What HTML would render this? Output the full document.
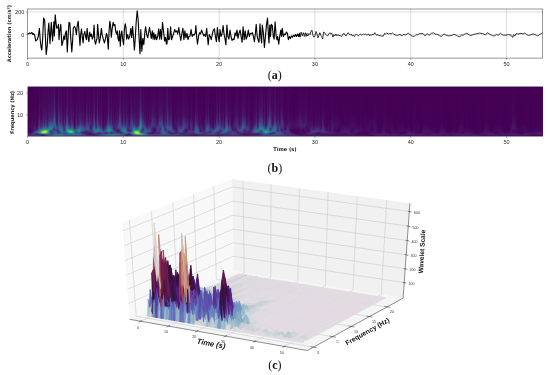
<!DOCTYPE html><html><head><meta charset="utf-8"><title>Figure</title><style>html,body{margin:0;padding:0;background:#fff}body{width:550px;height:375px;position:relative;overflow:hidden}#b{position:absolute;left:28px;top:87px;width:515px;height:49px;display:flex;background:#440154}#b i{flex:0 0 1px;height:49px;display:block}</style></head><body><div id="b"><i style="background:linear-gradient(#440154,#440154 75.5%,#46075a 89.8%,#460b5e 93.9%,#482071 95.9%,#46327e 98%,#472e7c)"></i><i style="background:linear-gradient(#440154,#440154 57.1%,#46075a 83.7%,#450457 89.8%,#460b5e 93.9%,#482677 95.9%,#453581 98%,#472e7c)"></i><i style="background:linear-gradient(#440154,#440154 55.1%,#46085c 79.6%,#440256 91.8%,#471063 93.9%,#472c7a 95.9%,#443983 98%,#472f7d)"></i><i style="background:linear-gradient(#440154,#440256 59.2%,#470e61 83.7%,#450457 89.8%,#450559 91.8%,#46307e 95.9%,#443b84 98%,#46307e)"></i><i style="background:linear-gradient(#440154,#450457 55.1%,#471063 81.6%,#46085c 89.8%,#471365 91.8%,#482979 93.9%,#433e85 98%,#46307e)"></i><i style="background:linear-gradient(#440154,#440256 51%,#46085c 75.5%,#48186a 89.8%,#482475 91.8%,#453882 93.9%,#46327e 95.9%,#423f85 98%,#46327e)"></i><i style="background:linear-gradient(#440154,#46075a 71.4%,#470e61 77.6%,#482979 89.8%,#3f4788 93.9%,#472c7a 95.9%,#423f85 98%,#46327e)"></i><i style="background:linear-gradient(#440256,#450559 51%,#471365 75.5%,#481a6c 81.6%,#482677 87.8%,#46327e 89.8%,#3f4788 91.8%,#3b528b 93.9%,#482071 95.9%,#433e85 98%,#46337f)"></i><i style="background:linear-gradient(#440154,#440154 51%,#46075a 75.5%,#470d60 83.7%,#471164 85.7%,#482071 87.8%,#443a83 89.8%,#38588c 91.8%,#365d8d 93.9%,#470d60 95.9%,#443b84 98%,#463480)"></i><i style="background:linear-gradient(#440154,#450457 75.5%,#460a5d 79.6%,#481f70 85.7%,#46307e 87.8%,#3d4d8a 89.8%,#306a8e 91.8%,#30698e 93.9%,#471063 95.9%,#453781 98%,#463480)"></i><i style="background:linear-gradient(#440256,#450457 44.9%,#470d60 65.3%,#481d6f 75.5%,#443983 83.7%,#3b518b 87.8%,#27808e 91.8%,#29798e 93.9%,#482979 95.9%,#453581)"></i><i style="background:linear-gradient(#450559,#470e61 42.9%,#481a6c 59.2%,#482677 69.4%,#453781 77.6%,#3e4c8a 83.7%,#39568c 85.7%,#31688e 87.8%,#1e9b8a 91.8%,#21908d 93.9%,#423f85 95.9%,#482979 98%,#453581)"></i><i style="background:linear-gradient(#440256,#46075a 55.1%,#46085c 61.2%,#481467 73.5%,#482576 79.6%,#424086 83.7%,#39568c 85.7%,#1f968b 89.8%,#34b679 91.8%,#22a884 93.9%,#3b518b 95.9%,#482071 98%,#453781)"></i><i style="background:linear-gradient(#450457,#460a5d 55.1%,#470e61 65.3%,#481f70 77.6%,#472f7d 81.6%,#424186 83.7%,#365c8d 85.7%,#27808e 87.8%,#26ad81 89.8%,#73d056 91.8%,#46c06f 93.9%,#34608d 95.9%,#481467 98%,#453781)"></i><i style="background:linear-gradient(#450457,#460b5e 55.1%,#48186a 69.4%,#482979 75.5%,#3e4a89 81.6%,#2c718e 85.7%,#20928c 87.8%,#4ac16d 89.8%,#bade28 91.8%,#75d054 93.9%,#306a8e 95.9%,#450559 98%,#453882)"></i><i style="background:linear-gradient(#450559,#470e61 42.9%,#481a6c 59.2%,#482878 71.4%,#453882 77.6%,#3d4e8a 81.6%,#33628d 83.7%,#287c8e 85.7%,#1fa287 87.8%,#73d056 89.8%,#ece51b 91.8%,#98d83e 93.9%,#2d708e 95.9%,#471063 98%,#453882)"></i><i style="background:linear-gradient(#450457,#460a5d 36.7%,#481467 57.1%,#481668 69.4%,#481b6d 73.5%,#472a7a 77.6%,#3e4a89 81.6%,#33638d 83.7%,#26828e 85.7%,#25ac82 87.8%,#90d743 89.8%,#fde725 91.8%,#9dd93b 93.9%,#2c718e 95.9%,#482173 98%,#443983)"></i><i style="background:linear-gradient(#450559,#460a5d 38.8%,#481467 57.1%,#481d6f 65.3%,#472c7a 71.4%,#404588 77.6%,#355e8d 81.6%,#2d708e 83.7%,#23898e 85.7%,#2ab07f 87.8%,#95d840 89.8%,#eae51a 91.8%,#86d549 93.9%,#2c718e 95.9%,#46327e 98%,#443983)"></i><i style="background:linear-gradient(#450559,#460b5e 36.7%,#481a6c 61.2%,#482576 71.4%,#453882 77.6%,#3b518b 81.6%,#31678e 83.7%,#25838e 85.7%,#26ad81 87.8%,#7ad151 89.8%,#aadc32 91.8%,#5cc863 93.9%,#2e6e8e 95.9%,#424186 98%,#443a83)"></i><i style="background:linear-gradient(#450457,#46085c 42.9%,#471164 67.3%,#481a6c 73.5%,#482677 77.6%,#46337f 79.6%,#404688 81.6%,#34608d 83.7%,#26818e 85.7%,#21a685 87.8%,#48c16e 89.8%,#50c46a 91.8%,#2eb37c 93.9%,#31678e 95.9%,#443a83)"></i><i style="background:linear-gradient(#46075a,#470e61 44.9%,#481d6f 65.3%,#46327e 73.5%,#404688 77.6%,#33628d 81.6%,#1f998a 87.8%,#1e9d89 89.8%,#1f968b 93.9%,#375b8d 95.9%,#365d8d 98%,#443b84)"></i><i style="background:linear-gradient(#450559,#460a5d 32.7%,#481a6c 59.2%,#472a7a 67.3%,#443983 71.4%,#375a8c 77.6%,#26818e 83.7%,#23888e 85.7%,#25858e 87.8%,#2d718e 89.8%,#32648e 91.8%,#29798e 93.9%,#3f4889 95.9%,#30698e 98%,#443b84)"></i><i style="background:linear-gradient(#46075a,#460b5e 32.7%,#481769 53.1%,#482071 61.2%,#472e7c 67.3%,#433e85 71.4%,#355f8d 77.6%,#25838e 83.7%,#25838e 85.7%,#2c738e 87.8%,#3d4d8a 89.8%,#46327e 91.8%,#33638d 93.9%,#46307e 95.9%,#2c738e 98%,#443b84)"></i><i style="background:linear-gradient(#46075a,#471063 38.8%,#482374 63.3%,#443983 71.4%,#365c8d 77.6%,#2a778e 81.6%,#277f8e 83.7%,#297a8e 85.7%,#31678e 87.8%,#414287 89.8%,#482071 91.8%,#38588c 93.9%,#482173 95.9%,#287d8e 98%,#433d84)"></i><i style="background:linear-gradient(#46075a,#470e61 38.8%,#481f70 61.2%,#46327e 69.4%,#3b518b 75.5%,#2d718e 81.6%,#2d718e 83.7%,#31688e 85.7%,#433d84 91.8%,#375b8d 93.9%,#472e7c 95.9%,#25858e 98%,#433d84)"></i><i style="background:linear-gradient(#46075a,#470e61 34.7%,#481c6e 53.1%,#472f7d 63.3%,#3e4c8a 71.4%,#355f8d 77.6%,#375a8c 81.6%,#453581 85.7%,#424186 87.8%,#39558c 89.8%,#39558c 91.8%,#34618d 93.9%,#414287 95.9%,#228b8d 98%,#433d84)"></i><i style="background:linear-gradient(#470d60,#471365 18.4%,#481f70 36.7%,#472c7a 46.9%,#414487 59.2%,#375b8d 69.4%,#33638d 75.5%,#355f8d 79.6%,#39558c 81.6%,#404588 83.7%,#472c7a 85.7%,#443983 87.8%,#39558c 89.8%,#355f8d 91.8%,#32648e 93.9%,#3b528b 95.9%,#21918c 98%,#433e85)"></i><i style="background:linear-gradient(#450559,#471063 44.9%,#482173 61.2%,#453581 69.4%,#38588c 79.6%,#375a8c 83.7%,#3e4a89 87.8%,#3d4e8a 89.8%,#365c8d 91.8%,#34618d 93.9%,#365c8d 95.9%,#1f948c 98%,#433e85)"></i><i style="background:linear-gradient(#440256,#450559 40.8%,#470e61 69.4%,#481d6f 75.5%,#414287 81.6%,#3d4d8a 83.7%,#3d4d8a 85.7%,#423f85 87.8%,#453882 89.8%,#3b518b 91.8%,#39558c 93.9%,#34608d 95.9%,#1f968b 98%,#433e85)"></i><i style="background:linear-gradient(#440154,#440256 42.9%,#470e61 67.3%,#481f70 75.5%,#414287 83.7%,#423f85 85.7%,#482576 87.8%,#481f70 89.8%,#404688 91.8%,#423f85 93.9%,#34618d 95.9%,#1f968b 98%,#433e85)"></i><i style="background:linear-gradient(#460a5d,#471063 22.4%,#481d6f 42.9%,#443a83 65.3%,#3a548c 83.7%,#3b518b 85.7%,#46327e 89.8%,#423f85 91.8%,#481f70 93.9%,#355f8d 95.9%,#1f958b 98%,#423f85)"></i><i style="background:linear-gradient(#450559,#470d60 38.8%,#481c6e 57.1%,#472a7a 67.3%,#453882 73.5%,#32658e 83.7%,#31678e 85.7%,#3d4d8a 89.8%,#404688 91.8%,#482173 93.9%,#355e8d 95.9%,#20928c 98%,#423f85)"></i><i style="background:linear-gradient(#450559,#460a5d 34.7%,#481d6f 67.3%,#482576 71.4%,#453781 75.5%,#3b528b 79.6%,#2e6f8e 83.7%,#2a768e 85.7%,#2b748e 87.8%,#375b8d 91.8%,#424186 93.9%,#365c8d 95.9%,#218f8d 98%,#423f85)"></i><i style="background:linear-gradient(#46075a,#471063 42.9%,#481d6f 59.2%,#433e85 73.5%,#3a548c 79.6%,#2a768e 85.7%,#297a8e 87.8%,#2f6b8e 91.8%,#3a548c 93.9%,#375a8c 95.9%,#238a8d 98%,#423f85)"></i><i style="background:linear-gradient(#440154,#450457 40.8%,#471063 69.4%,#481769 73.5%,#482677 77.6%,#3b518b 83.7%,#355e8d 85.7%,#32648e 87.8%,#31668e 89.8%,#2e6f8e 91.8%,#38598c 93.9%,#38588c 95.9%,#25838e 98%,#423f85)"></i><i style="background:linear-gradient(#440256,#46075a 49%,#481467 69.4%,#481f70 77.6%,#453781 83.7%,#443a83 85.7%,#46327e 87.8%,#3e4989 89.8%,#2f6b8e 91.8%,#3d4e8a 93.9%,#39558c 95.9%,#287d8e 98%,#424086)"></i><i style="background:linear-gradient(#450457,#460a5d 46.9%,#482475 75.5%,#463480 83.7%,#46327e 85.7%,#482173 87.8%,#414287 89.8%,#306a8e 91.8%,#443b84 93.9%,#2b758e 98%,#424086)"></i><i style="background:linear-gradient(#440256,#450457 32.7%,#471164 69.4%,#482475 75.5%,#3e4989 81.6%,#375a8c 85.7%,#38598c 87.8%,#34618d 89.8%,#2d708e 91.8%,#46327e 93.9%,#39558c 95.9%,#2e6e8e 98%,#424086)"></i><i style="background:linear-gradient(#450559,#470e61 38.8%,#481f70 57.1%,#472e7c 65.3%,#404588 73.5%,#2a778e 83.7%,#25838e 87.8%,#26828e 91.8%,#3f4889 93.9%,#31678e 98%,#424086)"></i><i style="background:linear-gradient(#460a5d,#471365 34.7%,#481c6e 49%,#482677 57.1%,#443b84 67.3%,#3c4f8a 73.5%,#2f6c8e 79.6%,#20928c 85.7%,#1f9f88 87.8%,#20a486 89.8%,#1e9d89 91.8%,#30698e 93.9%,#38598c 95.9%,#34618d 98%,#424086)"></i><i style="background:linear-gradient(#450559,#460b5e 51%,#481467 65.3%,#481d6f 71.4%,#472d7b 75.5%,#3f4889 79.6%,#2d718e 83.7%,#23898e 85.7%,#20a486 87.8%,#38b977 89.8%,#34b679 91.8%,#26828e 93.9%,#365c8d 95.9%,#365c8d 98%,#424086)"></i><i style="background:linear-gradient(#450457,#470e61 63.3%,#471365 69.4%,#481b6d 73.5%,#46307e 79.6%,#423f85 81.6%,#39558c 83.7%,#2b748e 85.7%,#1e9d89 87.8%,#48c16e 89.8%,#58c765 91.8%,#1f978b 93.9%,#34608d 95.9%,#38598c 98%,#424086)"></i><i style="background:linear-gradient(#450457,#46085c 42.9%,#481b6d 73.5%,#482677 77.6%,#424086 81.6%,#3a548c 83.7%,#2c718e 85.7%,#1f988b 87.8%,#48c16e 89.8%,#69cd5b 91.8%,#1fa287 93.9%,#31678e 95.9%,#38588c 98%,#424086)"></i><i style="background:linear-gradient(#450559,#471063 44.9%,#481a6c 59.2%,#472d7b 73.5%,#443983 77.6%,#3b518b 81.6%,#2a788e 85.7%,#1f958b 87.8%,#37b878 89.8%,#60ca60 91.8%,#21a585 93.9%,#2e6f8e 95.9%,#424086)"></i><i style="background:linear-gradient(#450457,#46085c 42.9%,#481467 63.3%,#481f70 69.4%,#46337f 75.5%,#3a538b 81.6%,#2c728e 85.7%,#23898e 87.8%,#22a884 89.8%,#3fbc73 91.8%,#1f9e89 93.9%,#2a768e 95.9%,#424086)"></i><i style="background:linear-gradient(#450457,#46085c 42.9%,#471365 67.3%,#481a6c 73.5%,#472c7a 79.6%,#424186 83.7%,#3a548c 85.7%,#2e6e8e 87.8%,#218f8d 89.8%,#1fa188 91.8%,#238a8d 93.9%,#287d8e 95.9%,#375b8d 98%,#424086)"></i><i style="background:linear-gradient(#440154,#450559 59.2%,#440256 71.4%,#460a5d 79.6%,#481b6d 83.7%,#46327e 85.7%,#3a538b 87.8%,#2b758e 89.8%,#287d8e 91.8%,#2f6c8e 93.9%,#27808e 95.9%,#365d8d 98%,#424086)"></i><i style="background:linear-gradient(#440154,#450457 49%,#471063 69.4%,#481d6f 77.6%,#472e7c 83.7%,#443b84 85.7%,#31688e 89.8%,#365d8d 91.8%,#404688 93.9%,#27808e 95.9%,#424086)"></i><i style="background:linear-gradient(#450457,#46085c 32.7%,#470e61 49%,#481a6c 63.3%,#482677 73.5%,#463480 79.6%,#404588 83.7%,#2f6c8e 89.8%,#39568c 91.8%,#46307e 93.9%,#277e8e 95.9%,#355f8d 98%,#424086)"></i><i style="background:linear-gradient(#440256,#450457 34.7%,#471063 69.4%,#481c6e 75.5%,#472f7d 79.6%,#3d4d8a 83.7%,#2c718e 87.8%,#287c8e 89.8%,#31688e 91.8%,#423f85 93.9%,#2a788e 95.9%,#424086)"></i><i style="background:linear-gradient(#450457,#460a5d 42.9%,#481b6d 71.4%,#472a7a 77.6%,#453581 79.6%,#38598c 83.7%,#26828e 87.8%,#23898e 89.8%,#2c738e 91.8%,#3d4e8a 93.9%,#2c718e 95.9%,#355e8d 98%,#423f85)"></i><i style="background:linear-gradient(#450559,#460a5d 36.7%,#470e61 49%,#481c6e 65.3%,#472d7b 73.5%,#433d84 77.6%,#39568c 81.6%,#24868e 87.8%,#24868e 89.8%,#2e6e8e 91.8%,#3c4f8a 93.9%,#306a8e 95.9%,#375b8d 98%,#423f85)"></i><i style="background:linear-gradient(#450457,#460a5d 40.8%,#481a6c 63.3%,#482071 67.3%,#453882 75.5%,#375a8c 81.6%,#2b758e 85.7%,#287d8e 87.8%,#2b758e 89.8%,#39558c 91.8%,#404588 93.9%,#34608d 95.9%,#38588c 98%,#423f85)"></i><i style="background:linear-gradient(#450457,#460b5e 42.9%,#481769 65.3%,#482071 71.4%,#472c7a 75.5%,#3b518b 81.6%,#2e6d8e 85.7%,#2c718e 87.8%,#33638d 89.8%,#453882 91.8%,#46337f 93.9%,#39558c 95.9%,#3a538b 98%,#423f85)"></i><i style="background:linear-gradient(#440256,#450559 36.7%,#471063 63.3%,#482374 73.5%,#46337f 77.6%,#3e4989 81.6%,#33638d 85.7%,#31678e 87.8%,#39568c 89.8%,#482677 91.8%,#482173 93.9%,#3e4989 95.9%,#3d4d8a 98%,#423f85)"></i><i style="background:linear-gradient(#450457,#46085c 36.7%,#470d60 49%,#481d6f 69.4%,#472d7b 77.6%,#433e85 81.6%,#38588c 85.7%,#365d8d 87.8%,#3d4d8a 89.8%,#482677 91.8%,#481a6c 93.9%,#433e85 95.9%,#404688 98%,#423f85)"></i><i style="background:linear-gradient(#440256,#450457 36.7%,#460b5e 69.4%,#471063 73.5%,#481b6d 77.6%,#46327e 81.6%,#3c4f8a 85.7%,#3b518b 87.8%,#433e85 89.8%,#482374 91.8%,#481c6e 93.9%,#46337f 95.9%,#423f85 98%,#433e85)"></i><i style="background:linear-gradient(#440154,#450457 44.9%,#460a5d 63.3%,#481b6d 73.5%,#46307e 79.6%,#3e4c8a 85.7%,#3f4788 87.8%,#472a7a 89.8%,#48186a 91.8%,#481f70 93.9%,#453781 98%,#433e85)"></i><i style="background:linear-gradient(#450559,#46085c 26.5%,#481467 51%,#482878 67.3%,#443983 75.5%,#3e4c8a 81.6%,#3b518b 85.7%,#404688 87.8%,#482878 89.8%,#481668 91.8%,#482071 93.9%,#482071 95.9%,#433e85)"></i><i style="background:linear-gradient(#450559,#46085c 30.6%,#471365 55.1%,#482677 69.4%,#453781 75.5%,#39558c 83.7%,#39568c 85.7%,#3d4d8a 87.8%,#481f70 91.8%,#481a6c 95.9%,#482677 98%,#433e85)"></i><i style="background:linear-gradient(#440256,#46085c 53.1%,#470d60 63.3%,#481a6c 71.4%,#482878 75.5%,#3e4989 81.6%,#3b518b 83.7%,#3b528b 85.7%,#3d4d8a 87.8%,#433d84 89.8%,#482475 91.8%,#481467 95.9%,#482071 98%,#433d84)"></i><i style="background:linear-gradient(#450559,#46075a 22.4%,#471063 49%,#482374 67.3%,#433d84 81.6%,#414287 87.8%,#443b84 89.8%,#482173 91.8%,#471164 95.9%,#48186a 98%,#433d84)"></i><i style="background:linear-gradient(#440256,#46075a 51%,#470e61 61.2%,#482475 77.6%,#481b6d 83.7%,#482374 85.7%,#453581 87.8%,#443983 89.8%,#481b6d 91.8%,#481c6e 93.9%,#471365 95.9%,#471365 98%,#433d84)"></i><i style="background:linear-gradient(#440256,#46075a 42.9%,#481d6f 75.5%,#48186a 83.7%,#482374 85.7%,#453781 87.8%,#433e85 89.8%,#482071 91.8%,#482374 93.9%,#470d60 98%,#443b84)"></i><i style="background:linear-gradient(#440256,#450457 32.7%,#470d60 69.4%,#481b6d 75.5%,#453882 81.6%,#3e4c8a 87.8%,#3d4d8a 89.8%,#453581 91.8%,#472d7b 93.9%,#481d6f 95.9%,#460a5d 98%,#443b84)"></i><i style="background:linear-gradient(#450559,#460a5d 30.6%,#481769 53.1%,#46337f 71.4%,#433e85 75.5%,#365d8d 83.7%,#32648e 87.8%,#33628d 89.8%,#453882 93.9%,#482374 95.9%,#460b5e 98%,#443b84)"></i><i style="background:linear-gradient(#46085c,#471063 36.7%,#481c6e 53.1%,#482878 61.2%,#433e85 71.4%,#2c728e 87.8%,#2b758e 89.8%,#32648e 91.8%,#424086 93.9%,#482878 95.9%,#471063 98%,#443b84)"></i><i style="background:linear-gradient(#440256,#46075a 53.1%,#460b5e 65.3%,#481668 71.4%,#453581 81.6%,#404588 83.7%,#2b748e 87.8%,#26818e 89.8%,#2d718e 91.8%,#414287 93.9%,#481769 98%,#443a83)"></i><i style="background:linear-gradient(#450457,#460a5d 51%,#482475 79.6%,#472d7b 81.6%,#423f85 83.7%,#2a768e 87.8%,#24868e 89.8%,#2c738e 91.8%,#433e85 93.9%,#481d6f 98%,#443a83)"></i><i style="background:linear-gradient(#460a5d,#471365 32.7%,#481f70 49%,#46307e 63.3%,#3c4f8a 79.6%,#355e8d 83.7%,#297b8e 87.8%,#25848e 89.8%,#2d708e 91.8%,#46327e 93.9%,#46307e 95.9%,#482576 98%,#443983)"></i><i style="background:linear-gradient(#440256,#46075a 46.9%,#481467 65.3%,#482878 73.5%,#3a538b 81.6%,#297a8e 87.8%,#277f8e 89.8%,#31688e 91.8%,#481f70 93.9%,#463480 95.9%,#472f7d 98%,#443983)"></i><i style="background:linear-gradient(#450457,#46085c 40.8%,#481668 69.4%,#482475 77.6%,#472e7c 79.6%,#3c4f8a 83.7%,#2c728e 87.8%,#2a788e 89.8%,#33638d 91.8%,#481467 93.9%,#453882 95.9%,#443983)"></i><i style="background:linear-gradient(#440256,#450559 51%,#471063 69.4%,#482173 77.6%,#472a7a 79.6%,#39568c 85.7%,#31668e 87.8%,#2e6f8e 89.8%,#33638d 91.8%,#482677 93.9%,#443b84 95.9%,#414287 98%,#453882)"></i><i style="background:linear-gradient(#450457,#46085c 34.7%,#470e61 51%,#481a6c 65.3%,#472a7a 77.6%,#463480 81.6%,#404688 85.7%,#32648e 89.8%,#32658e 91.8%,#443983 93.9%,#423f85 95.9%,#3d4d8a 98%,#453882)"></i><i style="background:linear-gradient(#440154,#450457 57.1%,#470d60 73.5%,#482071 83.7%,#472a7a 85.7%,#443b84 87.8%,#39568c 89.8%,#31668e 91.8%,#414287 93.9%,#414487 95.9%,#38588c 98%,#453882)"></i><i style="background:linear-gradient(#440154,#440256 59.2%,#470e61 83.7%,#481769 85.7%,#472c7a 87.8%,#3d4d8a 89.8%,#33628d 91.8%,#424086 93.9%,#3f4788 95.9%,#33628d 98%,#453781)"></i><i style="background:linear-gradient(#440256,#450559 46.9%,#471063 75.5%,#48186a 81.6%,#482677 85.7%,#453781 87.8%,#3c508b 89.8%,#375b8d 91.8%,#46307e 93.9%,#3e4c8a 95.9%,#2f6b8e 98%,#453781)"></i><i style="background:linear-gradient(#440154,#440256 53.1%,#460a5d 73.5%,#471063 77.6%,#481d6f 81.6%,#443a83 85.7%,#375b8d 89.8%,#3a548c 91.8%,#481668 93.9%,#3c4f8a 95.9%,#2c738e 98%,#453781)"></i><i style="background:linear-gradient(#440256,#46075a 55.1%,#470d60 69.4%,#471365 73.5%,#482878 79.6%,#414487 83.7%,#32658e 87.8%,#2f6b8e 89.8%,#38588c 91.8%,#481769 93.9%,#3b528b 95.9%,#287c8e 98%,#453581)"></i><i style="background:linear-gradient(#450457,#460a5d 46.9%,#481b6d 65.3%,#482979 71.4%,#453882 75.5%,#38598c 81.6%,#27808e 87.8%,#27808e 89.8%,#31688e 91.8%,#463480 93.9%,#3a548c 95.9%,#25838e 98%,#453581)"></i><i style="background:linear-gradient(#460a5d,#481467 40.8%,#472c7a 63.3%,#453882 69.4%,#3e4c8a 75.5%,#34608d 79.6%,#1f958b 87.8%,#20928c 89.8%,#2a768e 91.8%,#404588 93.9%,#39558c 95.9%,#23898e 98%,#463480)"></i><i style="background:linear-gradient(#450559,#470d60 46.9%,#471164 59.2%,#481a6c 67.3%,#482979 73.5%,#46337f 75.5%,#33638d 81.6%,#238a8d 85.7%,#1f978b 87.8%,#20928c 89.8%,#2b748e 91.8%,#424186 93.9%,#39568c 95.9%,#218f8d 98%,#463480)"></i><i style="background:linear-gradient(#440256,#46075a 40.8%,#470e61 59.2%,#48186a 67.3%,#46307e 75.5%,#39568c 81.6%,#297a8e 85.7%,#25858e 87.8%,#26828e 89.8%,#32648e 91.8%,#472d7b 93.9%,#38598c 95.9%,#20928c 98%,#463480)"></i><i style="background:linear-gradient(#450559,#460b5e 36.7%,#481a6c 59.2%,#482677 69.4%,#443983 77.6%,#2d708e 87.8%,#2e6f8e 89.8%,#39558c 91.8%,#471063 93.9%,#375b8d 95.9%,#1f948c 98%,#46337f)"></i><i style="background:linear-gradient(#440256,#450457 42.9%,#460b5e 67.3%,#481b6d 75.5%,#414287 83.7%,#355f8d 89.8%,#3a538b 91.8%,#482576 93.9%,#355e8d 95.9%,#1f958b 98%,#46337f)"></i><i style="background:linear-gradient(#440256,#46075a 44.9%,#470d60 59.2%,#482173 83.7%,#482576 85.7%,#3d4e8a 89.8%,#3a538b 91.8%,#433e85 93.9%,#34618d 95.9%,#1f948c 98%,#46327e)"></i><i style="background:linear-gradient(#440256,#450559 49%,#470e61 65.3%,#481c6e 77.6%,#481c6e 81.6%,#481668 85.7%,#482576 87.8%,#443b84 89.8%,#3e4c8a 91.8%,#3e4c8a 93.9%,#32648e 95.9%,#20928c 98%,#46327e)"></i><i style="background:linear-gradient(#440256,#450559 40.8%,#460b5e 59.2%,#481769 71.4%,#472d7b 81.6%,#472e7c 83.7%,#482576 87.8%,#482878 89.8%,#443a83 91.8%,#32658e 95.9%,#218f8d 98%,#46327e)"></i><i style="background:linear-gradient(#440256,#46085c 53.1%,#471164 67.3%,#472e7c 83.7%,#482677 85.7%,#481769 87.8%,#470e61 89.8%,#482576 91.8%,#3e4a89 93.9%,#32648e 95.9%,#238a8d 98%,#46307e)"></i><i style="background:linear-gradient(#450457,#46075a 32.7%,#470d60 51%,#481f70 71.4%,#443a83 81.6%,#443a83 83.7%,#46327e 85.7%,#471063 89.8%,#481b6d 91.8%,#414287 93.9%,#25848e 98%,#46307e)"></i><i style="background:linear-gradient(#450457,#46075a 34.7%,#471365 61.2%,#482071 69.4%,#404588 79.6%,#3f4788 81.6%,#414487 83.7%,#453581 85.7%,#481c6e 87.8%,#471365 89.8%,#453581 93.9%,#365d8d 95.9%,#287d8e 98%,#46307e)"></i><i style="background:linear-gradient(#46075a,#470d60 28.6%,#481668 42.9%,#482173 53.1%,#46307e 61.2%,#3b518b 75.5%,#3a548c 79.6%,#3a538b 81.6%,#3e4c8a 83.7%,#443b84 85.7%,#482173 87.8%,#482071 89.8%,#472c7a 91.8%,#482576 93.9%,#38588c 95.9%,#2b758e 98%,#472f7d)"></i><i style="background:linear-gradient(#46085c,#471063 34.7%,#481c6e 51%,#463480 65.3%,#3a548c 77.6%,#375b8d 81.6%,#3b518b 85.7%,#414287 87.8%,#46337f 91.8%,#471365 93.9%,#3a548c 95.9%,#2f6c8e 98%,#472f7d)"></i><i style="background:linear-gradient(#450457,#46085c 42.9%,#471063 63.3%,#481f70 71.4%,#404588 79.6%,#365c8d 83.7%,#33628d 85.7%,#355e8d 87.8%,#3b528b 89.8%,#424086 91.8%,#481f70 93.9%,#3a538b 95.9%,#33628d 98%,#472e7c)"></i><i style="background:linear-gradient(#440256,#450559 44.9%,#471164 69.4%,#48186a 73.5%,#482878 77.6%,#3f4788 81.6%,#2f6b8e 85.7%,#2c718e 87.8%,#2f6b8e 89.8%,#433d84 93.9%,#3a538b 95.9%,#39558c 98%,#472e7c)"></i><i style="background:linear-gradient(#450559,#471063 44.9%,#482878 69.4%,#453581 75.5%,#404688 79.6%,#26818e 87.8%,#26818e 89.8%,#2e6e8e 91.8%,#3a548c 93.9%,#3b528b 95.9%,#3e4989 98%,#472e7c)"></i><i style="background:linear-gradient(#450457,#46085c 40.8%,#470e61 57.1%,#481a6c 67.3%,#482878 73.5%,#453781 77.6%,#3c4f8a 81.6%,#25858e 87.8%,#23898e 89.8%,#287d8e 91.8%,#3c4f8a 95.9%,#443a83 98%,#472d7b)"></i><i style="background:linear-gradient(#450457,#460a5d 59.2%,#471164 69.4%,#481a6c 73.5%,#482979 77.6%,#404588 81.6%,#38588c 83.7%,#2a788e 87.8%,#277f8e 89.8%,#287d8e 91.8%,#2e6d8e 93.9%,#3f4889 95.9%,#472a7a 98%,#472d7b)"></i><i style="background:linear-gradient(#450559,#460b5e 36.7%,#481c6e 61.2%,#482475 67.3%,#443983 77.6%,#375a8c 87.8%,#2c718e 91.8%,#2e6f8e 93.9%,#433e85 95.9%,#481a6c 98%,#472c7a)"></i><i style="background:linear-gradient(#440256,#46085c 53.1%,#481769 67.3%,#46307e 81.6%,#46307e 83.7%,#482677 87.8%,#433e85 89.8%,#355f8d 91.8%,#2e6e8e 93.9%,#472f7d 95.9%,#46085c 98%,#472c7a)"></i><i style="background:linear-gradient(#440256,#46085c 57.1%,#481668 73.5%,#472a7a 83.7%,#482677 85.7%,#481769 87.8%,#482677 89.8%,#3e4c8a 91.8%,#2f6b8e 93.9%,#481c6e 95.9%,#471164 98%,#472c7a)"></i><i style="background:linear-gradient(#440154,#450457 53.1%,#460a5d 71.4%,#48186a 77.6%,#453581 83.7%,#453882 85.7%,#482475 89.8%,#424086 91.8%,#2f6c8e 93.9%,#470d60 95.9%,#482374 98%,#472a7a)"></i><i style="background:linear-gradient(#450457,#460b5e 46.9%,#481a6c 63.3%,#453581 77.6%,#433e85 83.7%,#443983 85.7%,#48186a 89.8%,#404588 91.8%,#2c738e 93.9%,#482677 95.9%,#46327e 98%,#472a7a)"></i><i style="background:linear-gradient(#450559,#460a5d 28.6%,#481668 51%,#482576 63.3%,#424186 75.5%,#3e4989 81.6%,#423f85 85.7%,#472d7b 87.8%,#46307e 89.8%,#355e8d 91.8%,#26828e 93.9%,#404688 95.9%,#424086 98%,#472a7a)"></i><i style="background:linear-gradient(#450559,#460a5d 34.7%,#470e61 46.9%,#481d6f 63.3%,#472e7c 71.4%,#3e4c8a 79.6%,#365c8d 83.7%,#31668e 89.8%,#1f988b 93.9%,#32658e 95.9%,#3d4e8a 98%,#482979)"></i><i style="background:linear-gradient(#440256,#46075a 49%,#481668 67.3%,#481d6f 71.4%,#472d7b 75.5%,#3f4889 79.6%,#306a8e 83.7%,#20928c 89.8%,#22a785 91.8%,#31b57b 93.9%,#26828e 95.9%,#38598c 98%,#482979)"></i><i style="background:linear-gradient(#450559,#471164 49%,#481c6e 63.3%,#482979 71.4%,#433d84 77.6%,#39558c 81.6%,#287d8e 85.7%,#1f958b 87.8%,#29af7f 89.8%,#5cc863 91.8%,#70cf57 93.9%,#1e9d89 95.9%,#33628d 98%,#482878)"></i><i style="background:linear-gradient(#450457,#460b5e 53.1%,#471365 65.3%,#481d6f 73.5%,#472a7a 77.6%,#424186 81.6%,#3a548c 83.7%,#2e6f8e 85.7%,#21918c 87.8%,#3fbc73 89.8%,#a5db36 91.8%,#b5de2b 93.9%,#2fb47c 95.9%,#2f6b8e 98%,#482878)"></i><i style="background:linear-gradient(#450457,#46075a 40.8%,#470e61 63.3%,#48186a 73.5%,#482173 77.6%,#46337f 81.6%,#414487 83.7%,#365d8d 85.7%,#25848e 87.8%,#40bd72 89.8%,#c8e020 91.8%,#dae319 93.9%,#54c568 95.9%,#2c718e 98%,#482878)"></i><i style="background:linear-gradient(#450457,#46085c 36.7%,#481467 67.3%,#481b6d 73.5%,#482374 77.6%,#46337f 81.6%,#414487 83.7%,#355f8d 85.7%,#23888e 87.8%,#40bd72 89.8%,#b8de29 91.8%,#d8e219 93.9%,#73d056 95.9%,#2a778e 98%,#482677)"></i><i style="background:linear-gradient(#450457,#460a5d 44.9%,#481a6c 73.5%,#482677 77.6%,#46337f 79.6%,#355f8d 83.7%,#1f998a 87.8%,#37b878 89.8%,#77d153 91.8%,#a8db34 93.9%,#84d44b 95.9%,#297b8e 98%,#482677)"></i><i style="background:linear-gradient(#46075a,#471365 46.9%,#482576 63.3%,#433e85 71.4%,#355f8d 77.6%,#25838e 83.7%,#1f9a8a 89.8%,#23a983 91.8%,#56c667 93.9%,#81d34d 95.9%,#277e8e 98%,#482677)"></i><i style="background:linear-gradient(#470e61,#481668 24.5%,#481f70 38.8%,#472c7a 49%,#3d4d8a 63.3%,#25858e 79.6%,#25858e 83.7%,#31688e 89.8%,#2e6e8e 91.8%,#1fa187 93.9%,#6ece58 95.9%,#277f8e 98%,#482576)"></i><i style="background:linear-gradient(#46085c,#470e61 28.6%,#481a6c 49%,#482173 55.1%,#463480 63.3%,#39568c 71.4%,#2a788e 79.6%,#2a788e 81.6%,#2d718e 83.7%,#3e4a89 87.8%,#424086 89.8%,#472c7a 91.8%,#287d8e 93.9%,#4ec36b 95.9%,#277f8e 98%,#482576)"></i><i style="background:linear-gradient(#450457,#460a5d 36.7%,#481467 55.1%,#472a7a 67.3%,#424186 73.5%,#38588c 79.6%,#38588c 81.6%,#3c4f8a 83.7%,#482677 87.8%,#443a83 89.8%,#472d7b 91.8%,#31678e 93.9%,#2eb37c 95.9%,#287d8e 98%,#482576)"></i><i style="background:linear-gradient(#450457,#460a5d 42.9%,#471365 57.1%,#482173 67.3%,#453882 75.5%,#404688 81.6%,#424186 83.7%,#46307e 85.7%,#482677 87.8%,#3f4889 89.8%,#34608d 93.9%,#1f9f88 95.9%,#297a8e 98%,#482475)"></i><i style="background:linear-gradient(#440256,#46075a 42.9%,#460a5d 53.1%,#481668 67.3%,#482979 75.5%,#3c4f8a 83.7%,#3b528b 87.8%,#32648e 91.8%,#365d8d 93.9%,#23898e 95.9%,#2a768e 98%,#482475)"></i><i style="background:linear-gradient(#450457,#460a5d 51%,#471365 67.3%,#482677 77.6%,#3f4889 83.7%,#39558c 85.7%,#32658e 89.8%,#32658e 91.8%,#3b528b 93.9%,#2b748e 95.9%,#2c728e 98%,#482374)"></i><i style="background:linear-gradient(#440256,#450559 53.1%,#471365 73.5%,#481b6d 77.6%,#472a7a 81.6%,#3f4889 85.7%,#375a8c 87.8%,#33638d 89.8%,#365c8d 91.8%,#424086 93.9%,#355f8d 95.9%,#2e6d8e 98%,#482374)"></i><i style="background:linear-gradient(#440256,#450559 44.9%,#471063 75.5%,#482071 81.6%,#433e85 85.7%,#3b518b 87.8%,#355e8d 89.8%,#3b528b 91.8%,#472a7a 93.9%,#3e4a89 95.9%,#31678e 98%,#482374)"></i><i style="background:linear-gradient(#440154,#450457 53.1%,#470d60 71.4%,#471365 75.5%,#482576 81.6%,#423f85 85.7%,#3c4f8a 87.8%,#38588c 89.8%,#3e4a89 91.8%,#482071 93.9%,#453882 95.9%,#34618d 98%,#482173)"></i><i style="background:linear-gradient(#440256,#46085c 46.9%,#481467 71.4%,#482374 79.6%,#3d4d8a 87.8%,#3c508b 89.8%,#404588 91.8%,#482173 93.9%,#472a7a 95.9%,#375b8d 98%,#482173)"></i><i style="background:linear-gradient(#440154,#46085c 61.2%,#481668 73.5%,#482173 77.6%,#443b84 83.7%,#414287 87.8%,#424186 89.8%,#443983 91.8%,#482374 93.9%,#482576 95.9%,#3a548c 98%,#482173)"></i><i style="background:linear-gradient(#450457,#460b5e 51%,#481a6c 65.3%,#453781 81.6%,#472e7c 89.8%,#482979 91.8%,#481c6e 93.9%,#482576 95.9%,#3d4e8a 98%,#482071)"></i><i style="background:linear-gradient(#450559,#46085c 26.5%,#471063 46.9%,#481b6d 59.2%,#453781 77.6%,#472f7d 81.6%,#481d6f 85.7%,#481b6d 91.8%,#471063 93.9%,#482979 95.9%,#3f4889 98%,#482071)"></i><i style="background:linear-gradient(#450559,#46075a 24.5%,#470e61 46.9%,#481769 57.1%,#46327e 75.5%,#472e7c 79.6%,#482677 81.6%,#46085c 85.7%,#481668 91.8%,#470d60 93.9%,#472c7a 95.9%,#414487 98%,#482071)"></i><i style="background:linear-gradient(#440256,#460a5d 49%,#471164 59.2%,#472e7c 77.6%,#482677 81.6%,#46075a 87.8%,#46085c 89.8%,#481b6d 91.8%,#48186a 93.9%,#472f7d 95.9%,#424086 98%,#481f70)"></i><i style="background:linear-gradient(#440256,#460a5d 46.9%,#471164 59.2%,#482878 77.6%,#482576 81.6%,#471164 87.8%,#481769 89.8%,#482475 91.8%,#482173 93.9%,#433e85 98%,#481f70)"></i><i style="background:linear-gradient(#440256,#450559 44.9%,#460b5e 61.2%,#481d6f 77.6%,#472a7a 83.7%,#482979 87.8%,#472e7c 91.8%,#482475 93.9%,#453581 95.9%,#433d84 98%,#481f70)"></i><i style="background:linear-gradient(#440154,#46085c 67.3%,#471365 75.5%,#472e7c 81.6%,#433d84 85.7%,#46337f 91.8%,#481f70 93.9%,#443a83 95.9%,#433e85 98%,#481f70)"></i><i style="background:linear-gradient(#450457,#460a5d 42.9%,#481467 61.2%,#482576 71.4%,#443a83 79.6%,#424086 83.7%,#463480 91.8%,#471063 93.9%,#424086 95.9%,#423f85 98%,#481d6f)"></i><i style="background:linear-gradient(#450559,#460a5d 34.7%,#481668 55.1%,#482173 63.3%,#443a83 73.5%,#414487 79.6%,#424186 81.6%,#453882 83.7%,#482878 85.7%,#482475 87.8%,#453781 89.8%,#453781 91.8%,#481769 93.9%,#3f4889 95.9%,#424186 98%,#481d6f)"></i><i style="background:linear-gradient(#450559,#460a5d 32.7%,#481668 53.1%,#482475 63.3%,#3f4788 77.6%,#424186 81.6%,#46337f 83.7%,#481d6f 85.7%,#482475 87.8%,#423f85 89.8%,#404588 91.8%,#46327e 93.9%,#3c508b 95.9%,#414487 98%,#481d6f)"></i><i style="background:linear-gradient(#450559,#460b5e 32.7%,#481769 55.1%,#482878 65.3%,#3e4989 75.5%,#3a548c 81.6%,#3f4889 87.8%,#39568c 91.8%,#3e4989 93.9%,#38588c 95.9%,#404688 98%,#481c6e)"></i><i style="background:linear-gradient(#450559,#460b5e 36.7%,#48186a 57.1%,#482071 63.3%,#46327e 71.4%,#355e8d 83.7%,#32658e 91.8%,#365d8d 93.9%,#365d8d 95.9%,#3e4989 98%,#481c6e)"></i><i style="background:linear-gradient(#440256,#450457 49%,#460b5e 67.3%,#481b6d 75.5%,#482475 77.6%,#424086 81.6%,#365d8d 85.7%,#33638d 89.8%,#2f6c8e 91.8%,#34618d 95.9%,#3d4d8a 98%,#481c6e)"></i><i style="background:linear-gradient(#450457,#460a5d 49%,#481668 65.3%,#482878 77.6%,#443a83 83.7%,#433d84 87.8%,#31688e 91.8%,#306a8e 93.9%,#34618d 95.9%,#3c4f8a 98%,#481c6e)"></i><i style="background:linear-gradient(#440256,#450559 32.7%,#460b5e 51%,#481467 61.2%,#46307e 81.6%,#472e7c 83.7%,#481769 87.8%,#423f85 89.8%,#375b8d 91.8%,#32648e 93.9%,#355e8d 95.9%,#3b518b 98%,#481c6e)"></i><i style="background:linear-gradient(#460a5d,#481668 49%,#481467 67.3%,#481c6e 71.4%,#453781 77.6%,#3f4788 81.6%,#3f4889 83.7%,#443a83 87.8%,#433e85 89.8%,#404688 91.8%,#38588c 93.9%,#3a538b 98%,#481b6d)"></i><i style="background:linear-gradient(#460b5e,#471164 28.6%,#481d6f 46.9%,#433e85 71.4%,#375a8c 83.7%,#38588c 85.7%,#3d4d8a 87.8%,#472c7a 91.8%,#3f4889 93.9%,#3a548c 98%,#481b6d)"></i><i style="background:linear-gradient(#450457,#46085c 34.7%,#481668 55.1%,#46307e 73.5%,#433d84 77.6%,#375a8c 83.7%,#365c8d 85.7%,#3b518b 87.8%,#463480 89.8%,#470d60 91.8%,#443b84 93.9%,#433d84 95.9%,#39558c 98%,#481b6d)"></i><i style="background:linear-gradient(#440256,#46085c 46.9%,#481467 69.4%,#482475 75.5%,#433d84 79.6%,#375a8c 83.7%,#355f8d 85.7%,#38588c 87.8%,#433e85 89.8%,#481c6e 91.8%,#46337f 93.9%,#472c7a 95.9%,#39558c 98%,#481b6d)"></i><i style="background:linear-gradient(#450559,#460b5e 34.7%,#48186a 57.1%,#472c7a 69.4%,#414287 77.6%,#355e8d 85.7%,#375b8d 87.8%,#3e4989 89.8%,#472e7c 91.8%,#472e7c 93.9%,#481a6c 95.9%,#39558c 98%,#481b6d)"></i><i style="background:linear-gradient(#450457,#46075a 32.7%,#471164 57.1%,#482374 69.4%,#423f85 79.6%,#3a538b 87.8%,#3d4d8a 89.8%,#443a83 91.8%,#472e7c 93.9%,#460a5d 95.9%,#3a548c 98%,#481b6d)"></i><i style="background:linear-gradient(#440154,#440256 55.1%,#46085c 69.4%,#482374 81.6%,#472a7a 83.7%,#414287 87.8%,#3e4989 89.8%,#424186 91.8%,#46307e 93.9%,#481668 95.9%,#3a538b 98%,#481a6c)"></i><i style="background:linear-gradient(#440154,#440256 65.3%,#460b5e 81.6%,#471164 83.7%,#472f7d 87.8%,#433e85 89.8%,#424086 91.8%,#482475 95.9%,#3b518b 98%,#481a6c)"></i><i style="background:linear-gradient(#440256,#450559 53.1%,#471164 75.5%,#481a6c 85.7%,#482071 87.8%,#472f7d 89.8%,#453882 91.8%,#472d7b 93.9%,#472e7c 95.9%,#3c4f8a 98%,#481a6c)"></i><i style="background:linear-gradient(#440154,#450457 55.1%,#481467 79.6%,#470d60 85.7%,#481467 87.8%,#482475 89.8%,#472a7a 91.8%,#482374 93.9%,#463480 95.9%,#3d4d8a 98%,#481a6c)"></i><i style="background:linear-gradient(#440154,#450559 61.2%,#481668 79.6%,#470d60 85.7%,#482374 89.8%,#481b6d 93.9%,#453882 95.9%,#3e4a89 98%,#481a6c)"></i><i style="background:linear-gradient(#440256,#46085c 57.1%,#471063 67.3%,#482374 79.6%,#482475 85.7%,#472c7a 89.8%,#482071 93.9%,#443983 95.9%,#3f4788 98%,#481a6c)"></i><i style="background:linear-gradient(#450457,#450559 32.7%,#470d60 57.1%,#481a6c 69.4%,#423f85 89.8%,#443983 91.8%,#472d7b 93.9%,#414487 98%,#481a6c)"></i><i style="background:linear-gradient(#440154,#450457 46.9%,#46075a 59.2%,#471063 71.4%,#482374 79.6%,#414287 85.7%,#3c508b 89.8%,#3f4889 91.8%,#453581 93.9%,#46337f 95.9%,#424086 98%,#481a6c)"></i><i style="background:linear-gradient(#440256,#46075a 49%,#481467 73.5%,#481b6d 77.6%,#482878 81.6%,#3a538b 87.8%,#38598c 89.8%,#3d4e8a 91.8%,#453882 93.9%,#472d7b 95.9%,#433e85 98%,#481a6c)"></i><i style="background:linear-gradient(#440154,#450559 55.1%,#471063 73.5%,#482071 79.6%,#443983 83.7%,#39558c 87.8%,#39568c 89.8%,#3e4989 91.8%,#482677 95.9%,#443a83 98%,#481a6c)"></i><i style="background:linear-gradient(#450457,#46075a 40.8%,#471365 65.3%,#482475 75.5%,#404588 83.7%,#3c508b 87.8%,#3e4a89 89.8%,#433e85 91.8%,#482173 95.9%,#453781 98%,#481a6c)"></i><i style="background:linear-gradient(#450457,#460a5d 38.8%,#481467 57.1%,#482878 69.4%,#423f85 77.6%,#3e4989 83.7%,#3f4788 85.7%,#472d7b 91.8%,#482173 95.9%,#46337f 98%,#481a6c)"></i><i style="background:linear-gradient(#450457,#46075a 30.6%,#471063 55.1%,#481c6e 65.3%,#443b84 77.6%,#424186 81.6%,#423f85 83.7%,#481a6c 91.8%,#482475 93.9%,#482475 95.9%,#46307e 98%,#481a6c)"></i><i style="background:linear-gradient(#440256,#460a5d 51%,#481a6c 67.3%,#463480 79.6%,#472f7d 83.7%,#481668 87.8%,#481a6c 89.8%,#471164 91.8%,#482173 93.9%,#472d7b 98%,#481a6c)"></i><i style="background:linear-gradient(#440256,#46085c 53.1%,#471063 63.3%,#472c7a 79.6%,#472c7a 81.6%,#482576 83.7%,#46085c 87.8%,#481a6c 89.8%,#472a7a 95.9%,#472a7a 98%,#481a6c)"></i><i style="background:linear-gradient(#440256,#460a5d 55.1%,#481467 67.3%,#482979 79.6%,#482878 83.7%,#481b6d 87.8%,#472a7a 91.8%,#472d7b 95.9%,#482677 98%,#481a6c)"></i><i style="background:linear-gradient(#440154,#46085c 61.2%,#481c6e 79.6%,#481b6d 85.7%,#463480 91.8%,#472d7b 95.9%,#481a6c)"></i><i style="background:linear-gradient(#440154,#440256 53.1%,#450559 63.3%,#481467 79.6%,#470e61 83.7%,#481769 85.7%,#46337f 89.8%,#443a83 91.8%,#472d7b 95.9%,#481f70 98%,#481a6c)"></i><i style="background:linear-gradient(#440256,#460a5d 57.1%,#471365 67.3%,#482475 77.6%,#472c7a 85.7%,#443b84 91.8%,#472d7b 93.9%,#472c7a 95.9%,#481b6d 98%,#481b6d)"></i><i style="background:linear-gradient(#440256,#460a5d 53.1%,#471164 63.3%,#472e7c 81.6%,#472e7c 87.8%,#443a83 91.8%,#482475 93.9%,#472c7a 95.9%,#481668 98%,#481b6d)"></i><i style="background:linear-gradient(#440154,#46075a 59.2%,#470e61 69.4%,#481f70 81.6%,#481d6f 87.8%,#443b84 91.8%,#482071 93.9%,#472d7b 95.9%,#471164 98%,#481b6d)"></i><i style="background:linear-gradient(#440154,#440154 44.9%,#46075a 71.4%,#460b5e 77.6%,#481467 81.6%,#481467 87.8%,#46327e 89.8%,#414287 91.8%,#482878 93.9%,#46307e 95.9%,#460b5e 98%,#481b6d)"></i><i style="background:linear-gradient(#440154,#440256 46.9%,#460a5d 73.5%,#472a7a 83.7%,#453581 87.8%,#404588 89.8%,#3d4e8a 91.8%,#453882 93.9%,#463480 95.9%,#450559 98%,#481b6d)"></i><i style="background:linear-gradient(#450559,#460a5d 36.7%,#481467 55.1%,#46307e 75.5%,#3e4a89 83.7%,#375b8d 89.8%,#375b8d 91.8%,#453882 95.9%,#450457 98%,#481b6d)"></i><i style="background:linear-gradient(#450457,#460a5d 42.9%,#481668 61.2%,#482374 69.4%,#472e7c 73.5%,#3b518b 81.6%,#31688e 87.8%,#33638d 91.8%,#3b528b 93.9%,#433d84 95.9%,#46085c 98%,#481b6d)"></i><i style="background:linear-gradient(#450457,#460a5d 40.8%,#481a6c 69.4%,#482173 73.5%,#472f7d 77.6%,#3c4f8a 83.7%,#32648e 87.8%,#31668e 89.8%,#33638d 91.8%,#38598c 93.9%,#423f85 95.9%,#471063 98%,#481b6d)"></i><i style="background:linear-gradient(#440154,#450457 53.1%,#470d60 71.4%,#481f70 79.6%,#414287 85.7%,#3d4d8a 87.8%,#375a8c 93.9%,#424086 95.9%,#481668 98%,#481c6e)"></i><i style="background:linear-gradient(#440154,#450457 51%,#470d60 75.5%,#471365 79.6%,#46307e 89.8%,#404688 91.8%,#39558c 93.9%,#424086 95.9%,#481a6c 98%,#481c6e)"></i><i style="background:linear-gradient(#440154,#450559 57.1%,#481b6d 85.7%,#470e61 89.8%,#46337f 91.8%,#3d4e8a 93.9%,#433e85 95.9%,#481f70 98%,#481c6e)"></i><i style="background:linear-gradient(#440256,#450559 53.1%,#471063 73.5%,#482071 85.7%,#48186a 89.8%,#472c7a 91.8%,#404588 93.9%,#443983 95.9%,#482374 98%,#481c6e)"></i><i style="background:linear-gradient(#440154,#450457 69.4%,#46085c 75.5%,#482071 85.7%,#482374 89.8%,#443a83 93.9%,#46337f 95.9%,#481c6e)"></i><i style="background:linear-gradient(#440154,#440256 42.9%,#46085c 69.4%,#471365 85.7%,#481769 87.8%,#46337f 91.8%,#472a7a 98%,#481d6f)"></i><i style="background:linear-gradient(#440154,#440256 53.1%,#450559 63.3%,#481467 79.6%,#470e61 85.7%,#481a6c 87.8%,#472e7c 89.8%,#453882 91.8%,#482878 93.9%,#472d7b 98%,#481d6f)"></i><i style="background:linear-gradient(#440256,#46085c 55.1%,#48186a 71.4%,#46327e 85.7%,#423f85 89.8%,#423f85 91.8%,#482979 93.9%,#472e7c 98%,#481d6f)"></i><i style="background:linear-gradient(#450457,#46085c 34.7%,#471365 57.1%,#482979 73.5%,#3e4c8a 83.7%,#3b528b 87.8%,#3c508b 89.8%,#404588 91.8%,#46307e 93.9%,#472f7d 98%,#481d6f)"></i><i style="background:linear-gradient(#440256,#46075a 44.9%,#471164 63.3%,#481b6d 69.4%,#482677 73.5%,#414487 79.6%,#355f8d 85.7%,#355f8d 87.8%,#39568c 89.8%,#453781 93.9%,#443983 95.9%,#472f7d 98%,#481d6f)"></i><i style="background:linear-gradient(#450457,#460a5d 38.8%,#481668 59.2%,#472d7b 73.5%,#38588c 85.7%,#38598c 87.8%,#3d4e8a 89.8%,#453781 91.8%,#453882 93.9%,#424186 95.9%,#481f70)"></i><i style="background:linear-gradient(#440256,#46075a 49%,#470e61 65.3%,#48186a 73.5%,#482374 77.6%,#404588 85.7%,#3f4889 87.8%,#433d84 89.8%,#481c6e 91.8%,#443983 93.9%,#3f4889 95.9%,#472e7c 98%,#481f70)"></i><i style="background:linear-gradient(#440154,#440256 51%,#46085c 71.4%,#471164 77.6%,#453781 85.7%,#433d84 87.8%,#453781 89.8%,#481a6c 91.8%,#433d84 93.9%,#3e4c8a 95.9%,#472d7b 98%,#481f70)"></i><i style="background:linear-gradient(#440256,#450559 44.9%,#471063 69.4%,#481b6d 79.6%,#482576 83.7%,#423f85 89.8%,#453882 91.8%,#3d4e8a 95.9%,#472a7a 98%,#481f70)"></i><i style="background:linear-gradient(#440154,#440256 57.1%,#460b5e 77.6%,#48186a 83.7%,#482374 85.7%,#3e4989 89.8%,#3c4f8a 91.8%,#3d4e8a 95.9%,#482677 98%,#482071)"></i><i style="background:linear-gradient(#440154,#450457 69.4%,#460a5d 77.6%,#481769 83.7%,#482475 85.7%,#453882 87.8%,#3b518b 89.8%,#375a8c 91.8%,#3d4e8a 93.9%,#3e4c8a 95.9%,#482374 98%,#482071)"></i><i style="background:linear-gradient(#440256,#46075a 51%,#471365 73.5%,#481b6d 79.6%,#472a7a 83.7%,#3e4a89 87.8%,#375b8d 89.8%,#375b8d 91.8%,#3f4889 93.9%,#3f4889 95.9%,#481f70 98%,#482071)"></i><i style="background:linear-gradient(#440154,#450457 51%,#470d60 71.4%,#481c6e 77.6%,#424086 83.7%,#375b8d 87.8%,#355e8d 89.8%,#3b528b 91.8%,#433d84 93.9%,#404588 95.9%,#481a6c 98%,#482173)"></i><i style="background:linear-gradient(#450457,#460a5d 38.8%,#48186a 61.2%,#472f7d 73.5%,#414287 79.6%,#355e8d 85.7%,#34618d 87.8%,#38598c 89.8%,#414287 91.8%,#472c7a 93.9%,#414287 95.9%,#481668 98%,#482173)"></i><i style="background:linear-gradient(#450559,#460b5e 36.7%,#48186a 59.2%,#482071 65.3%,#46327e 73.5%,#424086 77.6%,#355e8d 83.7%,#33638d 85.7%,#34608d 87.8%,#3d4e8a 89.8%,#46327e 91.8%,#481467 93.9%,#424086 95.9%,#471164 98%,#482173)"></i><i style="background:linear-gradient(#440256,#450559 49%,#470e61 65.3%,#481467 69.4%,#482071 73.5%,#414487 79.6%,#365c8d 83.7%,#355f8d 85.7%,#38588c 87.8%,#424086 89.8%,#472a7a 91.8%,#470d60 93.9%,#433e85 95.9%,#470e61 98%,#482173)"></i><i style="background:linear-gradient(#46075a,#470d60 34.7%,#481769 51%,#472f7d 69.4%,#3a538b 83.7%,#3a538b 85.7%,#3f4788 87.8%,#472c7a 89.8%,#482374 93.9%,#433e85 95.9%,#470e61 98%,#482374)"></i><i style="background:linear-gradient(#450457,#450559 26.5%,#470d60 53.1%,#48186a 63.3%,#46307e 75.5%,#404588 83.7%,#404588 85.7%,#453882 87.8%,#481467 89.8%,#472d7b 91.8%,#433d84 95.9%,#471365 98%,#482374)"></i><i style="background:linear-gradient(#440256,#46085c 65.3%,#481467 75.5%,#481b6d 77.6%,#46327e 81.6%,#404588 85.7%,#424086 87.8%,#472f7d 89.8%,#433e85 91.8%,#404688 93.9%,#443b84 95.9%,#481769 98%,#482374)"></i><i style="background:linear-gradient(#440256,#46075a 42.9%,#471164 63.3%,#482374 75.5%,#472e7c 79.6%,#3c4f8a 87.8%,#3a538b 91.8%,#3c508b 93.9%,#443a83 95.9%,#481b6d 98%,#482475)"></i><i style="background:linear-gradient(#450457,#46075a 38.8%,#471365 63.3%,#481d6f 71.4%,#453581 83.7%,#424186 85.7%,#31668e 89.8%,#32648e 91.8%,#3a548c 93.9%,#453781 95.9%,#482071 98%,#482475)"></i><i style="background:linear-gradient(#440154,#440256 57.1%,#46085c 67.3%,#481467 75.5%,#481467 79.6%,#481769 81.6%,#482677 83.7%,#424186 85.7%,#355f8d 87.8%,#2c718e 89.8%,#2f6b8e 91.8%,#3a548c 93.9%,#46327e 95.9%,#482475 98%,#482475)"></i><i style="background:linear-gradient(#450559,#460a5d 36.7%,#481769 59.2%,#482677 69.4%,#433e85 77.6%,#3b528b 83.7%,#2e6d8e 87.8%,#2b748e 89.8%,#31668e 91.8%,#3d4e8a 93.9%,#472d7b 95.9%,#482576)"></i><i style="background:linear-gradient(#46075a,#460b5e 26.5%,#481769 51%,#472e7c 65.3%,#3c508b 75.5%,#2f6b8e 83.7%,#2c728e 87.8%,#2e6e8e 89.8%,#414487 93.9%,#482979 95.9%,#472a7a 98%,#482576)"></i><i style="background:linear-gradient(#450457,#46085c 36.7%,#471365 57.1%,#472c7a 71.4%,#424086 77.6%,#306a8e 85.7%,#2f6c8e 87.8%,#34618d 89.8%,#424186 91.8%,#443983 93.9%,#472a7a 95.9%,#472d7b 98%,#482576)"></i><i style="background:linear-gradient(#440256,#450559 42.9%,#470e61 71.4%,#481f70 77.6%,#443b84 81.6%,#375a8c 85.7%,#355e8d 87.8%,#3b518b 89.8%,#482878 91.8%,#46307e 93.9%,#472f7d 98%,#482677)"></i><i style="background:linear-gradient(#450457,#46085c 44.9%,#470e61 57.1%,#472c7a 77.6%,#453882 81.6%,#3d4d8a 85.7%,#3b518b 87.8%,#3f4889 89.8%,#482374 91.8%,#472f7d 93.9%,#453581 95.9%,#46327e 98%,#482677)"></i><i style="background:linear-gradient(#440256,#450559 42.9%,#471063 65.3%,#481d6f 75.5%,#472e7c 81.6%,#404688 87.8%,#404588 89.8%,#46337f 91.8%,#433d84 95.9%,#482677)"></i><i style="background:linear-gradient(#440154,#46075a 71.4%,#460a5d 75.5%,#481467 79.6%,#433d84 89.8%,#424186 95.9%,#482878)"></i><i style="background:linear-gradient(#440154,#450457 59.2%,#471063 85.7%,#481a6c 87.8%,#472e7c 89.8%,#424086 91.8%,#404588 95.9%,#46337f 98%,#482878)"></i><i style="background:linear-gradient(#440154,#450457 57.1%,#46085c 67.3%,#481769 81.6%,#471365 85.7%,#481668 87.8%,#482576 89.8%,#433d84 91.8%,#404688 93.9%,#404688 95.9%,#46327e 98%,#482878)"></i><i style="background:linear-gradient(#440256,#460a5d 57.1%,#471063 65.3%,#482576 79.6%,#482475 83.7%,#481b6d 87.8%,#482374 89.8%,#453882 91.8%,#424186 93.9%,#404588 95.9%,#46327e 98%,#482979)"></i><i style="background:linear-gradient(#440256,#460a5d 57.1%,#482677 79.6%,#481d6f 83.7%,#471164 85.7%,#471164 87.8%,#463480 91.8%,#453781 93.9%,#424186 95.9%,#472f7d 98%,#482979)"></i><i style="background:linear-gradient(#450457,#460b5e 49%,#481467 61.2%,#472e7c 79.6%,#472e7c 81.6%,#482173 85.7%,#482071 87.8%,#472e7c 91.8%,#482677 93.9%,#433d84 95.9%,#472d7b 98%,#482979)"></i><i style="background:linear-gradient(#450457,#460b5e 53.1%,#481b6d 67.3%,#46307e 77.6%,#453882 83.7%,#46337f 89.8%,#482979 91.8%,#481467 93.9%,#453781 95.9%,#472a7a 98%,#472a7a)"></i><i style="background:linear-gradient(#440256,#450457 36.7%,#460a5d 59.2%,#48186a 73.5%,#482071 77.6%,#424086 87.8%,#433d84 89.8%,#472c7a 91.8%,#460b5e 93.9%,#46307e 95.9%,#482878 98%,#472a7a)"></i><i style="background:linear-gradient(#440154,#450457 51%,#460a5d 71.4%,#470e61 75.5%,#481a6c 79.6%,#472e7c 83.7%,#3e4989 87.8%,#3f4889 89.8%,#463480 91.8%,#48186a 93.9%,#482979 95.9%,#482475 98%,#472a7a)"></i><i style="background:linear-gradient(#440256,#450559 46.9%,#471365 75.5%,#481c6e 79.6%,#482677 81.6%,#404688 85.7%,#3a538b 87.8%,#3b528b 89.8%,#433e85 91.8%,#482071 93.9%,#482071 98%,#472a7a)"></i><i style="background:linear-gradient(#440256,#450559 42.9%,#471164 67.3%,#482173 75.5%,#423f85 81.6%,#39558c 85.7%,#375a8c 87.8%,#3a538b 89.8%,#424186 91.8%,#482475 93.9%,#481b6d 95.9%,#481c6e 98%,#472c7a)"></i><i style="background:linear-gradient(#450559,#46085c 26.5%,#481668 55.1%,#482173 63.3%,#414487 75.5%,#365c8d 83.7%,#3a548c 87.8%,#433e85 91.8%,#482475 93.9%,#481467 95.9%,#481a6c 98%,#472c7a)"></i><i style="background:linear-gradient(#450559,#460b5e 32.7%,#481769 55.1%,#472d7b 67.3%,#39568c 79.6%,#38598c 81.6%,#39568c 83.7%,#453781 89.8%,#453882 91.8%,#470e61 95.9%,#481668 98%,#472c7a)"></i><i style="background:linear-gradient(#450457,#46085c 32.7%,#481467 57.1%,#482071 65.3%,#433e85 75.5%,#3e4989 79.6%,#3e4a89 81.6%,#404688 83.7%,#443983 85.7%,#481f70 87.8%,#481f70 89.8%,#46337f 91.8%,#470d60 95.9%,#471365 98%,#472c7a)"></i><i style="background:linear-gradient(#450457,#470d60 53.1%,#481a6c 65.3%,#433e85 81.6%,#433e85 83.7%,#453781 85.7%,#482475 87.8%,#481f70 89.8%,#472f7d 91.8%,#471063 95.9%,#471164 98%,#472d7b)"></i><i style="background:linear-gradient(#440256,#460a5d 61.2%,#48186a 75.5%,#443983 83.7%,#433e85 85.7%,#472e7c 89.8%,#472d7b 91.8%,#481467 95.9%,#471063 98%,#472d7b)"></i><i style="background:linear-gradient(#440154,#450457 46.9%,#460a5d 63.3%,#471365 73.5%,#481b6d 77.6%,#433d84 85.7%,#433d84 87.8%,#471063 98%,#472d7b)"></i><i style="background:linear-gradient(#440256,#460b5e 55.1%,#481c6e 71.4%,#463480 85.7%,#463480 87.8%,#472d7b 89.8%,#481f70 91.8%,#481c6e 95.9%,#471063 98%,#472d7b)"></i><i style="background:linear-gradient(#440256,#460a5d 59.2%,#471365 69.4%,#482374 79.6%,#482677 87.8%,#482576 89.8%,#481668 91.8%,#481f70 93.9%,#481f70 95.9%,#471164 98%,#472d7b)"></i><i style="background:linear-gradient(#440154,#450559 63.3%,#481467 81.6%,#471365 85.7%,#482475 89.8%,#481c6e 91.8%,#482576 93.9%,#471365 98%,#472e7c)"></i><i style="background:linear-gradient(#440154,#440256 59.2%,#470d60 77.6%,#460b5e 85.7%,#472c7a 89.8%,#472f7d 93.9%,#481467 98%,#472e7c)"></i><i style="background:linear-gradient(#440154,#450457 49%,#460b5e 75.5%,#481668 81.6%,#482173 85.7%,#433e85 89.8%,#404588 91.8%,#443983 93.9%,#481c6e 95.9%,#481668 98%,#472e7c)"></i><i style="background:linear-gradient(#440154,#450457 59.2%,#470d60 73.5%,#482173 81.6%,#453882 85.7%,#3a548c 89.8%,#38588c 91.8%,#424186 93.9%,#48186a 95.9%,#48186a 98%,#472e7c)"></i><i style="background:linear-gradient(#450457,#46085c 42.9%,#48186a 73.5%,#482878 79.6%,#3d4e8a 85.7%,#31688e 89.8%,#31668e 91.8%,#3f4889 93.9%,#481467 95.9%,#481b6d 98%,#472e7c)"></i><i style="background:linear-gradient(#440256,#46075a 44.9%,#471365 65.3%,#481b6d 71.4%,#472e7c 77.6%,#3c508b 83.7%,#2b758e 89.8%,#2d708e 91.8%,#3e4c8a 93.9%,#470e61 95.9%,#472e7c)"></i><i style="background:linear-gradient(#450559,#460b5e 40.8%,#481c6e 63.3%,#472a7a 71.4%,#404688 81.6%,#375b8d 85.7%,#287c8e 89.8%,#2c738e 91.8%,#3d4d8a 93.9%,#460a5d 95.9%,#482374 98%,#472e7c)"></i><i style="background:linear-gradient(#440256,#450559 59.2%,#460a5d 67.3%,#481b6d 79.6%,#482173 81.6%,#46337f 83.7%,#3d4e8a 85.7%,#2f6c8e 87.8%,#287d8e 89.8%,#2d708e 91.8%,#3d4e8a 93.9%,#450457 95.9%,#482677 98%,#472e7c)"></i><i style="background:linear-gradient(#440256,#450559 40.8%,#471164 65.3%,#481b6d 71.4%,#46307e 79.6%,#3f4788 83.7%,#2d718e 87.8%,#2a768e 89.8%,#3d4e8a 93.9%,#450559 95.9%,#472c7a 98%,#472e7c)"></i><i style="background:linear-gradient(#46075a,#460b5e 30.6%,#481769 53.1%,#472c7a 65.3%,#3a548c 77.6%,#2c738e 85.7%,#2b748e 87.8%,#31678e 89.8%,#3e4c8a 91.8%,#3c4f8a 93.9%,#471063 95.9%,#46307e 98%,#472e7c)"></i><i style="background:linear-gradient(#46075a,#470d60 36.7%,#481a6c 57.1%,#482173 63.3%,#453781 71.4%,#38598c 77.6%,#2c728e 81.6%,#297b8e 83.7%,#287c8e 85.7%,#2c728e 87.8%,#3b518b 89.8%,#482979 91.8%,#3a538b 93.9%,#481c6e 95.9%,#453781 98%,#472e7c)"></i><i style="background:linear-gradient(#46075a,#471063 36.7%,#481b6d 53.1%,#482576 61.2%,#433d84 71.4%,#375b8d 77.6%,#297b8e 83.7%,#277e8e 85.7%,#2c738e 87.8%,#3c4f8a 89.8%,#482979 91.8%,#375b8d 93.9%,#482979 95.9%,#433d84 98%,#472e7c)"></i><i style="background:linear-gradient(#46075a,#470d60 34.7%,#481467 46.9%,#482475 61.2%,#414287 75.5%,#39568c 79.6%,#277e8e 85.7%,#277f8e 87.8%,#3a548c 91.8%,#31678e 93.9%,#453781 95.9%,#414287 98%,#472e7c)"></i><i style="background:linear-gradient(#440256,#46075a 49%,#470e61 63.3%,#48186a 71.4%,#482475 75.5%,#472f7d 77.6%,#3b528b 81.6%,#29798e 85.7%,#25858e 87.8%,#24868e 89.8%,#297a8e 91.8%,#2b758e 93.9%,#414287 95.9%,#3f4889 98%,#472e7c)"></i><i style="background:linear-gradient(#450559,#471063 46.9%,#481b6d 61.2%,#482979 71.4%,#453882 77.6%,#3f4889 81.6%,#30698e 85.7%,#1f968b 89.8%,#1f978b 91.8%,#26828e 93.9%,#3e4a89 95.9%,#3d4e8a 98%,#472e7c)"></i><i style="background:linear-gradient(#440256,#450559 57.1%,#471063 73.5%,#481f70 79.6%,#453781 83.7%,#3c508b 85.7%,#2a768e 87.8%,#1e9d89 89.8%,#22a884 91.8%,#23898e 93.9%,#3d4e8a 95.9%,#3a538b 98%,#472e7c)"></i><i style="background:linear-gradient(#440256,#450559 53.1%,#46085c 63.3%,#471164 73.5%,#481b6d 77.6%,#472d7b 81.6%,#433e85 83.7%,#38588c 85.7%,#297a8e 87.8%,#1f9e89 89.8%,#24aa83 91.8%,#24878e 93.9%,#3e4c8a 95.9%,#39568c 98%,#472e7c)"></i><i style="background:linear-gradient(#450559,#470e61 40.8%,#481769 55.1%,#482475 67.3%,#472c7a 71.4%,#414287 77.6%,#2a768e 85.7%,#1f968b 89.8%,#1fa088 91.8%,#287c8e 93.9%,#414287 95.9%,#375b8d 98%,#472e7c)"></i><i style="background:linear-gradient(#450559,#460b5e 40.8%,#48186a 59.2%,#482979 67.3%,#3c508b 75.5%,#2c718e 81.6%,#297a8e 87.8%,#21918c 91.8%,#2f6c8e 93.9%,#463480 95.9%,#355e8d 98%,#472e7c)"></i><i style="background:linear-gradient(#460b5e,#471365 30.6%,#481f70 46.9%,#443983 61.2%,#34618d 77.6%,#355f8d 81.6%,#3c4f8a 85.7%,#3b528b 87.8%,#2e6e8e 89.8%,#26818e 91.8%,#375a8c 93.9%,#482374 95.9%,#34608d 98%,#472e7c)"></i><i style="background:linear-gradient(#46075a,#460b5e 24.5%,#481769 44.9%,#482475 55.1%,#404588 69.4%,#3c4f8a 75.5%,#3e4c8a 79.6%,#404588 81.6%,#453781 83.7%,#481f70 85.7%,#472c7a 87.8%,#355e8d 89.8%,#2b748e 91.8%,#3e4989 93.9%,#470e61 95.9%,#33628d 98%,#472d7b)"></i><i style="background:linear-gradient(#450457,#46075a 34.7%,#481a6c 65.3%,#482374 71.4%,#443b84 79.6%,#404688 83.7%,#3e4a89 87.8%,#33628d 89.8%,#2f6c8e 91.8%,#443b84 93.9%,#471365 95.9%,#33638d 98%,#472d7b)"></i><i style="background:linear-gradient(#440256,#46075a 44.9%,#481467 73.5%,#481f70 77.6%,#482979 79.6%,#3e4c8a 83.7%,#355e8d 85.7%,#30698e 87.8%,#2f6c8e 89.8%,#33638d 91.8%,#472a7a 93.9%,#482677 95.9%,#33638d 98%,#472d7b)"></i><i style="background:linear-gradient(#440256,#46085c 51%,#470e61 65.3%,#481467 69.4%,#482677 75.5%,#3e4a89 81.6%,#2f6c8e 85.7%,#2b758e 87.8%,#2d718e 89.8%,#375b8d 91.8%,#471365 93.9%,#453882 95.9%,#33638d 98%,#472d7b)"></i><i style="background:linear-gradient(#450559,#460b5e 34.7%,#481769 55.1%,#46327e 69.4%,#404688 75.5%,#38598c 79.6%,#2b748e 85.7%,#2a778e 87.8%,#2e6f8e 89.8%,#38598c 91.8%,#482071 93.9%,#404688 95.9%,#33628d 98%,#472c7a)"></i><i style="background:linear-gradient(#46075a,#460b5e 30.6%,#48186a 55.1%,#46307e 69.4%,#3d4d8a 77.6%,#34618d 81.6%,#2e6f8e 85.7%,#2e6e8e 87.8%,#365d8d 91.8%,#433e85 93.9%,#34608d 98%,#472c7a)"></i><i style="background:linear-gradient(#440256,#46085c 59.2%,#470e61 67.3%,#481c6e 73.5%,#404588 81.6%,#3d4e8a 83.7%,#3d4d8a 87.8%,#3b528b 89.8%,#34608d 91.8%,#3a548c 93.9%,#365d8d 98%,#472c7a)"></i><i style="background:linear-gradient(#440256,#46075a 40.8%,#470d60 55.1%,#481f70 73.5%,#46327e 81.6%,#46327e 83.7%,#472a7a 85.7%,#481769 87.8%,#453581 89.8%,#365c8d 91.8%,#34618d 93.9%,#38598c 98%,#472c7a)"></i><i style="background:linear-gradient(#450457,#460b5e 51%,#481d6f 69.4%,#443983 83.7%,#453882 85.7%,#472e7c 87.8%,#453581 89.8%,#39558c 91.8%,#32658e 93.9%,#3a548c 98%,#472a7a)"></i><i style="background:linear-gradient(#440154,#450457 46.9%,#460b5e 67.3%,#48186a 75.5%,#463480 81.6%,#414287 85.7%,#433e85 89.8%,#33628d 93.9%,#3c508b 98%,#472a7a)"></i><i style="background:linear-gradient(#450457,#46075a 40.8%,#471164 61.2%,#482071 73.5%,#46337f 83.7%,#472e7c 87.8%,#463480 89.8%,#375a8c 93.9%,#3e4c8a 98%,#472a7a)"></i><i style="background:linear-gradient(#450457,#470d60 42.9%,#481a6c 57.1%,#472f7d 71.4%,#463480 77.6%,#482979 83.7%,#470d60 87.8%,#482475 89.8%,#433d84 91.8%,#3d4d8a 93.9%,#3f4889 98%,#482979)"></i><i style="background:linear-gradient(#450457,#46085c 36.7%,#470e61 51%,#481f70 65.3%,#46337f 75.5%,#453781 79.6%,#472f7d 83.7%,#481b6d 87.8%,#482071 89.8%,#463480 91.8%,#433d84 93.9%,#414487 98%,#482979)"></i><i style="background:linear-gradient(#440256,#460a5d 57.1%,#471063 65.3%,#482878 79.6%,#482878 83.7%,#482071 87.8%,#482374 89.8%,#472e7c 91.8%,#472d7b 93.9%,#424186 98%,#482979)"></i><i style="background:linear-gradient(#440154,#440256 53.1%,#450559 63.3%,#481467 79.6%,#471063 85.7%,#472d7b 91.8%,#482475 93.9%,#472e7c 95.9%,#423f85 98%,#482878)"></i><i style="background:linear-gradient(#440154,#440256 51%,#46075a 67.3%,#471063 79.6%,#470d60 85.7%,#482677 89.8%,#472e7c 91.8%,#482475 93.9%,#482979 95.9%,#433d84 98%,#482878)"></i><i style="background:linear-gradient(#440154,#450559 71.4%,#460b5e 77.6%,#46327e 91.8%,#482878 95.9%,#443b84 98%,#482677)"></i><i style="background:linear-gradient(#440154,#46085c 63.3%,#471365 75.5%,#472a7a 85.7%,#46337f 91.8%,#482979 95.9%,#443983 98%,#482677)"></i><i style="background:linear-gradient(#440256,#460a5d 57.1%,#471365 69.4%,#472e7c 91.8%,#472f7d 93.9%,#472a7a 95.9%,#453882 98%,#482677)"></i><i style="background:linear-gradient(#440154,#450457 53.1%,#46085c 63.3%,#481a6c 81.6%,#481467 87.8%,#472a7a 93.9%,#472a7a 95.9%,#453781 98%,#482576)"></i><i style="background:linear-gradient(#440154,#450457 55.1%,#481467 79.6%,#471164 83.7%,#450457 87.8%,#482374 93.9%,#482878 95.9%,#463480 98%,#482576)"></i><i style="background:linear-gradient(#440154,#450457 57.1%,#471164 79.6%,#471063 83.7%,#450457 87.8%,#450559 89.8%,#470d60 91.8%,#46337f 98%,#482475)"></i><i style="background:linear-gradient(#440154,#440256 53.1%,#450559 65.3%,#470e61 77.6%,#470d60 83.7%,#440154 89.8%,#450559 91.8%,#481f70 95.9%,#46307e 98%,#482475)"></i><i style="background:linear-gradient(#440154,#440256 53.1%,#450559 65.3%,#470e61 77.6%,#470d60 83.7%,#440154 89.8%,#460a5d 93.9%,#472d7b 98%,#482374)"></i><i style="background:linear-gradient(#440154,#440256 53.1%,#470e61 79.6%,#470d60 83.7%,#440256 87.8%,#440154 91.8%,#450559 93.9%,#481467 95.9%,#472a7a 98%,#482374)"></i><i style="background:linear-gradient(#440154,#450457 57.1%,#471164 79.6%,#440154 91.8%,#440256 93.9%,#470e61 95.9%,#482677 98%,#482173)"></i><i style="background:linear-gradient(#440154,#450457 55.1%,#481467 79.6%,#471164 83.7%,#450457 89.8%,#440256 93.9%,#460a5d 95.9%,#482475 98%,#482173)"></i><i style="background:linear-gradient(#440154,#450559 57.1%,#481668 77.6%,#481467 81.6%,#46075a 87.8%,#450457 93.9%,#46075a 95.9%,#482071 98%,#482071)"></i><i style="background:linear-gradient(#440154,#450559 51%,#48186a 77.6%,#481467 81.6%,#450457 85.7%,#46085c 95.9%,#481c6e 98%,#482071)"></i><i style="background:linear-gradient(#440256,#450559 38.8%,#460a5d 51%,#481c6e 75.5%,#481b6d 79.6%,#460a5d 85.7%,#460a5d 93.9%,#460b5e 95.9%,#48186a 98%,#481f70)"></i><i style="background:linear-gradient(#440256,#460a5d 55.1%,#482173 77.6%,#482071 81.6%,#471063 87.8%,#460b5e 93.9%,#481467 98%,#481f70)"></i><i style="background:linear-gradient(#440256,#46085c 57.1%,#482173 79.6%,#481d6f 83.7%,#470e61 87.8%,#460b5e 93.9%,#471063 98%,#481d6f)"></i><i style="background:linear-gradient(#440256,#46075a 57.1%,#481d6f 79.6%,#48186a 83.7%,#450457 87.8%,#460b5e 93.9%,#471365 95.9%,#470d60 98%,#481d6f)"></i><i style="background:linear-gradient(#440256,#450559 51%,#470e61 67.3%,#481d6f 79.6%,#481a6c 83.7%,#46075a 87.8%,#46075a 91.8%,#46085c 93.9%,#481668 95.9%,#460a5d 98%,#481c6e)"></i><i style="background:linear-gradient(#440256,#46075a 55.1%,#481f70 79.6%,#481d6f 81.6%,#450457 91.8%,#46085c 93.9%,#48186a 95.9%,#460a5d 98%,#481b6d)"></i><i style="background:linear-gradient(#440256,#46075a 44.9%,#481c6e 75.5%,#481b6d 79.6%,#46075a 91.8%,#470d60 93.9%,#481b6d 95.9%,#460b5e 98%,#481b6d)"></i><i style="background:linear-gradient(#450457,#46085c 40.8%,#481668 71.4%,#471365 79.6%,#46075a 85.7%,#460b5e 87.8%,#460b5e 91.8%,#481d6f 95.9%,#470d60 98%,#481a6c)"></i><i style="background:linear-gradient(#440256,#450559 63.3%,#471164 77.6%,#460b5e 89.8%,#470e61 91.8%,#481b6d 93.9%,#482173 95.9%,#471063 98%,#481a6c)"></i><i style="background:linear-gradient(#440154,#450457 57.1%,#46075a 67.3%,#471365 79.6%,#471365 83.7%,#46075a 89.8%,#482374 93.9%,#482475 95.9%,#471365 98%,#48186a)"></i><i style="background:linear-gradient(#440154,#450457 57.1%,#471365 81.6%,#470d60 87.8%,#470e61 89.8%,#472a7a 93.9%,#482576 95.9%,#481467 98%,#48186a)"></i><i style="background:linear-gradient(#440154,#46075a 67.3%,#460a5d 73.5%,#482071 89.8%,#46307e 93.9%,#481769 98%,#481769)"></i><i style="background:linear-gradient(#440154,#46085c 69.4%,#471164 77.6%,#463480 91.8%,#463480 93.9%,#48186a 98%,#481769)"></i><i style="background:linear-gradient(#440154,#450457 49%,#460b5e 69.4%,#481d6f 83.7%,#443b84 91.8%,#463480 93.9%,#482173 95.9%,#481668)"></i><i style="background:linear-gradient(#440154,#450457 73.5%,#470d60 81.6%,#481d6f 85.7%,#443983 89.8%,#433e85 91.8%,#46307e 93.9%,#481d6f 95.9%,#481668)"></i><i style="background:linear-gradient(#440154,#450457 71.4%,#46085c 77.6%,#481668 83.7%,#481d6f 85.7%,#443983 89.8%,#433d84 91.8%,#481769 95.9%,#481b6d 98%,#481467)"></i><i style="background:linear-gradient(#440256,#450457 44.9%,#460a5d 65.3%,#481a6c 81.6%,#482576 85.7%,#443983 89.8%,#443983 91.8%,#471164 95.9%,#481c6e 98%,#471365)"></i><i style="background:linear-gradient(#440154,#46075a 69.4%,#471365 79.6%,#453882 89.8%,#453581 91.8%,#481b6d 93.9%,#470d60 95.9%,#481c6e 98%,#471365)"></i><i style="background:linear-gradient(#440154,#450457 53.1%,#460a5d 71.4%,#471365 79.6%,#453781 89.8%,#46307e 91.8%,#471365 93.9%,#460b5e 95.9%,#481c6e 98%,#471164)"></i><i style="background:linear-gradient(#440154,#46075a 69.4%,#48186a 81.6%,#46337f 89.8%,#472d7b 91.8%,#46085c 93.9%,#470e61 95.9%,#481c6e 98%,#471164)"></i><i style="background:linear-gradient(#440154,#450457 49%,#460a5d 69.4%,#481769 81.6%,#46307e 89.8%,#472c7a 91.8%,#46085c 93.9%,#481b6d 98%,#471063)"></i><i style="background:linear-gradient(#440154,#440256 55.1%,#46085c 71.4%,#471164 83.7%,#48186a 85.7%,#46307e 89.8%,#472f7d 91.8%,#481668 93.9%,#481467 95.9%,#481b6d 98%,#471063)"></i><i style="background:linear-gradient(#440154,#440154 51%,#470d60 81.6%,#481b6d 85.7%,#463480 89.8%,#463480 91.8%,#481f70 93.9%,#481668 95.9%,#481b6d 98%,#470e61)"></i><i style="background:linear-gradient(#440256,#450559 38.8%,#470d60 61.2%,#482576 83.7%,#453781 89.8%,#453882 91.8%,#481668 95.9%,#481b6d 98%,#470e61)"></i><i style="background:linear-gradient(#440256,#450457 36.7%,#460a5d 59.2%,#481a6c 75.5%,#453781 91.8%,#472a7a 93.9%,#481467 95.9%,#481a6c 98%,#470e61)"></i><i style="background:linear-gradient(#440154,#450559 73.5%,#470e61 79.6%,#46337f 91.8%,#472a7a 93.9%,#471063 95.9%,#481a6c 98%,#470d60)"></i><i style="background:linear-gradient(#440154,#450559 79.6%,#471063 85.7%,#472d7b 91.8%,#482979 93.9%,#460b5e 95.9%,#481a6c 98%,#470d60)"></i><i style="background:linear-gradient(#440154,#450457 83.7%,#460b5e 87.8%,#482878 91.8%,#482878 93.9%,#46075a 95.9%,#481a6c 98%,#460b5e)"></i><i style="background:linear-gradient(#440154,#440256 61.2%,#46085c 81.6%,#471063 87.8%,#482374 91.8%,#482677 93.9%,#46085c 95.9%,#481a6c 98%,#460b5e)"></i><i style="background:linear-gradient(#440154,#450457 73.5%,#471365 87.8%,#482576 93.9%,#470d60 95.9%,#48186a 98%,#460b5e)"></i><i style="background:linear-gradient(#440154,#440256 61.2%,#46075a 77.6%,#470e61 87.8%,#471365 89.8%,#482576 93.9%,#471164 95.9%,#48186a 98%,#460a5d)"></i><i style="background:linear-gradient(#440154,#440256 59.2%,#460b5e 79.6%,#46075a 87.8%,#482475 93.9%,#481467 95.9%,#48186a 98%,#460a5d)"></i><i style="background:linear-gradient(#440154,#450559 63.3%,#471164 79.6%,#471063 87.8%,#482173 93.9%,#481668 95.9%,#48186a 98%,#460a5d)"></i><i style="background:linear-gradient(#440154,#450559 55.1%,#481a6c 81.6%,#481668 89.8%,#481f70 93.9%,#481467 95.9%,#48186a 98%,#46085c)"></i><i style="background:linear-gradient(#440154,#450559 59.2%,#481668 79.6%,#471164 87.8%,#481b6d 93.9%,#471365 95.9%,#48186a 98%,#46085c)"></i><i style="background:linear-gradient(#440154,#440256 53.1%,#46075a 67.3%,#471063 79.6%,#46075a 87.8%,#481668 93.9%,#470e61 95.9%,#48186a 98%,#46085c)"></i><i style="background:linear-gradient(#440154,#450457 57.1%,#471063 79.6%,#470e61 83.7%,#46075a 87.8%,#471365 93.9%,#460b5e 95.9%,#48186a 98%,#46075a)"></i><i style="background:linear-gradient(#440154,#450457 59.2%,#471063 79.6%,#46075a 89.8%,#46085c 91.8%,#471063 93.9%,#460a5d 95.9%,#48186a 98%,#46075a)"></i><i style="background:linear-gradient(#440154,#440256 55.1%,#470d60 79.6%,#440256 91.8%,#470e61 93.9%,#460a5d 95.9%,#48186a 98%,#46075a)"></i><i style="background:linear-gradient(#440154,#440256 59.2%,#460b5e 79.6%,#440256 87.8%,#450559 91.8%,#471063 93.9%,#470d60 95.9%,#481a6c 98%,#46075a)"></i><i style="background:linear-gradient(#440154,#440154 49%,#46085c 77.6%,#450457 87.8%,#471365 93.9%,#470e61 95.9%,#481a6c 98%,#46075a)"></i><i style="background:linear-gradient(#440154,#450457 67.3%,#460a5d 85.7%,#481769 93.9%,#471063 95.9%,#481a6c 98%,#46075a)"></i><i style="background:linear-gradient(#440154,#440256 73.5%,#46085c 81.6%,#481a6c 91.8%,#48186a 93.9%,#471063 95.9%,#481a6c 98%,#46075a)"></i><i style="background:linear-gradient(#440154,#450457 73.5%,#46085c 81.6%,#481d6f 91.8%,#481a6c 93.9%,#470d60 95.9%,#481a6c 98%,#46075a)"></i><i style="background:linear-gradient(#440154,#450457 75.5%,#470d60 83.7%,#481f70 91.8%,#48186a 93.9%,#460a5d 95.9%,#481a6c 98%,#46075a)"></i><i style="background:linear-gradient(#440154,#450559 71.4%,#46085c 79.6%,#482071 91.8%,#481769 93.9%,#46075a 95.9%,#481b6d 98%,#46075a)"></i><i style="background:linear-gradient(#440154,#450457 75.5%,#470d60 83.7%,#482071 91.8%,#46075a 95.9%,#481b6d 98%,#46075a)"></i><i style="background:linear-gradient(#440154,#450559 73.5%,#460a5d 81.6%,#482071 91.8%,#460b5e 95.9%,#481a6c 98%,#46075a)"></i><i style="background:linear-gradient(#440154,#440256 71.4%,#46075a 79.6%,#481d6f 91.8%,#471063 95.9%,#481a6c 98%,#46075a)"></i><i style="background:linear-gradient(#440154,#450559 75.5%,#460a5d 81.6%,#481a6c 89.8%,#48186a 93.9%,#471365 95.9%,#481a6c 98%,#46075a)"></i><i style="background:linear-gradient(#440154,#440256 71.4%,#481a6c 98%,#46075a)"></i><i style="background:linear-gradient(#440154,#440256 55.1%,#470e61 83.7%,#46085c 91.8%,#471365 93.9%,#48186a 98%,#46075a)"></i><i style="background:linear-gradient(#440154,#450457 61.2%,#470e61 81.6%,#450457 91.8%,#471164 93.9%,#48186a 98%,#46075a)"></i><i style="background:linear-gradient(#440154,#440256 59.2%,#460b5e 79.6%,#46075a 87.8%,#481769 98%,#46075a)"></i><i style="background:linear-gradient(#440154,#440256 59.2%,#460b5e 79.6%,#46075a 85.7%,#481769 98%,#46075a)"></i><i style="background:linear-gradient(#440154,#450457 61.2%,#470e61 85.7%,#481668 91.8%,#471164 95.9%,#481668 98%,#46075a)"></i><i style="background:linear-gradient(#440154,#440256 71.4%,#450559 77.6%,#481769 91.8%,#470d60 95.9%,#481668 98%,#46075a)"></i><i style="background:linear-gradient(#440154,#450457 73.5%,#46085c 81.6%,#481769 89.8%,#481668 91.8%,#460a5d 95.9%,#481467 98%,#46075a)"></i><i style="background:linear-gradient(#440154,#440256 73.5%,#46075a 81.6%,#481668 89.8%,#481467 91.8%,#450559 95.9%,#471365 98%,#46075a)"></i><i style="background:linear-gradient(#440154,#450457 73.5%,#460a5d 83.7%,#481467 89.8%,#471365 91.8%,#440256 95.9%,#471164 98%,#46075a)"></i><i style="background:linear-gradient(#440154,#440256 73.5%,#450559 79.6%,#471365 89.8%,#440256 95.9%,#471063 98%,#46075a)"></i><i style="background:linear-gradient(#440154,#450457 71.4%,#471063 87.8%,#470d60 91.8%,#450559 93.9%,#450559 95.9%,#471063 98%,#46075a)"></i><i style="background:linear-gradient(#440154,#440256 63.3%,#470d60 85.7%,#470d60 89.8%,#440256 93.9%,#470e61 98%,#46075a)"></i><i style="background:linear-gradient(#440154,#440154 69.4%,#460b5e 87.8%,#46085c 91.8%,#440256 93.9%,#470d60 98%,#46075a)"></i><i style="background:linear-gradient(#440154,#440154 55.1%,#46085c 89.8%,#450457 93.9%,#460a5d 98%,#46075a)"></i><i style="background:linear-gradient(#440154,#440154 57.1%,#46075a 79.6%,#440256 87.8%,#46085c 91.8%,#46075a)"></i><i style="background:linear-gradient(#440154,#440154 49%,#46085c 79.6%,#46085c 91.8%,#450457 93.9%,#460a5d 95.9%,#46075a)"></i><i style="background:linear-gradient(#440154,#440256 61.2%,#460b5e 83.7%,#460a5d 89.8%,#440256 93.9%,#460a5d 95.9%,#46075a)"></i><i style="background:linear-gradient(#440154,#440154 67.3%,#450457 77.6%,#470d60 85.7%,#460b5e 89.8%,#440256 93.9%,#460b5e 95.9%,#46075a)"></i><i style="background:linear-gradient(#440154,#440256 59.2%,#46075a 75.5%,#470e61 83.7%,#470d60 89.8%,#46075a 93.9%,#470e61 95.9%,#46075a)"></i><i style="background:linear-gradient(#440154,#440256 53.1%,#470e61 81.6%,#460a5d 93.9%,#471063 95.9%,#46075a)"></i><i style="background:linear-gradient(#440154,#440256 59.2%,#460b5e 79.6%,#46085c 89.8%,#471164 95.9%,#46075a)"></i><i style="background:linear-gradient(#440154,#440154 49%,#46085c 77.6%,#440256 87.8%,#471365 95.9%,#46075a)"></i><i style="background:linear-gradient(#440154,#440256 61.2%,#460a5d 79.6%,#440154 87.8%,#481668 95.9%,#471164 98%,#46075a)"></i><i style="background:linear-gradient(#440154,#440256 59.2%,#460b5e 79.6%,#46085c 87.8%,#481668 95.9%,#481467 98%,#46075a)"></i><i style="background:linear-gradient(#440154,#450457 59.2%,#471063 81.6%,#470e61 89.8%,#481769 95.9%,#481769 98%,#46075a)"></i><i style="background:linear-gradient(#440154,#450457 65.3%,#471164 85.7%,#471063 91.8%,#481a6c 98%,#46075a)"></i><i style="background:linear-gradient(#440154,#440256 69.4%,#460b5e 83.7%,#460b5e 91.8%,#481c6e 98%,#46075a)"></i><i style="background:linear-gradient(#440154,#450559 89.8%,#46085c 93.9%,#48186a 95.9%,#481f70 98%,#46075a)"></i><i style="background:linear-gradient(#440154,#440154 75.5%,#450559 87.8%,#440256 91.8%,#450457 93.9%,#48186a 95.9%,#482071 98%,#46075a)"></i><i style="background:linear-gradient(#440154,#440256 91.8%,#450559 93.9%,#481a6c 95.9%,#482374 98%,#46075a)"></i><i style="background:linear-gradient(#440154,#440256 89.8%,#460b5e 93.9%,#481b6d 95.9%,#482475 98%,#46075a)"></i><i style="background:linear-gradient(#440154,#440256 85.7%,#460b5e 91.8%,#482576 98%,#46075a)"></i><i style="background:linear-gradient(#440154,#440256 77.6%,#471063 91.8%,#482677 98%,#46075a)"></i><i style="background:linear-gradient(#440154,#440256 59.2%,#46075a 75.5%,#481769 93.9%,#482677 98%,#46075a)"></i><i style="background:linear-gradient(#440154,#450559 69.4%,#471063 89.8%,#481b6d 95.9%,#482878 98%,#46075a)"></i><i style="background:linear-gradient(#440154,#440154 51%,#460a5d 81.6%,#46075a 87.8%,#48186a 95.9%,#482878 98%,#450559)"></i><i style="background:linear-gradient(#440154,#440154 53.1%,#46085c 83.7%,#450457 89.8%,#481467 95.9%,#482878 98%,#450559)"></i><i style="background:linear-gradient(#440154,#440154 69.4%,#46085c 85.7%,#450559 89.8%,#471063 95.9%,#482677 98%,#450559)"></i><i style="background:linear-gradient(#440154,#440154 63.3%,#46075a 83.7%,#450457 89.8%,#460b5e 93.9%,#460a5d 95.9%,#482677 98%,#450559)"></i><i style="background:linear-gradient(#440154,#440154 63.3%,#46075a 83.7%,#440256 89.8%,#460a5d 93.9%,#440256 95.9%,#482576 98%,#450559)"></i><i style="background:linear-gradient(#440154,#440154 63.3%,#46085c 85.7%,#450457 89.8%,#460a5d 93.9%,#450457 95.9%,#482475 98%,#450559)"></i><i style="background:linear-gradient(#440154,#440154 59.2%,#460a5d 85.7%,#46075a 89.8%,#460a5d 95.9%,#482475 98%,#450559)"></i><i style="background:linear-gradient(#440154,#440154 53.1%,#460a5d 91.8%,#470e61 95.9%,#482374 98%,#450559)"></i><i style="background:linear-gradient(#440154,#450457 81.6%,#471164 95.9%,#482173 98%,#450559)"></i><i style="background:linear-gradient(#440154,#440154 83.7%,#471164 95.9%,#482071 98%,#450559)"></i><i style="background:linear-gradient(#440154,#440154 87.8%,#46085c 91.8%,#471164 93.9%,#471164 95.9%,#482071 98%,#450559)"></i><i style="background:linear-gradient(#440154,#440256 85.7%,#471063 95.9%,#481f70 98%,#450559)"></i><i style="background:linear-gradient(#440154,#440256 81.6%,#450559 87.8%,#471063 93.9%,#470d60 95.9%,#481d6f 98%,#450559)"></i><i style="background:linear-gradient(#440154,#440154 79.6%,#470e61 93.9%,#460a5d 95.9%,#481d6f 98%,#450559)"></i><i style="background:linear-gradient(#440154,#440256 77.6%,#470e61 91.8%,#46075a 95.9%,#481d6f 98%,#450559)"></i><i style="background:linear-gradient(#440154,#440256 75.5%,#470e61 89.8%,#470e61 91.8%,#450559 95.9%,#481c6e 98%,#46075a)"></i><i style="background:linear-gradient(#440154,#440256 71.4%,#470e61 89.8%,#46085c 95.9%,#481c6e 98%,#46075a)"></i><i style="background:linear-gradient(#440154,#440256 67.3%,#470e61 89.8%,#46085c 93.9%,#460b5e 95.9%,#481c6e 98%,#46075a)"></i><i style="background:linear-gradient(#440154,#440154 65.3%,#450457 79.6%,#460b5e 89.8%,#450559 93.9%,#481c6e 98%,#46075a)"></i><i style="background:linear-gradient(#440154,#440154 79.6%,#460a5d 89.8%,#450559 93.9%,#481467 95.9%,#481c6e 98%,#46075a)"></i><i style="background:linear-gradient(#440154,#440256 81.6%,#460b5e 93.9%,#481d6f 98%,#46075a)"></i><i style="background:linear-gradient(#440154,#440256 81.6%,#471063 93.9%,#481d6f 98%,#46085c)"></i><i style="background:linear-gradient(#440154,#440256 77.6%,#450559 83.7%,#481467 93.9%,#481d6f 95.9%,#481f70 98%,#46085c)"></i><i style="background:linear-gradient(#440154,#450457 75.5%,#460b5e 87.8%,#481769 93.9%,#481f70 95.9%,#481f70 98%,#46085c)"></i><i style="background:linear-gradient(#440154,#440256 77.6%,#470d60 89.8%,#482173 95.9%,#482071 98%,#46085c)"></i><i style="background:linear-gradient(#440154,#440154 81.6%,#46085c 89.8%,#470d60 91.8%,#482173 95.9%,#482173 98%,#46085c)"></i><i style="background:linear-gradient(#440154,#440154 87.8%,#460a5d 91.8%,#482173 95.9%,#482173 98%,#460a5d)"></i><i style="background:linear-gradient(#440154,#440154 83.7%,#460a5d 91.8%,#482173 95.9%,#482173 98%,#460a5d)"></i><i style="background:linear-gradient(#440154,#450457 83.7%,#470d60 91.8%,#471365 93.9%,#481f70 95.9%,#482374 98%,#460a5d)"></i><i style="background:linear-gradient(#440154,#450457 79.6%,#471164 93.9%,#481d6f 95.9%,#482173 98%,#460a5d)"></i><i style="background:linear-gradient(#440154,#450457 77.6%,#470d60 93.9%,#481b6d 95.9%,#482173 98%,#460b5e)"></i><i style="background:linear-gradient(#440154,#440154 63.3%,#46075a 91.8%,#46085c 93.9%,#48186a 95.9%,#482173 98%,#460b5e)"></i><i style="background:linear-gradient(#440154,#440154 63.3%,#46085c 87.8%,#440256 93.9%,#481769 95.9%,#482071 98%,#460b5e)"></i><i style="background:linear-gradient(#440154,#440154 73.5%,#46085c 87.8%,#450457 93.9%,#481668 95.9%,#481f70 98%,#460b5e)"></i><i style="background:linear-gradient(#440154,#440154 73.5%,#450559 91.8%,#46085c 93.9%,#481d6f 98%,#470d60)"></i><i style="background:linear-gradient(#440154,#440154 83.7%,#450457 91.8%,#481c6e 98%,#470d60)"></i><i style="background:linear-gradient(#440154,#440154 83.7%,#46075a 91.8%,#481a6c 98%,#470d60)"></i><i style="background:linear-gradient(#440154,#440256 79.6%,#450559 85.7%,#48186a 98%,#470e61)"></i><i style="background:linear-gradient(#440154,#440256 73.5%,#460a5d 85.7%,#471164 89.8%,#481769 98%,#470e61)"></i><i style="background:linear-gradient(#440154,#450457 73.5%,#46085c 81.6%,#481668 91.8%,#471164 95.9%,#481769 98%,#470e61)"></i><i style="background:linear-gradient(#440154,#450457 73.5%,#46085c 81.6%,#481769 91.8%,#470e61 95.9%,#481668 98%,#470e61)"></i><i style="background:linear-gradient(#440154,#440256 69.4%,#460a5d 83.7%,#481668 91.8%,#470d60 95.9%,#481769 98%,#471063)"></i><i style="background:linear-gradient(#440154,#440256 73.5%,#450559 81.6%,#481467 91.8%,#470d60 93.9%,#470d60 95.9%,#481769 98%,#471063)"></i><i style="background:linear-gradient(#440154,#440256 77.6%,#46075a 83.7%,#481467 91.8%,#470e61 95.9%,#48186a 98%,#471063)"></i><i style="background:linear-gradient(#440154,#450457 77.6%,#46075a 83.7%,#471365 91.8%,#471063 95.9%,#481a6c 98%,#471063)"></i><i style="background:linear-gradient(#440154,#440154 73.5%,#46075a 85.7%,#471365 91.8%,#471365 95.9%,#481b6d 98%,#471164)"></i><i style="background:linear-gradient(#440154,#440256 83.7%,#450559 87.8%,#481467 93.9%,#481467 95.9%,#481c6e 98%,#471164)"></i><i style="background:linear-gradient(#440154,#440154 83.7%,#46075a 89.8%,#481d6f 98%,#471164)"></i><i style="background:linear-gradient(#440154,#440256 81.6%,#46075a 89.8%,#481d6f 98%,#471164)"></i><i style="background:linear-gradient(#440154,#440154 77.6%,#450559 89.8%,#470d60 93.9%,#481d6f 98%,#471365)"></i><i style="background:linear-gradient(#440154,#440154 83.7%,#46075a 93.9%,#481668 95.9%,#481d6f 98%,#471365)"></i><i style="background:linear-gradient(#440154,#440256 93.9%,#481769 95.9%,#481d6f 98%,#471365)"></i><i style="background:linear-gradient(#440154,#440154 83.7%,#46075a 93.9%,#481769 95.9%,#481c6e 98%,#471365)"></i><i style="background:linear-gradient(#440154,#440256 87.8%,#470e61 93.9%,#48186a 95.9%,#481b6d 98%,#471365)"></i><i style="background:linear-gradient(#440154,#440154 83.7%,#46085c 89.8%,#481a6c 95.9%,#481467)"></i><i style="background:linear-gradient(#440154,#440256 77.6%,#46075a 85.7%,#481b6d 95.9%,#481467)"></i><i style="background:linear-gradient(#440154,#450457 73.5%,#46085c 83.7%,#481b6d 95.9%,#481467 98%,#481467)"></i><i style="background:linear-gradient(#440154,#440256 73.5%,#460a5d 85.7%,#481b6d 95.9%,#471164 98%,#481467)"></i><i style="background:linear-gradient(#440154,#440154 77.6%,#46075a 85.7%,#48186a 93.9%,#481a6c 95.9%,#470e61 98%,#481467)"></i><i style="background:linear-gradient(#440154,#440256 83.7%,#460a5d 89.8%,#481a6c 95.9%,#470d60 98%,#481467)"></i><i style="background:linear-gradient(#440154,#440154 79.6%,#46075a 89.8%,#48186a 95.9%,#460b5e 98%,#481668)"></i><i style="background:linear-gradient(#440154,#440256 85.7%,#46085c 91.8%,#48186a 95.9%,#460a5d 98%,#481668)"></i><i style="background:linear-gradient(#440154,#440154 87.8%,#450457 91.8%,#48186a 95.9%,#46085c 98%,#481668)"></i><i style="background:linear-gradient(#440154,#440154 89.8%,#460a5d 93.9%,#48186a 95.9%,#46085c 98%,#481668)"></i><i style="background:linear-gradient(#440154,#440256 91.8%,#46085c 93.9%,#48186a 95.9%,#460a5d 98%,#481668)"></i><i style="background:linear-gradient(#440154,#440154 87.8%,#450457 91.8%,#460a5d 93.9%,#48186a 95.9%,#460a5d 98%,#481668)"></i><i style="background:linear-gradient(#440154,#440154 85.7%,#46075a 91.8%,#48186a 95.9%,#460b5e 98%,#481668)"></i><i style="background:linear-gradient(#440154,#440256 83.7%,#460a5d 91.8%,#470e61 93.9%,#481a6c 95.9%,#470e61 98%,#481769)"></i><i style="background:linear-gradient(#440154,#440256 77.6%,#46085c 89.8%,#471063 93.9%,#481a6c 95.9%,#471063 98%,#481769)"></i><i style="background:linear-gradient(#440154,#450457 83.7%,#460a5d 91.8%,#481b6d 95.9%,#471164 98%,#481769)"></i><i style="background:linear-gradient(#440154,#440154 79.6%,#46085c 91.8%,#481c6e 95.9%,#481467 98%,#481769)"></i><i style="background:linear-gradient(#440154,#440154 85.7%,#46075a 91.8%,#481c6e 95.9%,#481668 98%,#481769)"></i><i style="background:linear-gradient(#440154,#440154 85.7%,#46085c 91.8%,#481c6e 95.9%,#481769)"></i><i style="background:linear-gradient(#440154,#440154 77.6%,#46075a 87.8%,#470d60 91.8%,#481b6d 95.9%,#481769)"></i><i style="background:linear-gradient(#440154,#450457 77.6%,#471365 93.9%,#481b6d 95.9%,#481769)"></i><i style="background:linear-gradient(#440154,#440256 73.5%,#471164 89.8%,#471063 93.9%,#481a6c 95.9%,#481769)"></i><i style="background:linear-gradient(#440154,#450457 73.5%,#471063 89.8%,#460a5d 93.9%,#48186a 95.9%,#481c6e 98%,#481769)"></i><i style="background:linear-gradient(#440154,#440154 59.2%,#46075a 79.6%,#470d60 87.8%,#460b5e 91.8%,#450457 93.9%,#481769 95.9%,#481c6e 98%,#481769)"></i><i style="background:linear-gradient(#440154,#440154 61.2%,#450457 77.6%,#460b5e 87.8%,#460b5e 91.8%,#46075a 93.9%,#48186a 95.9%,#481c6e 98%,#481769)"></i><i style="background:linear-gradient(#440154,#440256 79.6%,#470d60 93.9%,#48186a 95.9%,#481b6d 98%,#481769)"></i><i style="background:linear-gradient(#440154,#440154 83.7%,#450457 87.8%,#481a6c 95.9%,#481769)"></i><i style="background:linear-gradient(#440154,#450457 85.7%,#46085c 89.8%,#481a6c 95.9%,#481769)"></i><i style="background:linear-gradient(#440154,#450457 83.7%,#46085c 89.8%,#481b6d 95.9%,#481769)"></i><i style="background:linear-gradient(#440154,#440256 85.7%,#460b5e 91.8%,#481b6d 95.9%,#481769)"></i><i style="background:linear-gradient(#440154,#440154 81.6%,#46075a 89.8%,#481a6c 95.9%,#481769)"></i><i style="background:linear-gradient(#440154,#450457 85.7%,#460a5d 91.8%,#48186a 95.9%,#481769)"></i><i style="background:linear-gradient(#440154,#440256 83.7%,#46085c 91.8%,#481769 95.9%,#481769)"></i><i style="background:linear-gradient(#440154,#440154 83.7%,#450457 89.8%,#460b5e 93.9%,#481467 95.9%,#481668)"></i><i style="background:linear-gradient(#440154,#440154 87.8%,#46085c 93.9%,#48186a 98%,#481668)"></i><i style="background:linear-gradient(#440154,#440154 89.8%,#450559 93.9%,#48186a 98%,#481668)"></i><i style="background:linear-gradient(#440154,#440154 91.8%,#440256 93.9%,#481769 98%,#481668)"></i><i style="background:linear-gradient(#440154,#440154 91.8%,#440256 93.9%,#481769 98%,#481668)"></i><i style="background:linear-gradient(#440154,#440154 89.8%,#450457 93.9%,#481668 98%,#481668)"></i><i style="background:linear-gradient(#440154,#440256 89.8%,#450559 93.9%,#481467 98%,#481668)"></i><i style="background:linear-gradient(#440154,#440256 87.8%,#46075a 93.9%,#471063 95.9%,#481467)"></i><i style="background:linear-gradient(#440154,#440256 91.8%,#471164 95.9%,#481467)"></i><i style="background:linear-gradient(#440154,#440154 89.8%,#450457 91.8%,#471365 95.9%,#471063 98%,#481467)"></i><i style="background:linear-gradient(#440154,#440154 85.7%,#450457 89.8%,#481467 95.9%,#470d60 98%,#481467)"></i><i style="background:linear-gradient(#440154,#440154 79.6%,#450559 87.8%,#481668 95.9%,#460b5e 98%,#481467)"></i><i style="background:linear-gradient(#440154,#440154 71.4%,#46075a 85.7%,#481668 93.9%,#481668 95.9%,#460b5e 98%,#481467)"></i><i style="background:linear-gradient(#440154,#450457 75.5%,#46085c 83.7%,#481769 93.9%,#481769 95.9%,#470d60 98%,#471365)"></i><i style="background:linear-gradient(#440154,#440256 73.5%,#460a5d 83.7%,#48186a 93.9%,#48186a 95.9%,#470e61 98%,#471365)"></i><i style="background:linear-gradient(#440154,#450457 73.5%,#46085c 83.7%,#481a6c 95.9%,#471164 98%,#471365)"></i><i style="background:linear-gradient(#440154,#440154 75.5%,#46075a 85.7%,#481b6d 95.9%,#471365 98%,#471365)"></i><i style="background:linear-gradient(#440154,#440154 81.6%,#46075a 89.8%,#481c6e 95.9%,#471365)"></i><i style="background:linear-gradient(#440154,#440154 87.8%,#46075a 91.8%,#481c6e 95.9%,#471164)"></i><i style="background:linear-gradient(#440154,#440256 89.8%,#450457 91.8%,#481b6d 95.9%,#471164)"></i><i style="background:linear-gradient(#440154,#440154 85.7%,#46075a 91.8%,#481a6c 95.9%,#481a6c 98%,#471164)"></i><i style="background:linear-gradient(#440154,#440154 81.6%,#46075a 89.8%,#470d60 93.9%,#481769 95.9%,#481a6c 98%,#471164)"></i><i style="background:linear-gradient(#440154,#440256 79.6%,#460b5e 93.9%,#481a6c 98%,#471164)"></i><i style="background:linear-gradient(#440154,#440154 71.4%,#450457 81.6%,#460b5e 89.8%,#46085c 93.9%,#481a6c 98%,#471063)"></i><i style="background:linear-gradient(#440154,#440256 77.6%,#460b5e 89.8%,#460b5e 91.8%,#450457 93.9%,#481a6c 98%,#471063)"></i><i style="background:linear-gradient(#440154,#440154 71.4%,#450457 81.6%,#460b5e 89.8%,#46075a 93.9%,#481a6c 98%,#471063)"></i><i style="background:linear-gradient(#440154,#440256 75.5%,#450559 83.7%,#471063 91.8%,#460b5e 93.9%,#48186a 98%,#471063)"></i><i style="background:linear-gradient(#440154,#440256 77.6%,#46085c 85.7%,#471063 89.8%,#471063 93.9%,#48186a 98%,#470e61)"></i><i style="background:linear-gradient(#440154,#450457 75.5%,#46075a 83.7%,#481769 98%,#470e61)"></i><i style="background:linear-gradient(#440154,#440154 71.4%,#450559 83.7%,#481769 98%,#470e61)"></i><i style="background:linear-gradient(#440154,#440256 81.6%,#46075a 87.8%,#481769 98%,#470e61)"></i><i style="background:linear-gradient(#440154,#440154 81.6%,#450559 89.8%,#481769 98%,#470e61)"></i><i style="background:linear-gradient(#440154,#440154 89.8%,#481769 98%,#470d60)"></i><i style="background:linear-gradient(#440154,#440256 89.8%,#450457 91.8%,#481769 98%,#470d60)"></i><i style="background:linear-gradient(#440154,#440154 85.7%,#450457 91.8%,#481769 98%,#470d60)"></i><i style="background:linear-gradient(#440154,#440154 83.7%,#450559 91.8%,#48186a 98%,#470d60)"></i><i style="background:linear-gradient(#440154,#440256 89.8%,#48186a 98%,#470d60)"></i><i style="background:linear-gradient(#440154,#440256 87.8%,#481a6c 98%,#460b5e)"></i><i style="background:linear-gradient(#440154,#440256 79.6%,#46075a 85.7%,#481b6d 98%,#460b5e)"></i><i style="background:linear-gradient(#440154,#440256 73.5%,#471365 91.8%,#481c6e 98%,#460b5e)"></i><i style="background:linear-gradient(#440154,#46075a 63.3%,#481769 85.7%,#471164 91.8%,#481d6f 98%,#460b5e)"></i><i style="background:linear-gradient(#450457,#46075a 59.2%,#481769 81.6%,#470d60 91.8%,#481c6e 95.9%,#481f70 98%,#460b5e)"></i><i style="background:linear-gradient(#440154,#450559 63.3%,#481467 83.7%,#470e61 87.8%,#46075a 89.8%,#46085c 91.8%,#482071 98%,#460b5e)"></i><i style="background:linear-gradient(#440154,#440256 59.2%,#450559 69.4%,#471164 83.7%,#471063 87.8%,#46085c 91.8%,#482173 98%,#460a5d)"></i><i style="background:linear-gradient(#440154,#450457 75.5%,#470d60 85.7%,#460a5d 91.8%,#470d60 93.9%,#482173 98%,#460a5d)"></i><i style="background:linear-gradient(#440154,#440256 81.6%,#460a5d 89.8%,#46085c 93.9%,#471164 95.9%,#482173 98%,#460a5d)"></i><i style="background:linear-gradient(#440154,#440154 81.6%,#46075a 89.8%,#450457 93.9%,#470d60 95.9%,#482173 98%,#460a5d)"></i><i style="background:linear-gradient(#440154,#440154 81.6%,#46075a 89.8%,#440256 93.9%,#46085c 95.9%,#482173 98%,#460a5d)"></i><i style="background:linear-gradient(#440154,#440154 77.6%,#46075a 89.8%,#440256 95.9%,#482071 98%,#460a5d)"></i><i style="background:linear-gradient(#440154,#440154 75.5%,#46085c 89.8%,#450457 95.9%,#481f70 98%,#460a5d)"></i><i style="background:linear-gradient(#440154,#440154 71.4%,#46075a 93.9%,#46085c 95.9%,#481d6f 98%,#46085c)"></i><i style="background:linear-gradient(#440154,#440154 73.5%,#460a5d 93.9%,#470d60 95.9%,#481c6e 98%,#46085c)"></i><i style="background:linear-gradient(#440154,#440256 75.5%,#470e61 93.9%,#471164 95.9%,#481b6d 98%,#46085c)"></i><i style="background:linear-gradient(#440154,#440256 77.6%,#46085c 87.8%,#481a6c 98%,#46085c)"></i><i style="background:linear-gradient(#440154,#440256 83.7%,#450559 87.8%,#481769 95.9%,#481769 98%,#46085c)"></i><i style="background:linear-gradient(#440154,#440154 81.6%,#46075a 89.8%,#48186a 95.9%,#481668 98%,#46085c)"></i><i style="background:linear-gradient(#440154,#450457 85.7%,#460a5d 91.8%,#48186a 95.9%,#46085c)"></i><i style="background:linear-gradient(#440154,#440256 83.7%,#46085c 91.8%,#48186a 95.9%,#46085c)"></i><i style="background:linear-gradient(#440154,#440154 83.7%,#46075a 91.8%,#48186a 95.9%,#46085c)"></i><i style="background:linear-gradient(#440154,#440154 87.8%,#450559 91.8%,#48186a 95.9%,#460b5e 98%,#46075a)"></i><i style="background:linear-gradient(#440154,#440256 87.8%,#46075a 91.8%,#48186a 95.9%,#460a5d 98%,#46075a)"></i><i style="background:linear-gradient(#440154,#450457 87.8%,#46085c 91.8%,#481a6c 95.9%,#46085c 98%,#46075a)"></i><i style="background:linear-gradient(#440154,#440256 83.7%,#460a5d 91.8%,#481a6c 95.9%,#46085c 98%,#46075a)"></i><i style="background:linear-gradient(#440154,#440154 83.7%,#46075a 89.8%,#481b6d 95.9%,#46085c 98%,#46075a)"></i><i style="background:linear-gradient(#440154,#440154 77.6%,#450559 87.8%,#470d60 91.8%,#481b6d 95.9%,#460a5d 98%,#46075a)"></i><i style="background:linear-gradient(#440154,#450457 81.6%,#470d60 91.8%,#481c6e 95.9%,#460b5e 98%,#46075a)"></i><i style="background:linear-gradient(#440154,#440256 79.6%,#46085c 89.8%,#481c6e 95.9%,#460b5e 98%,#46075a)"></i><i style="background:linear-gradient(#440154,#440256 87.8%,#450559 89.8%,#481c6e 95.9%,#470d60 98%,#46075a)"></i><i style="background:linear-gradient(#440154,#440154 79.6%,#46085c 89.8%,#481b6d 95.9%,#470d60 98%,#46075a)"></i><i style="background:linear-gradient(#440154,#440256 67.3%,#470e61 89.8%,#481a6c 95.9%,#470d60 98%,#46075a)"></i><i style="background:linear-gradient(#450457,#460a5d 65.3%,#471063 89.8%,#481769 95.9%,#46075a)"></i></div><svg width="550" height="375" viewBox="0 0 550 375" style="position:absolute;left:0;top:0">
<g stroke="#c4c4c4" stroke-width="0.6"><line x1="123.3" x2="123.3" y1="9.0" y2="58.1"/><line x1="219.1" x2="219.1" y1="9.0" y2="58.1"/><line x1="314.9" x2="314.9" y1="9.0" y2="58.1"/><line x1="410.7" x2="410.7" y1="9.0" y2="58.1"/><line x1="506.5" x2="506.5" y1="9.0" y2="58.1"/><line x1="27.5" x2="542.7" y1="12" y2="12"/><line x1="27.5" x2="542.7" y1="34.6" y2="34.6"/></g>
<polyline fill="none" stroke="#000" stroke-width="1.12" stroke-linejoin="round" points="27.6,34.3 29.6,33.1 30.6,33.6 31.9,32.4 32.8,34.6 33.7,33.6 34.7,35.2 35.7,41 37.2,39.7 38.3,36.5 39.4,28.2 40.2,39.7 41.1,47.4 41.8,50 42.6,39.7 43.6,18 44.7,20.5 45.3,34.6 46.2,54.4 47.2,46.1 48.1,30.8 48.8,23.1 49.5,34.6 50,43.6 50.7,32 51.3,22.4 52.1,34.6 52.6,41 53.4,28.2 53.9,21.8 54.4,35.9 55.2,14.8 55.9,21.8 56.7,28.2 57.7,27.6 58.5,24.4 59,39.7 59.8,30.8 60.8,24.4 61.3,34.6 61.8,45.5 62.8,42.3 63.9,35.9 64.8,39.7 65.4,33.3 66.4,30.8 67.3,51.9 68.2,34.6 69,22.4 69.9,23.1 70.5,34.6 71.8,51.9 72.6,41 73.3,28.2 74.4,26.3 75.4,28.2 76.4,34.6 77.2,25.6 78.2,21.2 79.2,34.6 80,45.5 80.7,34.6 81.5,28.8 82.3,37.2 83.1,42.9 83.8,34.6 84.8,31.4 85.6,36.5 86.4,39.7 87.1,28.2 88.2,38.4 88.9,41.6 89.7,32 90.7,36.5 91.5,34 92.3,39.1 93.3,36.5 94.1,25 94.8,41 95.6,44.2 96.7,39.1 97,39.1 97.6,24.4 98.5,34.6 99.3,42.9 100.2,38.4 101.4,28.2 102.1,34.6 103.1,38.4 104.4,42.9 105.4,39.1 106.5,33.3 107.2,35.9 108.3,49.3 109,32 109.8,21.2 110.6,26.3 111.3,37.2 112.1,29.5 113.1,22.4 113.9,25.6 114.9,24.4 115.7,31.4 116.5,34 117.2,30.8 118,38.4 118.8,41 119.5,30.8 120.3,46.1 121.1,34.6 121.8,30.8 122.6,38.4 123.6,44.8 124.4,29.5 125.2,23.7 125.9,26.9 126.7,39.1 127.7,34.6 128.7,39.1 129.8,35.9 130.8,28.2 131.6,37.8 132.6,26.3 133.3,34.6 134.4,50 135.1,41 136.2,21.8 137.2,10.9 138.2,20.5 139.2,41 140,53.8 140.8,29.5 141.8,51.2 142.8,38.4 143.8,44.8 144.9,32 145.6,26.9 146.7,34.6 147.7,37.8 148.7,32 149.5,27.6 150.5,33.3 151.3,38.4 152.3,30.8 153.1,39.1 153.8,32.7 154.8,39.7 155.6,34.6 156.6,39.7 157.7,36.5 158.7,28.8 159.7,39.1 160.5,29.5 161.5,39.1 162.5,22.4 163.5,30.8 164.6,41 165.6,37.2 166.4,44.2 166.9,39.7 167,43.6 167.8,28.2 168.5,39.7 169.6,39.1 170.6,26.9 171.6,39.7 172.6,36.5 173.7,33.3 174.7,29.5 175.7,32 176.7,30.8 177.7,34 178.8,27.6 179.8,34.6 180.8,40.4 181.8,34 182.9,28.2 183.9,39.7 184.9,30.8 185.9,37.8 187,33.3 188,39.7 189,36.5 190,35.9 191.1,29.5 192.1,36.5 193.1,34.6 194.1,35.2 195.2,33.3 195.9,25.6 196.7,37.2 197.5,44.2 198.5,36.5 199.5,32.7 200.5,34 201.6,30.1 202.6,32.7 203.6,35.9 204.6,34.6 205.6,36.5 206.7,28.2 207.4,36.5 208.2,44.8 209.2,34.6 210.3,36.5 211.3,39.7 212.3,34 213.3,30.1 214.4,28.8 215.4,36.5 216.4,41.6 217.4,27.6 218.4,37.2 219.2,41.6 220,29.5 221,36.5 222,34 223.1,25.6 224.1,34.6 225.1,39.1 225.9,44.8 226.9,25 227.9,36.5 228.9,39.1 230,30.1 231,36.5 232,40.4 233,39.1 234.1,39.7 235.1,32.7 236.1,35.9 236.9,30.1 237,30.1 238,38.4 239,33.3 240.1,30.1 241.1,36.5 242.1,42.3 243.1,26.9 244.2,39.7 245.2,30.8 246.2,39.1 247.2,36.5 248.3,30.1 249.3,36.5 250.3,33.3 251.3,34 252.4,32.7 253.4,36.5 254.4,41.6 255.4,33.3 256.2,24.4 257.2,36.5 258,39.7 259,42.3 260,23.7 260.8,36.5 261.6,42.9 262.3,25 263.4,33.3 264.4,47.4 265.4,36.5 266.4,25.6 267.5,18 268.5,36.5 269,42.9 269.8,25 270.5,36.5 271.3,24.4 272.3,25.6 273.3,36.5 274.1,39.1 275.1,21.8 276.2,36.5 276.9,39.7 277.7,36.5 278.7,44.2 279.7,36.5 280.8,30.1 281.5,36.5 282.3,28.2 283.3,36.5 284.4,34 285.4,34.6 286.4,32 287.4,33.3 288.4,39.7 289.5,36.5 290.5,38.4 291.5,35.9 292.5,37.2 293.6,35.2 294.6,36.5 295.6,34.6 296.6,36.5 297.7,34 298.7,36.5 299.5,33.3 300.2,37.2"/>
<polyline fill="none" stroke="#1c1c1c" stroke-width="0.88" stroke-linejoin="round" points="300.2,37.2 301.2,32 302.3,35.9 303.3,32.7 304.3,36.5 305.3,32.7 306.1,36.5 306.9,33.3 307,35.2 308,35.9 309,33.3 310.1,34.6 310.8,32 311.9,30.1 312.9,35.2 313.9,37.2 314.9,35.9 316,31.4 317,34 318,37.8 319,35.2 319.8,32.7 320.8,35.2 321.8,36.5 322.6,39.1 323.6,32 324.7,32.7 325.7,34.6 326.7,35.2 327.7,35.9 328.8,34 329.8,32.7 330.8,34 331.8,33.3 332.9,37.2 333.9,34.6 334.9,35.9 335.9,34 336.9,35.9 338,34.6 339,35.9 340,35.2 341,36.5 342.1,35.9 343.1,34 344.1,33.3 345.1,35.2 346.2,35.9 347.2,34 348.2,32.7 349.2,34 350.3,35.2 351.3,34 352.3,35.9 353.3,35.2 354.4,36.5 355.4,34.6 356.4,34 357.4,35.2 358.4,35.9 359.5,34.6 360.5,34 361.5,35.2 362.5,34.6 363.6,34 364.6,34.6 365.6,34 366.6,35.2 367.7,34.6 368.7,34 369.7,35.9 370.7,34.6 371.8,35.2 372.8,34 373.8,34.6 374.8,32.7 375.9,34.6 376.9,35.2 377,34.6 378.9,35.5 380.8,35.9 383.4,36.1 384.7,33.3 385.7,34 386.7,33.1 388.5,34 389.8,33.3 391.1,34 392.4,32.9 393.6,34 395.6,35 397.5,35.5 400,34.3 402,35.9 403.2,34.6 405.8,34.9 408.4,33.1 410.3,35 412.2,36.1 414.1,36.5 416,34.6 417.3,35 419.2,33.7 423.1,33.7 425,35.9 426.9,33.7 429.2,35.2 431.4,33.3 433.3,32.9 435.2,34 437.8,34.6 439.7,35.6 441.4,36.5 442.9,34.6 444.2,34.2 446.9,35.5 447,35.5 449.6,35.9 452.1,35.2 454,34.2 456.6,35.5 459.8,36.9 461.7,34.6 463,35.5 464.9,34 466.8,33.3 468.8,34.6 470.7,35.5 473.2,34.6 476.4,33.7 479.6,33.1 482.8,33.7 485.4,35 487.3,32.7 489.9,34.3 492.4,35.6 494.4,35.9 496.3,34.6 498.2,35.2 500.5,33.3 502.7,35 505.2,35.2 508.4,34.6 511,35.2 512.5,37.2 513,37.4 513.2,35.2 513.9,34.6 514.8,36.1 516.1,33.7 518.4,34 521,33.3 522.9,34 524.8,33.1 526.7,34.6 528.6,35.5 531.2,34.6 533.7,34 536.3,35.2 537.6,35.9 539.5,34.6 541.4,33.6 542.5,32.7"/>
<rect x="27.5" y="9.0" width="515.2" height="49.1" fill="none" stroke="#555" stroke-width="0.6"/>
<g stroke="#444" stroke-width="0.5"><line x1="27.5" x2="27.5" y1="58.1" y2="59.7"/><line x1="123.3" x2="123.3" y1="58.1" y2="59.7"/><line x1="219.1" x2="219.1" y1="58.1" y2="59.7"/><line x1="314.9" x2="314.9" y1="58.1" y2="59.7"/><line x1="410.7" x2="410.7" y1="58.1" y2="59.7"/><line x1="506.5" x2="506.5" y1="58.1" y2="59.7"/><line x1="25.9" x2="27.5" y1="12" y2="12"/><line x1="25.9" x2="27.5" y1="34.6" y2="34.6"/></g>
<g font-family="'Liberation Sans','DejaVu Sans',sans-serif" font-size="5.5" fill="#2a2a2a"><text x="27.5" y="65.5" text-anchor="middle">0</text><text x="123.3" y="65.5" text-anchor="middle">10</text><text x="219.1" y="65.5" text-anchor="middle">20</text><text x="314.9" y="65.5" text-anchor="middle">30</text><text x="410.7" y="65.5" text-anchor="middle">40</text><text x="506.5" y="65.5" text-anchor="middle">50</text><text x="24.3" y="14" text-anchor="end">200</text><text x="24.3" y="36.6" text-anchor="end">0</text></g>
<text transform="translate(11.3,33.5) rotate(-90)" text-anchor="middle" font-family="'DejaVu Sans','Liberation Sans',sans-serif" font-weight="bold" font-size="5.05" fill="#1a1a1a">Acceleration (cm/s²)</text>
<rect x="27.8" y="86.8" width="515" height="49.4" fill="none" stroke="#33113f" stroke-width="0.5"/>
<g stroke="#444" stroke-width="0.5"><line x1="27.5" x2="27.5" y1="136.2" y2="137.8"/><line x1="123.3" x2="123.3" y1="136.2" y2="137.8"/><line x1="219.1" x2="219.1" y1="136.2" y2="137.8"/><line x1="314.9" x2="314.9" y1="136.2" y2="137.8"/><line x1="410.7" x2="410.7" y1="136.2" y2="137.8"/><line x1="506.5" x2="506.5" y1="136.2" y2="137.8"/><line x1="26.2" x2="27.8" y1="114.7" y2="114.7"/><line x1="26.2" x2="27.8" y1="93.1" y2="93.1"/></g>
<g font-family="'Liberation Sans','DejaVu Sans',sans-serif" font-size="5.5" fill="#2a2a2a"><text x="27.5" y="144.3" text-anchor="middle">0</text><text x="123.3" y="144.3" text-anchor="middle">10</text><text x="219.1" y="144.3" text-anchor="middle">20</text><text x="314.9" y="144.3" text-anchor="middle">30</text><text x="410.7" y="144.3" text-anchor="middle">40</text><text x="506.5" y="144.3" text-anchor="middle">50</text><text x="23.2" y="116.7" text-anchor="end">10</text><text x="23.2" y="95.1" text-anchor="end">20</text></g>
<text x="284.9" y="151.4" text-anchor="middle" font-family="'DejaVu Sans','Liberation Sans',sans-serif" font-weight="bold" font-size="5.1" fill="#1a1a1a">Time (s)</text>
<text transform="translate(14.2,112.4) rotate(-90)" text-anchor="middle" font-family="'DejaVu Sans','Liberation Sans',sans-serif" font-weight="bold" font-size="5.05" fill="#1a1a1a">Frequency (Hz)</text>
<polygon points="129.6,319.3 233.8,271.2 232.1,179.1 122.3,222.5" fill="#f8f8f8"/><polygon points="233.8,271.2 403.1,298.2 409.9,203.3 232.1,179.1" fill="#f1f1f1"/><polygon points="129.6,319.3 307.3,350.5 403.1,298.2 233.8,271.2" fill="#f5f5f5"/><g fill="none" stroke="#c2c2c2" stroke-width=".5"><polyline points="140.4,321.3 244.2,272.9 243,180.5"/><polyline points="168.4,326.2 270.9,277.1 271,184.4"/><polyline points="196.7,331.1 297.9,281.4 299.3,188.2"/><polyline points="225.5,336.2 325.3,285.8 328.1,192.2"/><polyline points="254.6,341.3 353,290.2 357.3,196.1"/><polyline points="284.2,346.5 381.2,294.7 386.8,200.2"/><polyline points="313.5,347.2 136.2,316.3 129.4,219.7"/><polyline points="332.7,336.7 157.1,306.6 151.4,211"/><polyline points="351.3,326.5 177.4,297.3 172.8,202.5"/><polyline points="369.4,316.6 197.1,288.1 193.6,194.3"/><polyline points="387.1,306.9 216.3,279.3 213.8,186.3"/><polyline points="128.4,303.6 233.5,256.2 404.2,282.7"/><polyline points="127.3,289.5 233.3,242.7 405.2,268.9"/><polyline points="126.3,275.2 233,229.1 406.2,254.9"/><polyline points="125.2,260.6 232.8,215.3 407.2,240.6"/><polyline points="124.1,245.9 232.5,201.2 408.2,226.2"/><polyline points="122.9,230.9 232.3,187 409.3,211.5"/></g><g fill="currentColor" stroke="currentColor" stroke-width=".3" stroke-linejoin="round" id="surf"><path color="#e2d9e2" d="M219.1 282.7l.9 .2l18.8-8.8l-.8-.1zM220 282.9l.9 .1l18.8-8.8l-.9-.1zM220.9 283l.9 .2l18.8-8.8l-.9-.2zM221.8 283.2l.9 .1l18.8-8.8l-.9-.1zM222.7 283.3l.9 .1l18.8-8.7l-.9-.2zM223.6 283.4l.9 .2l18.7-8.8l-.8-.1zM224.5 283.6l.8-.3l18.8-8.4l-.9-.1z"/><path color="#dfd9e1" d="M225.3 283.3l.9 .6l18.8-9.6l-.9 .6zM226.2 283.9l.9 .1l18.8-8.8l-.9-.9z"/><path color="#e2d9e2" d="M228.9 284.3l.9 .2l18.7-8.8l-.8-.2z"/><path color="#d1d5da" d="M227.1 284l.8-3.2l18.9-6.3l-.9 .7z"/><path color="#e2d9e2" d="M229.8 284.5l.9 .1l18.7-8.8l-.9-.1z"/><path color="#d1d5da" d="M227.9 280.8l1 3.5l18.8-8.8l-.9-1z"/><path color="#e2d9e2" d="M230.7 284.6l.9 .1l18.7-8.8l-.9-.1zM231.6 284.7l.9 .2l18.7-8.8l-.9-.2z"/><path color="#dfd9e1" d="M232.5 284.9l.9-.2l18.7-9.1l-.9 .5zM233.4 284.7l.9 .5l18.7-8.8l-.9-.8z"/><path color="#e2d9e2" d="M234.3 285.2l.8 .1l18.7-8.8l-.8-.1zM235.1 285.3l.9 .2l18.7-8.9l-.9-.1zM236 285.5l.9 .1l18.7-8.8l-.9-.2z"/><path color="#dcd9df" d="M236.9 285.6l.9-1.7l18.7-8l-.9 .9z"/><path color="#e2d9e2" d="M239.6 286.1l.9 .1l18.7-8.9l-.9-.1z"/><path color="#dcd9df" d="M238.7 283.9l.9 2.2l18.7-8.9l-.9-.1zM237.8 283.9l.9 0l18.7-6.8l-.9-1.2z"/><path color="#e2d9e2" d="M240.5 286.2l.9 .1l18.6-8.8l-.8-.2z"/><path color="#dcd9df" d="M241.4 286.3l.9-2.2l18.6-6.5l-.9-.1z"/><path color="#e2d9e2" d="M243.2 286.6l.9 .2l18.6-8.9l-.9-.1z"/><path color="#dcd9df" d="M242.3 284.1l.9 2.5l18.6-8.8l-.9-.2z"/><path color="#e2d9e2" d="M244.1 286.8l.9 .1l18.6-8.8l-.9-.2zM245 286.9l.9 .2l18.6-8.9l-.9-.1zM245.9 287.1l.9 .1l18.6-8.9l-.9-.1zM246.8 287.2l.9 .2l18.6-8.9l-.9-.2zM247.7 287.4l.9 .1l18.6-8.9l-.9-.1zM248.6 287.5l.9 .2l18.5-8.9l-.8-.2zM249.5 287.7l.9 .1l18.5-8.9l-.9-.1zM250.4 287.8l.9 .2l18.5-8.9l-.9-.2zM251.3 288l.9 .1l18.5-8.9l-.9-.1zM252.2 288.1l.9 .1l18.5-8.9l-.9-.1zM253.1 288.2l.9 .2l18.5-8.9l-.9-.2z"/><path color="#dfd9e1" d="M254 288.4l.9-.6l18.5-8.2l-.9-.1zM254.9 287.8l.9 .9l18.5-8.9l-.9-.2zM255.8 288.7l.9-.4l18.5-8.4l-.9-.1zM256.7 288.3l.9 .7l18.5-8.9l-.9-.2z"/><path color="#dcd9df" d="M257.6 289l.9-1.5l18.5-7.3l-.9-.1zM258.5 287.5l.9 1.8l18.5-9l-.9-.1z"/><path color="#e2d9e2" d="M259.4 289.3l.9 .1l18.5-8.9l-.9-.2zM260.3 289.4l.9 .2l18.5-9l-.9-.1zM261.2 289.6l.9 .1l18.5-8.9l-.9-.2zM262.1 289.7l.9 .2l18.5-9l-.9-.1zM263 289.9l.9 .1l18.5-8.9l-.9-.2zM263.9 290l.9 .2l18.5-9l-.9-.1zM264.8 290.2l.9 .1l18.5-9l-.9-.1zM265.7 290.3l.9 .1l18.5-8.9l-.9-.2zM266.6 290.4l.9 .2l18.4-9l-.8-.1zM267.5 290.6l1 .1l18.3-8.9l-.9-.2zM268.5 290.7l.9 .2l18.3-9l-.9-.1zM203.7 289.9l.9 .2l15.4-7.2l-.9-.2zM269.4 290.9l.9 .1l18.3-8.9l-.9-.2zM204.6 290.1l.9 .1l15.4-7.2l-.9-.1zM270.3 291l.9 .2l18.3-9l-.9-.1zM205.5 290.2l.9 .1l15.4-7.1l-.9-.2zM271.2 291.2l.9 .1l18.3-9l-.9-.1zM206.4 290.3l.9 .2l15.4-7.2l-.9-.1zM272.1 291.3l.9 0l18.4-8.8l-1-.2zM273 291.3l.9 .3l18.4-9l-.9-.1zM273.9 291.6l.9 .2l18.4-9l-.9-.2z"/><path color="#d1d5da" d="M207.3 290.5l.8-3.6l15.5-3.5l-.9-.1z"/><path color="#e2d9e2" d="M274.8 291.8l.9 .1l18.4-9l-.9-.1zM275.7 291.9l.9 .2l18.4-9l-.9-.2z"/><path color="#dcd9df" d="M209 288.6l.9 1.7l15.4-7l-.8 .3z"/><path color="#dfd9e1" d="M209.9 290.3l.9-.3l15.4-6.1l-.9-.6z"/><path color="#e2d9e2" d="M276.6 292.1l1 .1l18.3-9l-.9-.1z"/><path color="#d1d5da" d="M208.1 286.9l.9 1.7l15.5-5l-.9-.2z"/><path color="#dfd9e1" d="M210.8 290l.9 1.2l15.4-7.2l-.9-.1z"/><path color="#e2d9e2" d="M277.6 292.2l.9 .2l18.3-9l-.9-.2zM278.5 292.4l.9 .1l18.3-9l-.9-.1zM213.5 291.2l.9 .5l15.4-7.2l-.9-.2zM279.4 292.5l.9 .2l18.3-9.1l-.9-.1z"/><path color="#d1d5da" d="M211.7 291.2l.9-1.2l15.3-9.2l-.8 3.2z"/><path color="#dfd9e1" d="M214.4 291.7l.9-.4l15.4-6.7l-.9-.1z"/><path color="#e2d9e2" d="M280.3 292.7l.9 .1l18.3-9l-.9-.2z"/><path color="#d1d5da" d="M212.6 290l.9 1.2l15.4-6.9l-1-3.5z"/><path color="#e2d9e2" d="M281.2 292.8l.9 .2l18.3-9.1l-.9-.1z"/><path color="#dfd9e1" d="M215.3 291.3l.9-.1l15.4-6.5l-.9-.1zM216.2 291.2l.9 .9l15.4-7.2l-.9-.2z"/><path color="#e2d9e2" d="M282.1 293l.9 .1l18.3-9l-.9-.2zM217.1 292.1l.9 .2l15.4-7.6l-.9 .2zM283 293.1l.9 .2l18.3-9.1l-.9-.1zM218 292.3l.9 .1l15.4-7.2l-.9-.5zM283.9 293.3l1 .1l18.2-9l-.9-.2zM218.9 292.4l.9 .2l15.3-7.3l-.8-.1zM284.9 293.4l.9 .2l18.2-9.5l-.9 .3zM219.8 292.6l.9 .1l15.3-7.2l-.9-.2zM285.8 293.6l.9 .1l18.2-9l-.9-.6zM220.7 292.7l.9 .2l15.3-7.3l-.9-.1zM286.7 293.7l.9 .2l18.2-9.1l-.9-.1zM287.6 293.9l.9 .1l18.2-9.1l-.9-.1z"/><path color="#dfd9e1" d="M288.5 294l.9-.7l18.2-8.2l-.9-.2z"/><path color="#d6d7dd" d="M221.6 292.9l.9-2.7l15.3-6.3l-.9 1.7z"/><path color="#e2d9e2" d="M224.3 293.3l.9 .2l15.3-7.3l-.9-.1z"/><path color="#dfd9e1" d="M289.4 293.3l1 1l18.1-9.1l-.9-.1z"/><path color="#e2d9e2" d="M290.4 294.3l.9 .2l18.2-9.1l-1-.2zM225.2 293.5l.9 .1l15.3-7.3l-.9-.1zM291.3 294.5l.9 .1l18.2-9.1l-.9-.1z"/><path color="#d1d5da" d="M223.3 289.6l1 3.7l15.3-7.2l-.9-2.2z"/><path color="#e2d9e2" d="M292.2 294.6l.9 .2l18.2-9.1l-.9-.2zM293.1 294.8l.9 .1l18.2-9.1l-.9-.1z"/><path color="#d1d5da" d="M222.5 290.2l.8-.6l15.4-5.7l-.9 0z"/><path color="#d6d7dd" d="M226.1 293.6l.9-1.6l15.3-7.9l-.9 2.2z"/><path color="#e2d9e2" d="M294 294.9l.9 .2l18.2-9.1l-.9-.2z"/><path color="#dfd9e1" d="M227.9 292.6l.9 1.5l15.3-7.3l-.9-.2z"/><path color="#e2d9e2" d="M228.8 294.1l.9 .1l15.3-7.3l-.9-.1zM294.9 295.1l1 .1l18.1-9.1l-.9-.1zM229.7 294.2l.9 .1l15.3-7.2l-.9-.2z"/><path color="#d6d7dd" d="M227 292l.9 .6l15.3-6l-.9-2.5z"/><path color="#e2d9e2" d="M295.9 295.2l.9 .1l18.1-9l-.9-.2zM230.6 294.3l1 .2l15.2-7.3l-.9-.1zM296.8 295.3l.9 .2l18.1-9.1l-.9-.1zM231.6 294.5l.9 .1l15.2-7.2l-.9-.2zM297.7 295.5l.9 .1l18.1-9.1l-.9-.1zM298.6 295.6l.9 .2l18.2-9.1l-1-.2z"/><path color="#d6d7dd" d="M232.5 294.6l.8-2.2l15.3-4.9l-.9-.1z"/><path color="#e2d9e2" d="M299.5 295.8l1 .1l18.1-9.1l-.9-.1zM234.3 294.9l.9 .2l15.2-7.3l-.9-.1z"/><path color="#d6d7dd" d="M233.3 292.4l1 2.5l15.2-7.2l-.9-.2z"/><path color="#e2d9e2" d="M300.5 295.9l.8 .2l18.1-9.1l-.8-.2z"/><path color="#dfd9e1" d="M235.2 295.1l.9-.4l15.2-6.7l-.9-.2z"/><path color="#e2d9e2" d="M301.3 296.1l2.8 .4l18.1-9.1l-2.8-.4z"/><path color="#dfd9e1" d="M236.1 294.7l.9 .4l15.2-7l-.9-.1z"/><path color="#e2d9e2" d="M237 295.1l.9 .4l15.2-7.3l-.9-.1zM237.9 295.5l.9 .2l15.2-7.3l-.9-.2z"/><path color="#dfd9e1" d="M238.8 295.7l.9 .1l15.2-8l-.9 .6z"/><path color="#e2d9e2" d="M304.1 296.5l2.8 .5l18-9.1l-2.7-.5zM193.9 294.5l.9 .1l9.8-4.5l-.9-.2z"/><path color="#dfd9e1" d="M239.7 295.8l.9 .2l15.2-7.3l-.9-.9z"/><path color="#e2d9e2" d="M194.8 294.6l.9 .2l9.8-4.6l-.9-.1z"/><path color="#dfd9e1" d="M240.6 296l.9-.1l15.2-7.6l-.9 .4z"/><path color="#e2d9e2" d="M195.7 294.8l.9 .1l9.8-4.6l-.9-.1z"/><path color="#dfd9e1" d="M241.5 295.9l.9 .4l15.2-7.3l-.9-.7z"/><path color="#e2d9e2" d="M306.9 297l2.8 .5l18-9.2l-2.8-.4zM196.6 294.9l.9 .2l9.8-4.6l-.9-.2z"/><path color="#dcd9df" d="M242.4 296.3l.9-.1l15.2-8.7l-.9 1.5z"/><path color="#dfd9e1" d="M244.2 295.7l1 1l15.1-7.3l-.9-.1z"/><path color="#e2d9e2" d="M309.7 297.5l2.8 .4l18-9.2l-2.8-.4z"/><path color="#dcd9df" d="M243.3 296.2l.9-.5l15.2-6.4l-.9-1.8z"/><path color="#e2d9e2" d="M245.2 296.7l.9 .2l15.1-7.3l-.9-.2zM246.1 296.9l.9 .1l15.1-7.3l-.9-.1zM247 297l.9 .2l15.1-7.3l-.9-.2z"/><path color="#d1d5da" d="M197.5 295.1l.8-3l9.8-5.2l-.8 3.6z"/><path color="#e2d9e2" d="M312.5 297.9l2.8 .5l18-9.2l-2.8-.5zM247.9 297.2l.9 .1l15.1-7.3l-.9-.1zM248.8 297.3l.9 .2l15.1-7.3l-.9-.2z"/><path color="#d1d5da" d="M199.2 294.1l.8-2.6l9.9-1.2l-.9-1.7z"/><path color="#e2d9e2" d="M249.7 297.5l.9 .1l15.1-7.3l-.9-.1z"/><path color="#d1d5da" d="M198.3 292.1l.9 2l9.8-5.5l-.9-1.7z"/><path color="#d6d7dd" d="M202 295.8l.8-2.2l9.8-3.6l-.9 1.2z"/><path color="#dfd9e1" d="M203.8 296.1l.9-.3l9.7-4.1l-.9-.5z"/><path color="#e2d9e2" d="M315.3 298.4l2.8 .4l18-9.2l-2.8-.4zM250.6 297.6l.9 .2l15.1-7.4l-.9-.1z"/><path color="#d6d7dd" d="M202.8 293.6l1 2.5l9.7-4.9l-.9-1.2z"/><path color="#e2d9e2" d="M251.5 297.8l1 .1l15-7.3l-.9-.2z"/><path color="#b3c6ce" d="M200.8 287.5l1.2 8.3l9.7-4.6l-.9-1.2z"/><path color="#e2d9e2" d="M252.5 297.9l.9 .2l15.1-7.4l-1-.1z"/><path color="#d6d7dd" d="M204.7 295.8l.8-2.6l9.8-1.9l-.9 .4z"/><path color="#e2d9e2" d="M318.1 298.8l2.9 .5l17.9-9.2l-2.8-.5zM253.4 298.1l.9 .2l15.1-7.4l-.9-.2z"/><path color="#aac2cc" d="M200 291.5l.8-4l10 2.5l-.9 .3z"/><path color="#e2d9e2" d="M254.3 298.3l.9 .1l15.1-7.4l-.9-.1z"/><path color="#d6d7dd" d="M207.4 296.7l.8-2.5l9.8-1.9l-.9-.2z"/><path color="#e2d9e2" d="M255.2 298.4l.9 .2l15.1-7.4l-.9-.2z"/><path color="#dfd9e1" d="M209.2 296.3l.9 .9l9.7-4.6l-.9-.2z"/><path color="#cbd2d7" d="M206.3 291.4l1.1 5.3l9.7-4.6l-.9-.9z"/><path color="#e2d9e2" d="M321 299.3l2.8 .4l17.9-9.2l-2.8-.4zM256.1 298.6l.9 .1l15.1-7.4l-.9-.1z"/><path color="#d6d7dd" d="M208.2 294.2l1 2.1l9.7-3.9l-.9-.1z"/><path color="#cbd2d7" d="M205.5 293.2l.8-1.8l9.9-.2l-.9 .1z"/><path color="#e2d9e2" d="M257 298.7l1 .2l15-7.6l-.9 0z"/><path color="#dcd9df" d="M210.1 297.2l.8-1.9l9.8-2.6l-.9-.1z"/><path color="#e2d9e2" d="M258 298.9l.9-.1l15-7.2l-.9-.3zM323.8 299.7l2.8 .5l17.9-9.2l-2.8-.5z"/><path color="#dcd9df" d="M210.9 295.3l1 1l9.7-3.4l-.9-.2z"/><path color="#e2d9e2" d="M258.9 298.8l.9 .4l15-7.4l-.9-.2z"/><path color="#dfd9e1" d="M259.8 299.2l.9-1.1l15-6.2l-.9-.1z"/><path color="#e2d9e2" d="M214.6 297.9l.9 .2l9.7-4.6l-.9-.2zM326.6 300.2l2.8 .5l17.9-9.3l-2.8-.4z"/><path color="#dfd9e1" d="M260.7 298.1l.9 1.3l15-7.3l-.9-.2z"/><path color="#e2d9e2" d="M261.6 299.4l.9 .2l15.1-7.4l-1-.1zM215.5 298.1l.9 .1l9.7-4.6l-.9-.1z"/><path color="#d1d5da" d="M213.7 296.5l.9 1.4l9.7-4.6l-1-3.7z"/><path color="#dfd9e1" d="M262.5 299.6l1-.7l15-6.5l-.9-.2z"/><path color="#bbcad1" d="M211.9 296.3l.7-5.3l9.9-.8l-.9 2.7z"/><path color="#dfd9e1" d="M263.5 298.9l.9 1l15-7.4l-.9-.1z"/><path color="#e2d9e2" d="M329.4 300.7l2.9 .4l17.8-9.2l-2.8-.5zM264.4 299.9l.9 .2l15-7.4l-.9-.2z"/><path color="#dcd9df" d="M216.4 298.2l.9-1.5l9.7-4.7l-.9 1.6z"/><path color="#e2d9e2" d="M185.9 298.2l.9 .1l8-3.7l-.9-.1zM265.3 300.1l.9 .1l15-7.4l-.9-.1z"/><path color="#dcd9df" d="M218.2 296.9l.9 1.8l9.7-4.6l-.9-1.5z"/><path color="#e2d9e2" d="M186.8 298.3l.9 .2l8-3.7l-.9-.2zM266.2 300.2l.9 .2l15-7.4l-.9-.2z"/><path color="#bbcad1" d="M212.6 291l1.1 5.5l9.6-6.9l-.8 .6z"/><path color="#e2d9e2" d="M332.3 301.1l2.8 .5l17.8-9.3l-2.8-.4zM187.7 298.5l.9 .1l8-3.7l-.9-.1z"/><path color="#dcd9df" d="M217.3 296.7l.9 .2l9.7-4.3l-.9-.6z"/><path color="#e2d9e2" d="M267.1 300.4l1 .1l14.9-7.4l-.9-.1z"/><path color="#dfd9e1" d="M220.9 298.3l1 .8l9.7-4.6l-1-.2z"/><path color="#e2d9e2" d="M268.1 300.5l.9 .2l14.9-7.4l-.9-.2zM221.9 299.1l.9 .2l9.7-4.7l-.9-.1zM188.6 298.6l.9-.3l8-3.2l-.9-.2z"/><path color="#cbd2d7" d="M219.1 298.7l.8-5l9.8 .5l-.9-.1z"/><path color="#e2d9e2" d="M269 300.7l.9 .1l15-7.4l-1-.1z"/><path color="#cbd2d7" d="M219.9 293.7l1 4.6l9.7-4l-.9-.1z"/><path color="#e2d9e2" d="M335.1 301.6l2.9 .4l17.7-9.2l-2.8-.5zM269.9 300.8l.9 .2l15-7.4l-.9-.2z"/><path color="#dfd9e1" d="M270.8 301l.9-.8l15-6.5l-.9-.1z"/><path color="#dcd9df" d="M224.6 299.6l.9-1.5l9.7-3l-.9-.2z"/><path color="#dfd9e1" d="M271.7 300.2l1 1.1l14.9-7.4l-.9-.2z"/><path color="#d1d5da" d="M222.8 299.3l.8-3.4l9.7-3.5l-.8 2.2z"/><path color="#e2d9e2" d="M338 302l2.8 .5l17.7-9.3l-2.8-.4zM272.7 301.3l.9-.1l14.9-7.2l-.9-.1z"/><path color="#d1d5da" d="M223.6 295.9l1 3.7l9.7-4.7l-1-2.5z"/><path color="#c2ced4" d="M189.5 298.3l.7-4.7l8.1-1.5l-.8 3z"/><path color="#dcd9df" d="M225.5 298.1l.9-.3l9.7-3.1l-.9 .4zM226.4 297.8l.9 2.2l9.7-4.9l-.9-.4z"/><path color="#dfd9e1" d="M227.3 300l.9-1.2l9.7-3.3l-.9-.4zM273.6 301.2l.9-1l14.9-6.9l-.9 .7z"/><path color="#e2d9e2" d="M340.8 302.5l2.9 .5l17.6-9.3l-2.8-.5z"/><path color="#dfd9e1" d="M228.2 298.8l.9 1.5l9.7-4.6l-.9-.2z"/><path color="#e2d9e2" d="M275.4 301.7l1 .1l14.9-7.3l-.9-.2z"/><path color="#dfd9e1" d="M274.5 300.2l.9 1.5l15-7.4l-1-1zM229.1 300.3l.9-.8l9.7-3.7l-.9-.1z"/><path color="#e2d9e2" d="M276.4 301.8l.9 .2l14.9-7.4l-.9-.1z"/><path color="#dfd9e1" d="M230 299.5l1 1.1l9.6-4.6l-.9-.2z"/><path color="#c2ced4" d="M190.2 293.6l1 1.9l8-1.4l-.9-2z"/><path color="#e2d9e2" d="M277.3 302l.9 .2l14.9-7.4l-.9-.2zM343.7 303l2.8 .4l17.7-9.3l-2.9-.4zM278.2 302.2l.9 .1l14.9-7.4l-.9-.1z"/><path color="#dfd9e1" d="M231 300.6l.8-1.1l9.7-3.6l-.9 .1z"/><path color="#b3c6ce" d="M194 299.5l.7-7.2l8.1 1.3l-.8 2.2z"/><path color="#c2ced4" d="M191.2 295.5l.8-2.2l8-1.8l-.8 2.6z"/><path color="#d1d5da" d="M195.7 296.2l1 1.2l8-1.6l-.9 .3z"/><path color="#e2d9e2" d="M279.1 302.3l1 .2l14.8-7.4l-.9-.2z"/><path color="#dfd9e1" d="M231.8 299.5l1 1.4l9.6-4.6l-.9-.4z"/><path color="#aac2cc" d="M192.9 294.3l1.1 5.2l8-3.7l-1.2-8.3z"/><path color="#e2d9e2" d="M280.1 302.5l.9 .2l14.9-7.5l-1-.1z"/><path color="#d6d7dd" d="M196.7 297.4l.9 1.5l7.9-5.7l-.8 2.6z"/><path color="#e2d9e2" d="M346.5 303.4l2.9 .5l17.6-9.3l-2.8-.5zM281 302.7l.9 .1l14.9-7.5l-.9-.1z"/><path color="#d1d5da" d="M232.8 300.9l.8-3.2l9.7-1.5l-.9 .1z"/><path color="#dfd9e1" d="M234.6 301.3l.9 .1l9.7-4.7l-1-1z"/><path color="#b3c6ce" d="M194.7 292.3l1 3.9l8.1-.1l-1-2.5z"/><path color="#e2d9e2" d="M281.9 302.8l.9 .2l14.9-7.5l-.9-.2zM235.5 301.4l.9 .2l9.7-4.7l-.9-.2z"/><path color="#d1d5da" d="M233.6 297.7l1 3.6l9.6-5.6l-.9 .5z"/><path color="#e2d9e2" d="M282.8 303l1 .1l14.8-7.5l-.9-.1zM236.4 301.6l1 .1l9.6-4.7l-.9-.1z"/><path color="#cbd2d7" d="M198.4 295.9l1.1 4.5l7.9-3.7l-1.1-5.3z"/><path color="#c2ced4" d="M199.5 300.4l.7-5.6l8-.6l-.8 2.5z"/><path color="#e2d9e2" d="M349.4 303.9l2.8 .5l17.6-9.4l-2.8-.4zM283.8 303.1l.9 .2l14.8-7.5l-.9-.2zM237.4 301.7l.9 .2l9.6-4.7l-.9-.2z"/><path color="#aac2cc" d="M192 293.3l.9 1l7.9-6.8l-.8 4z"/><path color="#cbd2d7" d="M201.1 295.5l1.1 4.4l7.9-2.7l-.9-.9z"/><path color="#e2d9e2" d="M284.7 303.3l.9 .1l14.9-7.5l-1-.1zM238.3 301.9l.9 .1l9.6-4.7l-.9-.1z"/><path color="#c2ced4" d="M197.6 298.9l.8-3l7.9-4.5l-.8 1.8z"/><path color="#e2d9e2" d="M179.9 301l.9 .1l6-2.8l-.9-.1zM285.6 303.4l.9 .2l14.8-7.5l-.8-.2zM239.2 302l.9 .2l9.6-4.7l-.9-.2zM180.8 301.1l.9 .1l6-2.7l-.9-.2zM206.7 301.7l.9 .1l7.9-3.7l-.9-.2z"/><path color="#c2ced4" d="M202.2 299.9l.7-4.4l8-.2l-.8 1.9z"/><path color="#e2d9e2" d="M352.2 304.4l2.9 .4l17.6-9.3l-2.9-.5zM240.1 302.2l.9 .1l9.6-4.7l-.9-.1zM181.7 301.2l.9 .2l6-2.8l-.9-.1z"/><path color="#dcd9df" d="M205.7 299.5l1 2.2l7.9-3.8l-.9-1.4z"/><path color="#e2d9e2" d="M286.5 303.6l2.8 .4l14.8-7.5l-2.8-.4z"/><path color="#c2ced4" d="M202.9 295.5l1.1 5.7l7.9-4.9l-1-1z"/><path color="#e2d9e2" d="M241 302.3l.9 .2l9.6-4.7l-.9-.2z"/><path color="#dfd9e1" d="M207.6 301.8l.9-.4l7.9-3.2l-.9-.1z"/><path color="#c2ced4" d="M200.2 294.8l.9 .7l8.1 .8l-1-2.1z"/><path color="#e2d9e2" d="M241.9 302.5l1 .1l9.6-4.7l-1-.1zM355.1 304.8l2.9 .5l17.5-9.4l-2.8-.4zM242.9 302.6l.9 .2l9.6-4.7l-.9-.2z"/><path color="#bbcad1" d="M204 301.2l.8-3.8l7.8-6.4l-.7 5.3z"/><path color="#e2d9e2" d="M289.3 304l2.8 .5l14.8-7.5l-2.8-.5zM243.8 302.8l.9 .1l9.6-4.6l-.9-.2z"/><path color="#d1d5da" d="M182.6 301.4l.7-4l6.2 .9l-.9 .3z"/><path color="#e2d9e2" d="M244.7 302.9l.9 .2l9.6-4.7l-.9-.1z"/><path color="#bbcad1" d="M204.8 297.4l.9 2.1l8-3l-1.1-5.5z"/><path color="#e2d9e2" d="M245.6 303.1l.9 .1l9.6-4.6l-.9-.2zM358 305.3l2.8 .5l17.6-9.4l-2.9-.5z"/><path color="#cbd2d7" d="M208.5 301.4l.8-4.3l8-.4l-.9 1.5z"/><path color="#d6d7dd" d="M210.3 299.2l1 3.2l7.8-3.7l-.9-1.8z"/><path color="#e2d9e2" d="M292.1 304.5l2.8 .5l14.8-7.5l-2.8-.5zM246.5 303.2l1 .2l9.5-4.7l-.9-.1zM247.5 303.4l.9 .1l9.6-4.6l-1-.2z"/><path color="#dcd9df" d="M214 302.9l.9-1.9l7.9-1.7l-.9-.2z"/><path color="#e2d9e2" d="M360.8 305.8l2.9 .4l17.5-9.4l-2.8-.4zM248.4 303.5l.9-.2l9.6-4.5l-.9 .1z"/><path color="#d1d5da" d="M213 299l1 3.9l7.9-3.8l-1-.8z"/><path color="#cbd2d7" d="M209.3 297.1l1 2.1l7.9-2.3l-.9-.2z"/><path color="#e2d9e2" d="M294.9 305l2.9 .4l14.7-7.5l-2.8-.4zM249.3 303.3l.9 .6l9.6-4.7l-.9-.4z"/><path color="#dcd9df" d="M216.7 303.2l1 .3l7.8-5.4l-.9 1.5z"/><path color="#dfd9e1" d="M250.2 303.9l.9 0l9.6-5.8l-.9 1.1z"/><path color="#e2d9e2" d="M363.7 306.2l2.9 .5l17.5-9.4l-2.9-.5z"/><path color="#dfd9e1" d="M251.1 303.9l1 .3l9.5-4.8l-.9-1.3z"/><path color="#e2d9e2" d="M297.8 305.4l2.8 .5l14.7-7.5l-2.8-.5zM252.1 304.2l.9 .1l9.5-4.7l-.9-.2z"/><path color="#aac2cc" d="M211.3 302.4l.6-8.8l8 .1l-.8 5z"/><path color="#e2d9e2" d="M175.9 302.9l.9 .1l4-1.9l-.9-.1z"/><path color="#d1d5da" d="M189.8 302.1l.9-.5l6-4.2l-1-1.2z"/><path color="#d6d7dd" d="M190.7 301.6l.9-.7l6-2l-.9-1.5z"/><path color="#e2d9e2" d="M176.8 303l.9 .2l4-2l-.9-.1zM366.6 306.7l2.2 .4l17.5-9.4l-2.2-.4z"/><path color="#93b4c6" d="M183.3 297.4l.6-7.2l6.3 3.4l-.7 4.7z"/><path color="#c2ced4" d="M185.1 296.9l1 1.4l5.9-5l-.8 2.2z"/><path color="#dfd9e1" d="M253 304.3l.9-.8l9.6-4.6l-1 .7z"/><path color="#d6d7dd" d="M217.7 303.5l.8-2.8l7.9-2.9l-.9 .3z"/><path color="#e2d9e2" d="M177.7 303.2l.9 .1l4-1.9l-.9-.2zM254.8 304.6l1 .2l9.5-4.7l-.9-.2zM300.6 305.9l2.8 .5l14.7-7.6l-2.8-.4z"/><path color="#dfd9e1" d="M253.9 303.5l.9 1.1l9.6-4.7l-.9-1z"/><path color="#aac2cc" d="M211.9 293.6l1.1 5.4l7.9-.7l-1-4.6zM215.6 294.9l1.1 8.3l7.9-3.6l-1-3.7z"/><path color="#d6d7dd" d="M218.5 300.7l.9 1.1l7.9-1.8l-.9-2.2z"/><path color="#aac2cc" d="M214.9 301l.7-6.1l8 1l-.8 3.4z"/><path color="#dcd9df" d="M219.4 301.8l.9 .2l7.9-3.2l-.9 1.2z"/><path color="#e2d9e2" d="M255.8 304.8l.9 .1l9.5-4.7l-.9-.1z"/><path color="#dcd9df" d="M220.3 302l1 1.5l7.8-3.2l-.9-1.5z"/><path color="#dfd9e1" d="M221.3 303.5l.9-.3l7.8-3.7l-.9 .8z"/><path color="#93b4c6" d="M186.7 291l1.2 8.3l6.1 .2l-1.1-5.2z"/><path color="#dfd9e1" d="M222.2 303.2l.9 1.1l7.9-3.7l-1-1.1z"/><path color="#e2d9e2" d="M256.7 304.9l.9 .2l9.5-4.7l-.9-.2z"/><path color="#93b4c6" d="M183.9 290.2l1.2 6.7l6.1-1.4l-1-1.9z"/><path color="#c2ced4" d="M193.5 303.3l.8-3.2l5.9-5.3l-.7 5.6z"/><path color="#e2d9e2" d="M257.6 305.1l.9 .1l9.6-4.7l-1-.1zM303.4 306.4l2.9 .4l14.7-7.5l-2.9-.5z"/><path color="#a3beca" d="M187.9 299.3l.6-6.7l6.2-.3l-.7 7.2z"/><path color="#e2d9e2" d="M258.5 305.2l1 .2l9.5-4.7l-.9-.2z"/><path color="#aac2cc" d="M192.2 294.4l1.3 8.9l6-2.9l-1.1-4.5z"/><path color="#cbd2d7" d="M195.2 301.3l1 2.1l6-3.5l-1.1-4.4z"/><path color="#93b4c6" d="M186.1 298.3l.6-7.3l6.2 3.3l-.9-1z"/><path color="#a3beca" d="M188.5 292.6l1.3 9.5l5.9-5.9l-1-3.9z"/><path color="#aac2cc" d="M191.6 300.9l.6-6.5l6.2 1.5l-.8 3z"/><path color="#e2d9e2" d="M259.5 305.4l.9 .1l9.5-4.7l-.9-.1zM200.8 304.4l.9 .2l5.9-2.8l-.9-.1z"/><path color="#cbd2d7" d="M223.1 304.3l.8-4.8l7.9 0l-.8 1.1z"/><path color="#e2d9e2" d="M306.3 306.8l2.8 .5l14.7-7.6l-2.8-.4z"/><path color="#cbd2d7" d="M223.9 299.5l1.1 5.2l7.8-3.8l-1-1.4z"/><path color="#e2d9e2" d="M227.7 305.2l.9 .1l7.8-3.7l-.9-.2z"/><path color="#c2ced4" d="M178.6 303.3l.6-5.8l4.1-.1l-.7 4z"/><path color="#dcd9df" d="M226.8 303.3l.9 1.9l7.8-3.8l-.9-.1z"/><path color="#d1d5da" d="M225 304.7l.9-1.6l7.7-5.4l-.8 3.2z"/><path color="#dfd9e1" d="M201.7 304.6l.9-.1l5.9-3.1l-.9 .4z"/><path color="#c2ced4" d="M196.2 303.4l.7-4.5l6-3.4l-.7 4.4z"/><path color="#dfd9e1" d="M228.6 305.3l1-.3l7.8-3.3l-1-.1z"/><path color="#c2ced4" d="M194.3 300.1l.9 1.2l5.9-5.8l-.9-.7z"/><path color="#cbd2d7" d="M199.7 299.3l1.1 5.1l5.9-2.7l-1-2.2zM260.4 305.5l.9-4.5l9.5 0l-.9-.2z"/><path color="#d1d5da" d="M225.9 303.1l.9 .2l7.8-2l-1-3.6zM197.9 301l.9-1l6-2.6l-.8 3.8z"/><path color="#dfd9e1" d="M262.2 305.9l1-.7l9.5-3.9l-1-1.1z"/><path color="#e2d9e2" d="M309.1 307.3l2.9 .5l14.6-7.6l-2.8-.5z"/><path color="#c2ced4" d="M196.9 298.9l1 2.1l6.1 .2l-1.1-5.7z"/><path color="#dfd9e1" d="M229.6 305l.9 0l7.8-3.1l-.9-.2zM230.5 305l.9 .8l7.8-3.8l-.9-.1z"/><path color="#cbd2d7" d="M261.3 301l.9 4.9l9.5-5.7l-.9 .8z"/><path color="#dfd9e1" d="M171.8 304.7l.9-.7l4.1-1l-.9-.1z"/><path color="#e2d9e2" d="M231.4 305.8l.9 .2l7.8-3.8l-.9-.2z"/><path color="#dcd9df" d="M263.2 305.2l.9-1.4l9.5-2.6l-.9 .1z"/><path color="#d6d7dd" d="M204.4 304.8l.9 .5l6-2.9l-1-3.2z"/><path color="#cbd2d7" d="M202.6 304.5l.9-.7l5.8-6.7l-.8 4.3z"/><path color="#e2d9e2" d="M232.3 306l.9 .1l7.8-3.8l-.9-.1zM265.9 306.5l1 .1l9.5-4.8l-1-.1zM312 307.8l2.8 .4l14.6-7.5l-2.8-.5z"/><path color="#cbd2d7" d="M198.8 300l.9-.7l6 .2l-.9-2.1z"/><path color="#dcd9df" d="M265 304.8l.9 1.7l9.5-4.8l-.9-1.5z"/><path color="#d6d7dd" d="M172.7 304l.8-1.4l4.2 .6l-.9-.2z"/><path color="#e2d9e2" d="M266.9 306.6l.9 .2l9.5-4.8l-.9-.2z"/><path color="#dfd9e1" d="M233.2 306.1l.9-.7l7.8-2.9l-.9-.2z"/><path color="#d6d7dd" d="M264.1 303.8l.9 1l9.5-4.6l-.9 1zM173.5 302.6l1 2.4l4.1-1.7l-.9-.1z"/><path color="#cbd2d7" d="M203.5 303.8l.9 1l5.9-5.6l-1-2.1z"/><path color="#e2d9e2" d="M267.8 306.8l.9 .1l9.5-4.7l-.9-.2z"/><path color="#dfd9e1" d="M234.1 305.4l1 1l7.8-3.8l-1-.1z"/><path color="#c2ced4" d="M185.7 302l.8-2.7l4.2 2.3l-.9 .5z"/><path color="#e2d9e2" d="M235.1 306.4l.9 .2l7.8-3.8l-.9-.2zM268.7 306.9l1 .2l9.4-4.8l-.9-.1zM314.8 308.2l2.9 .5l14.6-7.6l-2.9-.4zM236 306.6l.9 .1l7.8-3.8l-.9-.1zM269.7 307.1l.9 .1l9.5-4.7l-1-.2z"/><path color="#c2ced4" d="M186.5 299.3l1 3.3l4.1-1.7l-.9 .7z"/><path color="#d1d5da" d="M207.1 303.1l.9 1.7l6-1.9l-1-3.9z"/><path color="#d6d7dd" d="M208 304.8l.9-1.4l6-2.4l-.9 1.9z"/><path color="#e2d9e2" d="M270.6 307.2l.9 .2l9.5-4.7l-.9-.2z"/><path color="#dfd9e1" d="M210.8 305.9l.9-1l6-1.4l-1-.3z"/><path color="#e2d9e2" d="M271.5 307.4l.9 .2l9.5-4.8l-.9-.1z"/><path color="#dcd9df" d="M236.9 306.7l.9-2.2l7.8-1.4l-.9-.2z"/><path color="#e2d9e2" d="M317.7 308.7l2.8 .5l14.6-7.6l-2.8-.5z"/><path color="#93b4c6" d="M181.1 299.2l.6-7l4.4 6.1l-1-1.4z"/><path color="#e2d9e2" d="M272.4 307.6l1 .1l9.4-4.7l-.9-.2z"/><path color="#a3beca" d="M184.6 298.1l1.1 3.9l4.1 .1l-1.3-9.5z"/><path color="#e2d9e2" d="M238.8 306.8l.9 0l7.8-3.4l-1-.2z"/><path color="#dcd9df" d="M237.8 304.5l1 2.3l7.7-3.6l-.9-.1z"/><path color="#a3beca" d="M183.9 302.2l.7-4.1l3.9-5.5l-.6 6.7z"/><path color="#e2d9e2" d="M273.4 307.7l.9 .2l9.5-4.8l-1-.1z"/><path color="#93b4c6" d="M182.8 296.2l1.1 6l4-2.9l-1.2-8.3zM179.2 297.5l.7-3.9l4-3.4l-.6 7.2z"/><path color="#9ab8c8" d="M189.5 305.2l.4-10.3l4.4 5.2l-.8 3.2z"/><path color="#e2d9e2" d="M196.7 306l1 .5l4-1.9l-.9-.2zM274.3 307.9l.9 .1l9.5-4.7l-.9-.2z"/><path color="#cbd2d7" d="M192.2 305.6l.8-3.5l3.9-3.2l-.7 4.5z"/><path color="#93b4c6" d="M179.9 293.6l1.2 5.6l4-2.3l-1.2-6.7z"/><path color="#e2d9e2" d="M320.5 309.2l2.9 .5l14.6-7.7l-2.9-.4z"/><path color="#aac2cc" d="M190.9 296.6l1.3 9l4-2.2l-1-2.1z"/><path color="#dfd9e1" d="M168.5 306.3l.9 .1l3.3-2.4l-.9 .7z"/><path color="#aac2cc" d="M188.2 296.5l1.3 8.7l4-1.9l-1.3-8.9z"/><path color="#e2d9e2" d="M197.7 306.5l.9 .2l4-2.2l-.9 .1z"/><path color="#d6d7dd" d="M239.7 306.8l.9-2.8l7.8-.5l-.9-.1z"/><path color="#e2d9e2" d="M275.2 308l1 .2l9.4-4.8l-.9-.1zM276.2 308.2l.8 .1l9.5-4.7l-.9-.2z"/><path color="#8db0c5" d="M205.3 305.3l.5-12.5l6.1 .8l-.6 8.8z"/><path color="#dcd9df" d="M213.5 306l.9-.8l5.9-3.2l-.9-.2z"/><path color="#aac2cc" d="M187.5 302.6l.7-6.1l4-2.1l-.6 6.5z"/><path color="#bbcad1" d="M211.7 304.9l.7-5.2l6.1 1l-.8 2.8z"/><path color="#e2d9e2" d="M323.4 309.7l2.9 .4l14.5-7.6l-2.8-.5z"/><path color="#d1d5da" d="M241.5 303.4l1 4.3l7.7-3.8l-.9-.6z"/><path color="#86aac4" d="M174.5 305l.3-12.8l4.4 5.3l-.6 5.8z"/><path color="#aac2cc" d="M209.7 298.9l1.1 7l5.9-2.7l-1.1-8.3z"/><path color="#e2d9e2" d="M277 308.3l2.9 .5l9.4-4.8l-2.8-.4z"/><path color="#8db0c5" d="M181.7 292.2l1.1 4l3.9-5.2l-.6 7.3z"/><path color="#dfd9e1" d="M244.3 307.3l.9 .8l7.8-3.8l-.9-.1z"/><path color="#d1d5da" d="M242.5 307.7l.8-3.9l7.8 .1l-.9 0z"/><path color="#cbd2d7" d="M195.7 302.4l1 3.6l4.1-1.6l-1.1-5.1z"/><path color="#d1d5da" d="M240.6 304l.9-.6l7.8-.1l-.9 .2z"/><path color="#bbcad1" d="M212.4 299.7l1.1 6.3l5.9-4.2l-.9-1.1z"/><path color="#cbd2d7" d="M214.4 305.2l.8-3.4l6.1 1.7l-1-1.5z"/><path color="#aac2cc" d="M208.9 303.4l.8-4.5l5.9-4l-.7 6.1z"/><path color="#dcd9df" d="M219.1 307.6l.9 .1l5.9-4.6l-.9 1.6z"/><path color="#d1d5da" d="M243.3 303.8l1 3.5l7.8-3.1l-1-.3z"/><path color="#cbd2d7" d="M169.4 306.4l.7-4.2l3.4 .4l-.8 1.4z"/><path color="#c2ced4" d="M198.6 306.7l.7-5.6l4.2 2.7l-.9 .7z"/><path color="#e2d9e2" d="M326.3 310.1l2.8 .5l14.6-7.6l-2.9-.5z"/><path color="#cbd2d7" d="M170.1 302.2l1.2 4.5l3.2-1.7l-1-2.4z"/><path color="#8db0c5" d="M205.8 292.8l1.3 10.3l5.9-4.1l-1.1-5.4z"/><path color="#b3c6ce" d="M216.1 298.9l1.1 8.4l5.9-3l-.9-1.1zM193 302.1l.7-3.6l4.2 2.5l-1-2.1z"/><path color="#e2d9e2" d="M279.9 308.8l2.8 .5l9.4-4.8l-2.8-.5z"/><path color="#d6d7dd" d="M245.2 308.1l.9-2.8l7.8-1.8l-.9 .8z"/><path color="#dfd9e1" d="M247.1 308.4l.9-.5l7.8-3.1l-1-.2z"/><path color="#e2d9e2" d="M221.8 308l.9 .2l5.9-2.9l-.9-.1z"/><path color="#9ab8c8" d="M189.9 294.9l1 1.7l4.3 4.7l-.9-1.2z"/><path color="#dcd9df" d="M220.9 307.5l.9 .5l5.9-2.8l-.9-1.9zM220 307.7l.9-.2l5.9-4.2l-.9-.2z"/><path color="#bbcad1" d="M200.2 300.6l1.1 6.5l4-1.8l-.9-.5z"/><path color="#c2ced4" d="M181.6 303.3l1 .7l3.9-4.7l-.8 2.7z"/><path color="#d6d7dd" d="M246.1 305.3l1 3.1l7.7-3.8l-.9-1.1z"/><path color="#dfd9e1" d="M222.7 308.2l1 .2l5.9-3.4l-1 .3zM248 307.9l.9 0l7.8-3l-.9-.1z"/><path color="#aac2cc" d="M215.2 301.8l.9-2.9l6.1 4.3l-.9 .3z"/><path color="#b3c6ce" d="M193.7 298.5l1 .8l4.1 .7l-.9 1z"/><path color="#e2d9e2" d="M329.1 310.6l2.9 .5l14.5-7.7l-2.8-.4z"/><path color="#bbcad1" d="M194.7 299.3l1 3.1l4-3.1l-.9 .7z"/><path color="#dfd9e1" d="M248.9 307.9l1 .2l7.7-3l-.9-.2z"/><path color="#c2ced4" d="M182.6 304l.8-2.1l4.1 .7l-1-3.3z"/><path color="#e2d9e2" d="M282.7 309.3l2.8 .4l9.4-4.7l-2.8-.5z"/><path color="#dfd9e1" d="M223.7 308.4l.9 .1l5.9-3.5l-.9 0z"/><path color="#b3c6ce" d="M217.2 307.3l.7-7.8l6 0l-.8 4.8z"/><path color="#dcd9df" d="M166 305.9l.9 .8l2.5-.3l-.9-.1z"/><path color="#dfd9e1" d="M249.9 308.1l.9 1l7.7-3.9l-.9-.1z"/><path color="#bbcad1" d="M199.3 301.1l.9-.5l4.2 4.2l-.9-1z"/><path color="#e2d9e2" d="M250.8 309.1l.9 .1l7.8-3.8l-1-.2z"/><path color="#b3c6ce" d="M217.9 299.5l1.2 8.1l5.9-2.9l-1.1-5.2z"/><path color="#e2d9e2" d="M251.7 309.2l1 .2l7.7-3.9l-.9-.1zM332 311.1l2.9 .4l14.5-7.6l-2.9-.5z"/><path color="#d6d7dd" d="M224.6 308.5l.8-2.7l6 0l-.9-.8z"/><path color="#e2d9e2" d="M285.5 309.7l2.9 .5l9.4-4.8l-2.9-.4z"/><path color="#cbd2d7" d="M203.9 303.1l1 3.1l4-2.8l-.9 1.4z"/><path color="#d6d7dd" d="M225.4 305.8l1 2.1l5.9-1.9l-.9-.2z"/><path color="#dfd9e1" d="M226.4 307.9l.9-.1l5.9-1.7l-.9-.1z"/><path color="#cbd2d7" d="M203 303.4l.9-.3l4.1 1.7l-.9-1.7zM166.9 306.7l.9-.8l2.3-3.7l-.7 4.2z"/><path color="#86aac4" d="M180.2 292.6l1.4 10.7l4.1-1.3l-1.1-3.9zM171.3 306.7l.6-5.1l2.9-9.4l-.3 12.8z"/><path color="#dfd9e1" d="M227.3 307.8l1 1.3l5.8-3.7l-.9 .7z"/><path color="#cbd2d7" d="M167.8 305.9l1 1.7l2.5-.9l-1.2-4.5z"/><path color="#c2ced4" d="M188 303.7l.8-1.7l4.2 .1l-.8 3.5z"/><path color="#dfd9e1" d="M228.3 309.1l.9 .2l5.9-2.9l-1-1z"/><path color="#d6d7dd" d="M193.6 308.5l.8-3l4.2 1.2l-.9-.2z"/><path color="#8db0c5" d="M176.7 294.8l1.1 4l3.9-6.6l-.6 7z"/><path color="#cbd2d7" d="M206.6 303l1.1 4.3l4-2.4l-.9 1z"/><path color="#e2d9e2" d="M229.2 309.3l.9 .1l5.9-2.8l-.9-.2z"/><path color="#cbd2d7" d="M192.5 303.1l1.1 5.4l4.1-2l-1-.5z"/><path color="#e2d9e2" d="M334.9 311.5l2.9 .5l14.4-7.6l-2.8-.5z"/><path color="#9ab8c8" d="M185.4 306.1l.5-7.7l4-3.5l-.4 10.3z"/><path color="#e2d9e2" d="M288.4 310.2l2.8 .5l9.4-4.8l-2.8-.5z"/><path color="#dfd9e1" d="M230.1 309.4l.9-.6l5.9-2.1l-.9-.1z"/><path color="#86aac4" d="M179.5 296l.7-3.4l4.4 5.5l-.7 4.1z"/><path color="#aac2cc" d="M187 301.1l1 2.6l4.2 1.9l-1.3-9z"/><path color="#7ba1c2" d="M175.6 290.7l1.1 4.1l4.4 4.4l-1.2-5.6z"/><path color="#d6d7dd" d="M254.5 306.4l.9 2.1l7.8-3.3l-1 .7z"/><path color="#cbd2d7" d="M252.7 309.4l.9-4.3l7.7-4.1l-.9 4.5z"/><path color="#e2d9e2" d="M337.8 312l2.9 .5l14.4-7.7l-2.9-.4z"/><path color="#7ba1c2" d="M174.8 292.2l.8-1.5l4.3 2.9l-.7 3.9z"/><path color="#d6d7dd" d="M255.4 308.5l1 .7l7.7-5.4l-.9 1.4z"/><path color="#e2d9e2" d="M291.2 310.7l2.9 .5l9.3-4.8l-2.8-.5z"/><path color="#cbd2d7" d="M209.5 306.4l.8-2.8l4.1 1.6l-.9 .8z"/><path color="#b3c6ce" d="M204.9 306.2l.8-5.2l4-2.1l-.8 4.5z"/><path color="#dcd9df" d="M257.3 310.1l.9-1.1l7.7-2.5l-.9-1.7z"/><path color="#d6d7dd" d="M256.4 309.2l.9 .9l7.7-5.3l-.9-1z"/><path color="#e2d9e2" d="M232.9 309.9l.9 .1l5.9-3.2l-.9 0z"/><path color="#b3c6ce" d="M188.8 302l1 2.3l3.9-5.8l-.7 3.6z"/><path color="#d6d7dd" d="M231 308.8l.9-.3l5.9-4l-.9 2.2z"/><path color="#c2ced4" d="M191.6 302.3l.9 .8l4.2 2.9l-1-3.6z"/><path color="#dfd9e1" d="M258.2 309l1 .4l7.7-2.8l-1-.1zM215.1 309.5l.9-.9l4-.9l-.9-.1z"/><path color="#6786be" d="M183.6 286.6l1.8 19.5l4.1-.9l-1.3-8.7z"/><path color="#d6d7dd" d="M165.7 306.1l1 2.4l2.1-.9l-1-1.7z"/><path color="#dcd9df" d="M231.9 308.5l1 1.4l5.9-3.1l-1-2.3z"/><path color="#bbcad1" d="M164 308.4l.6-6.6l2.3 4.9l-.9-.8z"/><path color="#cbd2d7" d="M253.6 305.1l.9 1.3l7.7-.5l-.9-4.9z"/><path color="#dfd9e1" d="M259.2 309.4l.9 .1l7.7-2.7l-.9-.2z"/><path color="#b3c6ce" d="M205.7 301l.9 2l4.2 2.9l-1.1-7z"/><path color="#dfd9e1" d="M260.1 309.5l.9 1.3l7.7-3.9l-.9-.1z"/><path color="#7ba1c2" d="M201.3 307.1l.4-15.6l4.1 1.3l-.5 12.5z"/><path color="#e2d9e2" d="M340.7 312.5l2.9 .5l14.4-7.7l-2.9-.5zM261 310.8l1 .1l7.7-3.8l-1-.2zM294.1 311.2l2.8 .4l9.4-4.8l-2.9-.4zM262 310.9l.9 .2l7.7-3.9l-.9-.1z"/><path color="#6786be" d="M183.4 301.9l.2-15.3l4.6 9.9l-.7 6.1z"/><path color="#9ab8c8" d="M207.7 307.3l.6-9.3l4.1 1.7l-.7 5.2z"/><path color="#dfd9e1" d="M217.9 310l.9-.8l3.9-1l-.9-.2z"/><path color="#d6d7dd" d="M233.8 310l.9-1.5l5.9-4.5l-.9 2.8z"/><path color="#80a5c3" d="M168.8 307.6l.1-14.1l3 8.1l-.6 5.1z"/><path color="#bbcad1" d="M164.6 301.8l1.1 4.3l2.1-.2l-.9 .8z"/><path color="#c2ced4" d="M210.3 303.6l1 2l3.9-3.8l-.8 3.4z"/><path color="#e2d9e2" d="M262.9 311.1l.9 .1l7.7-3.8l-.9-.2z"/><path color="#5f62b4" d="M177.8 280l1.7 16l4.4 6.2l-1.1-6z"/><path color="#b3c6ce" d="M212.2 306.3l1 1.2l4-.2l-1.1-8.4z"/><path color="#aac2cc" d="M182.1 307.8l.8-3.8l3-5.6l-.5 7.7z"/><path color="#bbcad1" d="M196.3 306.1l.8-1.8l4.2 2.8l-1.1-6.5z"/><path color="#cbd2d7" d="M216 308.6l.8-3.7l4.1 2.6l-.9 .2z"/><path color="#9ab8c8" d="M208.3 298l1.2 8.4l4-.4l-1.1-6.3z"/><path color="#e2d9e2" d="M343.6 313l2.9 .5l14.3-7.7l-2.8-.5z"/><path color="#cbd2d7" d="M216.8 304.9l1.1 5.1l3.9-2l-.9-.5z"/><path color="#e2d9e2" d="M296.9 311.6l2.9 .5l9.3-4.8l-2.8-.5z"/><path color="#dcd9df" d="M218.8 309.2l.9-.4l4-.4l-1-.2z"/><path color="#9ab8c8" d="M185.9 298.4l1.1 2.7l3.9-4.5l-1-1.7z"/><path color="#dcd9df" d="M263.8 311.2l1-1.4l7.6-2.2l-.9-.2z"/><path color="#b3c6ce" d="M213.2 307.5l.8-2.2l3.9-5.8l-.7 7.8zM214 305.3l1.1 4.2l4-1.9l-1.2-8.1z"/><path color="#769bc1" d="M201.7 291.5l1.3 11.9l4.1-.3l-1.3-10.3z"/><path color="#dcd9df" d="M264.8 309.8l.9 1.8l7.7-3.9l-1-.1z"/><path color="#e2d9e2" d="M265.7 311.6l1 0l7.6-3.7l-.9-.2z"/><path color="#5f62b4" d="M177.8 298.8l0-18.8l5 16.2l-1.1-4z"/><path color="#aac2cc" d="M211.3 305.6l.9 .7l3.9-7.4l-.9 2.9z"/><path color="#86aac4" d="M194.4 305.5l.5-10.5l4.4 6.1l-.7 5.6zM189.8 304.3l.5-9.7l4.4 4.7l-1-.8z"/><path color="#e2d9e2" d="M346.5 313.5l2.9 .4l14.3-7.7l-2.9-.4z"/><path color="#d1d5da" d="M235.6 306.9l1 2.3l5.9-1.5l-1-4.3z"/><path color="#86aac4" d="M190.3 294.6l1.3 7.7l4.1 .1l-1-3.1z"/><path color="#cbd2d7" d="M200 306.8l.8-1.4l4.1 .8l-1-3.1z"/><path color="#d1d5da" d="M164 306.1l1 1.8l1.7 .6l-1-2.4z"/><path color="#e2d9e2" d="M266.7 311.6l.9 .3l7.6-3.9l-.9-.1z"/><path color="#d1d5da" d="M238.4 306.8l1 4.2l5.8-2.9l-.9-.8z"/><path color="#cbd2d7" d="M199 305.4l1 1.4l3.9-3.7l-.9 .3z"/><path color="#9ab8c8" d="M178.9 297.8l1 .9l3.5 3.2l-.8 2.1z"/><path color="#e2d9e2" d="M299.8 312.1l2.8 .5l9.4-4.8l-2.9-.5z"/><path color="#d6d7dd" d="M239.4 311l.9 0l5.8-5.7l-.9 2.8zM190.4 309l.8-1.7l3.2-1.8l-.8 3z"/><path color="#cbd2d7" d="M219.7 308.8l.8-3.1l4.1 2.8l-.9-.1z"/><path color="#e2d9e2" d="M267.6 311.9l.9 .1l7.7-3.8l-1-.2z"/><path color="#d1d5da" d="M234.7 308.5l.9-1.6l5.9-3.5l-.9 .6z"/><path color="#d6d7dd" d="M240.3 311l.9 .3l5.9-2.9l-1-3.1z"/><path color="#bbcad1" d="M162.2 305.8l.8-.6l1.6-3.4l-.6 6.6z"/><path color="#e2d9e2" d="M268.5 312l.9 .2l7.6-3.9l-.8-.1z"/><path color="#c2ced4" d="M236.6 309.2l.8-4.2l5.9-1.2l-.8 3.9z"/><path color="#e2d9e2" d="M349.4 313.9l2.9 .5l14.3-7.7l-2.9-.5z"/><path color="#dfd9e1" d="M224.3 310.6l.9-.4l4-.9l-.9-.2z"/><path color="#bbcad1" d="M184.7 303.5l.8-1l3.3-.5l-.8 1.7z"/><path color="#d1d5da" d="M241.2 311.3l.9-3.7l5.9 .3l-.9 .5z"/><path color="#e2d9e2" d="M302.6 312.6l2.9 .5l9.3-4.9l-2.8-.4z"/><path color="#d1d5da" d="M221.4 306.4l1.1 4.3l3.9-2.8l-1-2.1z"/><path color="#6d90c0" d="M177.6 289.2l1.3 8.6l3.7 6.2l-1-.7z"/><path color="#e2d9e2" d="M269.4 312.2l2.8 .4l7.7-3.8l-2.9-.5z"/><path color="#86aac4" d="M194.9 295l1.4 11.1l3.9-5.5l-.9 .5z"/><path color="#bbcad1" d="M163 305.2l1 .9l1.7 0l-1.1-4.3z"/><path color="#c2ced4" d="M222.5 310.7l.8-5.2l4 2.3l-.9 .1z"/><path color="#dcd9df" d="M225.2 310.2l.9-.3l4-.5l-.9-.1z"/><path color="#e2d9e2" d="M245 311.9l.9 .2l5.8-2.9l-.9-.1z"/><path color="#cbd2d7" d="M220.5 305.7l.9 .7l4-.6l-.8 2.7z"/><path color="#6786be" d="M180.8 298.7l1.3 9.1l3.3-1.7l-1.8-19.5z"/><path color="#c2ced4" d="M237.4 305l1 1.8l5.9 .5l-1-3.5z"/><path color="#d1d5da" d="M242.1 307.6l1 3.6l5.8-3.3l-.9 0z"/><path color="#93b4c6" d="M183.5 297.8l1.2 5.7l3.3 .2l-1-2.6z"/><path color="#c2ced4" d="M223.3 305.5l1 5.1l4-1.5l-1-1.3z"/><path color="#9ab8c8" d="M189 299.1l1.4 9.9l3.2-.5l-1.1-5.4z"/><path color="#e2d9e2" d="M352.3 314.4l2.2 .4l14.3-7.7l-2.2-.4z"/><path color="#d1d5da" d="M160.6 307.6l.9-.3l1.5-2.1l-.8 .6z"/><path color="#d6d7dd" d="M243.1 311.2l.9-2.5l5.9-.6l-1-.2z"/><path color="#e2d9e2" d="M245.9 312.1l.9-.3l5.9-2.4l-1-.2z"/><path color="#d6d7dd" d="M244 308.7l1 3.2l5.8-2.8l-.9-1z"/><path color="#bbcad1" d="M202.6 303.1l.9 1.4l4.2 2.8l-1.1-4.3z"/><path color="#a3beca" d="M185.5 302.5l.8-2.7l3.5 4.5l-1-2.3z"/><path color="#80a5c3" d="M176.3 300.2l.8-3.8l3.1-3.8l-.7 3.4z"/><path color="#e2d9e2" d="M305.5 313.1l2.9 .4l9.3-4.8l-2.9-.5z"/><path color="#93b4c6" d="M182.9 304l.6-6.2l3.5 3.3l-1.1-2.7z"/><path color="#dcd9df" d="M226.1 309.9l.9-.6l4-.5l-.9 .6z"/><path color="#e2d9e2" d="M272.2 312.6l2.9 .5l7.6-3.8l-2.8-.5z"/><path color="#cbd2d7" d="M193 307.3l.9 0l3.2-3l-.8 1.8z"/><path color="#dfd9e1" d="M228.9 311.8l1-1l3.9-.8l-.9-.1zM213.9 311.9l.9 .2l4-2.9l-.9 .8z"/><path color="#dcd9df" d="M228 309.8l.9 2l4-1.9l-1-1.4z"/><path color="#d6d7dd" d="M158.9 308.7l1 1.1l1.6-2.5l-.9 .3z"/><path color="#dcd9df" d="M227 309.3l1 .5l3.9-1.3l-.9 .3z"/><path color="#bbcad1" d="M161.5 307.3l.7-3.6l1.8 2.4l-1-.9z"/><path color="#e2d9e2" d="M308.4 313.5l2.9 .5l9.2-4.8l-2.8-.5z"/><path color="#6a8bbf" d="M177.1 296.4l.5-7.2l4 14.1l-1.4-10.7z"/><path color="#e2d9e2" d="M275.1 313.1l2.8 .5l7.6-3.9l-2.8-.4z"/><path color="#606eb8" d="M171.9 301.6l-.1-18.7l3.8 7.8l-.8 1.5z"/><path color="#b3c6ce" d="M211 310l.8-5.9l4.2 4.5l-.9 .9zM206.2 302.8l1.1 5.6l4-2.8l-1-2z"/><path color="#bbcad1" d="M162.2 303.7l.9 1.3l1.9 2.9l-1-1.8z"/><path color="#dcd9df" d="M214.8 312.1l.9-.8l4-2.5l-.9 .4z"/><path color="#6275ba" d="M172.8 284.6l1.4 8l3.6 6.2l-1.1-4z"/><path color="#a3beca" d="M178.4 300.3l1 2.5l2.7 5l-1.3-9.1z"/><path color="#8db0c5" d="M179.4 302.8l.6-5.5l2.9 6.7l-.8 3.8z"/><path color="#cbd2d7" d="M187.9 310.3l.8-4.1l2.5 1.1l-.8 1.7z"/><path color="#769bc1" d="M197.1 304.3l.5-11.2l4.1-1.6l-.4 15.6z"/><path color="#b3c6ce" d="M205.3 304.1l.9-1.3l4.1 .8l-.8 2.8z"/><path color="#cbd2d7" d="M212.8 308.6l1.1 3.3l4-1.9l-1.1-5.1z"/><path color="#dcd9df" d="M157.4 311.2l.8-1.4l1.7 0l-1-1.1z"/><path color="#9ab8c8" d="M188.3 302.8l.7-3.7l3.5 4l-.9-.8z"/><path color="#6786be" d="M179.9 298.7l.9 0l2.8-12.1l-.2 15.3z"/><path color="#6a8bbf" d="M200.8 305.4l.4-15.2l4.5 10.8l-.8 5.2z"/><path color="#e2d9e2" d="M311.3 314l2.8 .5l9.3-4.8l-2.9-.5z"/><path color="#dfd9e1" d="M251.5 312.6l.9 .6l5.8-4.2l-.9 1.1z"/><path color="#86aac4" d="M186.3 299.8l1 1.4l3-6.6l-.5 9.7z"/><path color="#7ba1c2" d="M207.8 295.6l1.4 15.5l4-3.6l-1-1.2z"/><path color="#e2d9e2" d="M277.9 313.6l2.9 .5l7.6-3.9l-2.9-.5z"/><path color="#6275ba" d="M166.7 308.5l-.3-22.5l2.5 7.5l-.1 14.1z"/><path color="#bbcad1" d="M246.8 311.8l.9-5.8l5.9-.9l-.9 4.3z"/><path color="#86aac4" d="M187.3 301.2l1 1.6l3.3-.5l-1.3-7.7z"/><path color="#769bc1" d="M197.6 293.1l1.4 12.3l4-2l-1.3-11.9z"/><path color="#d1d5da" d="M250.5 308.6l1 4l5.8-2.5l-.9-.9z"/><path color="#7ba1c2" d="M207.3 308.4l.5-12.8l4.4 10.7l-.9-.7z"/><path color="#86aac4" d="M203.5 304.5l.7-8l4.1 1.5l-.6 9.3zM191.2 307.3l.7-6.4l3-5.9l-.5 10.5z"/><path color="#dcd9df" d="M155.7 311.7l.9 .7l1.6-2.6l-.8 1.4z"/><path color="#7ba1c2" d="M209.2 311.1l.5-15.2l4.3 9.4l-.8 2.2z"/><path color="#d1d5da" d="M248.7 309.3l.9 .4l5.8-1.2l-.9-2.1z"/><path color="#b3c6ce" d="M211.8 304.1l1 4.5l4-3.7l-.8 3.7z"/><path color="#aac2cc" d="M229.9 310.8l.7-7.8l4.1 5.5l-.9 1.5z"/><path color="#cbd2d7" d="M249.6 309.7l.9-1.1l5.9 .6l-1-.7zM215.7 311.3l.9-1.9l3.9-3.7l-.8 3.1z"/><path color="#dfd9e1" d="M254.3 313.4l.9 .3l5.8-2.9l-.9-1.3zM235.4 311.9l1 0l3.9-.9l-.9 0z"/><path color="#86aac4" d="M191.9 300.9l1.1 6.4l3.3-1.2l-1.4-11.1z"/><path color="#7ba1c2" d="M209.7 295.9l1.3 14.1l4.1-.5l-1.1-4.2z"/><path color="#d6d7dd" d="M252.4 313.2l.9-2.4l5.9-1.4l-1-.4z"/><path color="#d1d5da" d="M217.5 310.4l1 1.4l4-1.1l-1.1-4.3z"/><path color="#8db0c5" d="M195.8 307.3l.6-8.3l3.6 7.8l-1-1.4z"/><path color="#e2d9e2" d="M255.2 313.7l1 .1l5.8-2.9l-1-.1zM314.1 314.5l2.9 .5l9.3-4.9l-2.9-.4z"/><path color="#dfd9e1" d="M236.4 311.9l.9 1.4l3.9-2l-.9-.3z"/><path color="#e2d9e2" d="M280.8 314.1l2.8 .5l7.6-3.9l-2.8-.5z"/><path color="#d1d5da" d="M231.7 309.4l.9 .1l4-.3l-1-2.3z"/><path color="#d6d7dd" d="M253.3 310.8l1 2.6l5.8-3.9l-.9-.1z"/><path color="#86aac4" d="M204.2 296.5l1.1 7.6l4.2 2.3l-1.2-8.4z"/><path color="#e2d9e2" d="M256.2 313.8l.9 .2l5.8-2.9l-.9-.2z"/><path color="#6a8bbf" d="M201.2 290.2l1.4 12.9l4-.1l-.9-2z"/><path color="#cbd2d7" d="M190.5 307.2l.9 .1l2.5 0l-.9 0z"/><path color="#e2d9e2" d="M257.1 314l.9 .2l5.8-3l-.9-.1z"/><path color="#bbcad1" d="M247.7 306l1 3.3l5.8-2.9l-.9-1.3z"/><path color="#8db0c5" d="M196.4 299l1.1 6.9l3.3-.5l-.8 1.4z"/><path color="#d1d5da" d="M234.4 308.9l1 3l4-.9l-1-4.2z"/><path color="#6275ba" d="M165 307.9l.3-10.9l1.1-11l.3 22.5z"/><path color="#d6d7dd" d="M221.2 310.6l1 2.5l3.9-3.2l-.9 .3z"/><path color="#cbd2d7" d="M216.6 309.4l.9 1l3.9-4l-.9-.7z"/><path color="#e2d9e2" d="M317 315l2.9 .5l9.2-4.9l-2.8-.5z"/><path color="#dcd9df" d="M222.2 313.1l.9 .4l3.9-4.2l-.9 .6z"/><path color="#e2d9e2" d="M283.6 314.6l2.9 .4l7.6-3.8l-2.9-.5z"/><path color="#a3beca" d="M230.6 303l1.1 6.4l3.9-2.5l-.9 1.6z"/><path color="#7ba1c2" d="M177.2 294.5l1.2 5.8l2.4-1.6l-.9 0z"/><path color="#d1d5da" d="M237.3 313.3l.9-2.2l3.9-3.5l-.9 3.7z"/><path color="#dcd9df" d="M258 314.2l1-.2l5.8-4.2l-1 1.4z"/><path color="#6068b6" d="M171.8 282.9l1 1.7l3.9 10.2l-1.1-4.1z"/><path color="#80a5c3" d="M180.9 295.7l1.3 7.8l2.5 0l-1.2-5.7z"/><path color="#c2ced4" d="M220.2 306.9l1 3.7l4-.4l-.9 .4z"/><path color="#637abb" d="M173.7 297.7l.4-10.5l3 9.2l-.8 3.8z"/><path color="#b3c6ce" d="M218.5 311.8l.7-6.9l4.1 .6l-.8 5.2z"/><path color="#e2d9e2" d="M259.9 314.5l1 .1l5.8-3l-1 0z"/><path color="#dcd9df" d="M259 314l.9 .5l5.8-2.9l-.9-1.8z"/><path color="#dfd9e1" d="M241 313.8l1-1l3.9-.7l-.9-.2z"/><path color="#a3beca" d="M188.7 306.2l.7-3.8l2.5-1.5l-.7 6.4z"/><path color="#606eb8" d="M168.9 293.5l.7-3.9l2.2-6.7l.1 18.7z"/><path color="#e2d9e2" d="M319.9 315.5l2.9 .4l9.2-4.8l-2.9-.5zM260.9 314.6l.9 .2l5.8-2.9l-.9-.3z"/><path color="#cbd2d7" d="M210.6 312.9l.8-4.6l3.4 3.8l-.9-.2z"/><path color="#dcd9df" d="M224.9 312.3l1-.3l4-1.2l-1 1z"/><path color="#6786be" d="M159.9 309.8l-.2-19.1l2.5 13l-.7 3.6z"/><path color="#e2d9e2" d="M286.5 315l2.8 .5l7.6-3.9l-2.8-.4z"/><path color="#80a5c3" d="M180 297.3l.9-1.6l2.6 2.1l-.6 6.2z"/><path color="#d1d5da" d="M238.2 311.1l.9 .2l4-.1l-1-3.6z"/><path color="#9ab8c8" d="M183.9 302.5l.9-2.2l2.5 .9l-1-1.4z"/><path color="#a3beca" d="M189.4 302.4l1.1 4.8l2.5 .1l-1.1-6.4z"/><path color="#c2ced4" d="M153.7 307.5l1.2 4.1l1.7 .8l-.9-.7z"/><path color="#e2d9e2" d="M261.8 314.8l.9 .1l5.8-2.9l-.9-.1z"/><path color="#6a8bbf" d="M186.2 291.6l1.7 18.7l2.5-1.3l-1.4-9.9z"/><path color="#a3beca" d="M232.6 309.5l.8-6.9l4 2.4l-.8 4.2z"/><path color="#dfd9e1" d="M242 312.8l.9 .1l3.9-1.1l-.9 .3z"/><path color="#e2d9e2" d="M262.7 314.9l.9 .2l5.8-2.9l-.9-.2z"/><path color="#b3c6ce" d="M156.6 312.4l.6-6.4l1.6-2.2l-.6 6z"/><path color="#c2ced4" d="M240 308.4l1 5.4l4-1.9l-1-3.2z"/><path color="#b3c6ce" d="M203.1 306.2l.8-1.4l3.4 3.6l-1.1-5.6z"/><path color="#6a8bbf" d="M176.1 290.6l1.1 3.9l2.7 4.2l-1-.9z"/><path color="#8db0c5" d="M184.8 300.3l.8-2l2.7 4.5l-1-1.6z"/><path color="#5d3b9f" d="M174.2 275.6l2.1 24.6l3.2-4.2l-1.7-16z"/><path color="#cbd2d7" d="M211.4 308.3l1 3.1l3.3-.1l-.9 .8z"/><path color="#c2ced4" d="M239.1 311.3l.9-2.9l4 .3l-.9 2.5z"/><path color="#e2d9e2" d="M322.8 315.9l2.9 .5l9.2-4.9l-2.9-.4z"/><path color="#b3c6ce" d="M219.2 304.9l1 2l4.1 3.7l-1-5.1z"/><path color="#e2d9e2" d="M289.3 315.5l2.9 .5l7.6-3.9l-2.9-.5zM263.6 315.1l2.8 .5l5.8-3l-2.8-.4z"/><path color="#9ab8c8" d="M233.4 302.6l1 6.3l4-2.1l-1-1.8z"/><path color="#5f5bb2" d="M182.2 303.5l0-20.2l3.3 19.2l-.8 1z"/><path color="#5d3b9f" d="M174.2 292.6l0-17l3.6 4.4l0 18.8z"/><path color="#7ba1c2" d="M170.5 295l1.1 3.2l2.1-.5l-1.1-3.5z"/><path color="#7196c1" d="M185.9 310.7l.2-15.9l2.6 11.4l-.8 4.1z"/><path color="#7ba1c2" d="M204.9 305.9l1.1 4.6l3.2 .6l-1.4-15.5z"/><path color="#a3beca" d="M202 302.6l1.1 3.6l3.1-3.4l-.9 1.3z"/><path color="#5d3b9f" d="M172.6 294.2l1.1 3.5l2.6 2.5l-2.1-24.6z"/><path color="#93b4c6" d="M223.1 313.5l.7-12l4.2 8.3l-1-.5z"/><path color="#6a8bbf" d="M175.5 296.9l.6-6.3l2.8 7.2l-1.3-8.6z"/><path color="#6786be" d="M158.2 309.8l.6-6l.9-13.1l.2 19.1z"/><path color="#93b4c6" d="M223.8 301.5l1.1 10.8l4-.5l-.9-2z"/><path color="#6a8bbf" d="M197.5 305.9l.8-4.6l2.9-11.1l-.4 15.2z"/><path color="#e2d9e2" d="M325.7 316.4l2.9 .5l9.2-4.9l-2.9-.5zM292.2 316l2.9 .5l7.5-3.9l-2.8-.5z"/><path color="#7ba1c2" d="M206 310.5l.7-5.9l3-8.7l-.5 15.2zM209.2 298l1.4 14.9l3.3-1l-1.1-3.3z"/><path color="#637abb" d="M174.1 287.2l1.4 9.7l2.1-7.7l-.5 7.2z"/><path color="#e2d9e2" d="M266.4 315.6l2.9 .5l5.8-3l-2.9-.5z"/><path color="#b3c6ce" d="M212.4 311.4l.8-5.2l3.4 3.2l-.9 1.9z"/><path color="#dcd9df" d="M247.6 312.6l.9 .8l3.9-.2l-.9-.6z"/><path color="#8db0c5" d="M181.9 304.1l.7-4.1l2.2 .3l-.9 2.2z"/><path color="#5f5bb2" d="M182.2 283.3l1.7 19.2l2.4-2.7l-.8 2.7z"/><path color="#657fbd" d="M198.8 290.4l1.5 14.7l3.2-.6l-.9-1.4z"/><path color="#7ba1c2" d="M203.9 304.8l1 1.1l2.9-10.3l-.5 12.8z"/><path color="#6068b6" d="M175.6 285.8l1.7 17.5l2.1-.5l-1-2.5z"/><path color="#5f5bb2" d="M193.9 307.3l0-23.6l3.7 9.4l-.5 11.2z"/><path color="#6a8bbf" d="M184.5 299.8l1.4 10.9l2-.4l-1.7-18.7z"/><path color="#80a5c3" d="M200.3 305.1l.6-6.7l3.3-1.9l-.7 8z"/><path color="#e2d9e2" d="M328.6 316.9l2.9 .5l9.2-4.9l-2.9-.5zM251.3 315.6l1 .2l3.9-2l-1-.1z"/><path color="#5f5bb2" d="M193.9 283.7l1.9 23.6l3.2-1.9l-1.4-12.3z"/><path color="#e2d9e2" d="M295.1 316.5l2.9 .5l7.5-3.9l-2.9-.5z"/><path color="#5d3b9f" d="M171.8 295.2l.8-1l1.6-18.6l0 17z"/><path color="#cbd2d7" d="M230.5 309.7l1 4.7l3.9-2.5l-1-3zM244.7 312.4l1-2.1l3.9-.6l-.9-.4z"/><path color="#e2d9e2" d="M269.3 316.1l2.8 .4l5.8-2.9l-2.8-.5z"/><path color="#6a8bbf" d="M185.6 298.3l.6-6.7l2.8 7.5l-.7 3.7z"/><path color="#e2d9e2" d="M252.3 315.8l.9 .1l3.9-1.9l-.9-.2z"/><path color="#5c359a" d="M163.1 305l-.6-27.6l2.8 19.6l-.3 10.9z"/><path color="#7ba1c2" d="M206.7 304.6l1 3.1l3.3 2.3l-1.3-14.1z"/><path color="#6a8bbf" d="M173.5 298.8l.7-3.6l1.9-4.6l-.6 6.3z"/><path color="#93b4c6" d="M214 301.9l1.2 10.7l3.3-.8l-1-1.4z"/><path color="#d6d7dd" d="M248.5 313.4l.9-1.2l3.9-1.4l-.9 2.4z"/><path color="#a3beca" d="M242.9 312.9l.8-8.3l4 1.4l-.9 5.8z"/><path color="#d1d5da" d="M250.3 311.3l1 4.3l3.9-1.9l-.9-.3z"/><path color="#bbcad1" d="M218.8 307.5l1.1 5.9l3.2 .1l-.9-.4z"/><path color="#e2d9e2" d="M253.2 315.9l.9 .2l3.9-1.9l-.9-.2z"/><path color="#b3c6ce" d="M215.2 312.6l.8-4.5l3.2-3.2l-.7 6.9z"/><path color="#5e4eab" d="M170 279.7l1.8 15.5l2.4-2.6l-1.4-8z"/><path color="#aac2cc" d="M231.5 314.4l.7-8.5l4.2 6l-1 0z"/><path color="#769bc1" d="M154.9 311.6l0-14.9l2.3 9.3l-.6 6.4z"/><path color="#b3c6ce" d="M218 312.7l.8-5.2l3.4 5.6l-1-2.5z"/><path color="#80a5c3" d="M200.9 298.4l1.1 4.2l3.3 1.5l-1.1-7.6z"/><path color="#c2ced4" d="M246.6 308.8l1 3.8l3.9 0l-1-4z"/><path color="#e2d9e2" d="M331.5 317.4l2.9 .5l9.2-4.9l-2.9-.5z"/><path color="#c2ced4" d="M208.1 311l1 1.6l2.3-4.3l-.8 4.6z"/><path color="#93b4c6" d="M225.9 312l.7-9.3l4 .3l-.7 7.8z"/><path color="#e2d9e2" d="M298 317l2.8 .5l7.6-4l-2.9-.4z"/><path color="#6d90c0" d="M207.7 307.7l.5-12.8l3.6 9.2l-.8 5.9z"/><path color="#e2d9e2" d="M254.1 316.1l1-.1l3.9-2l-1 .2z"/><path color="#d6d7dd" d="M221.8 314.7l.9-1.9l3.2-.8l-1 .3z"/><path color="#aac2cc" d="M232.2 305.9l1.1 7.4l4 0l-.9-1.4z"/><path color="#e2d9e2" d="M272.1 316.5l2.9 .5l5.8-2.9l-2.9-.5z"/><path color="#bbcad1" d="M233.3 313.3l.9-4.6l4 2.4l-.9 2.2z"/><path color="#d1d5da" d="M249.4 312.2l.9-.9l4 2.1l-1-2.6z"/><path color="#aac2cc" d="M227.6 306l.9 .9l4.1 2.6l-.9-.1z"/><path color="#a3beca" d="M202.4 304.2l1 3.5l2.6 2.8l-1.1-4.6z"/><path color="#d1d5da" d="M237.1 315.8l.9-3.6l4 .6l-1 1z"/><path color="#bbcad1" d="M217 308.3l1 4.4l3.2-2.1l-1-3.7z"/><path color="#c2ced4" d="M245.7 310.3l.9-1.5l3.9-.2l-.9 1.1z"/><path color="#e2d9e2" d="M255.1 316l.9 .2l3.9-1.7l-.9-.5z"/><path color="#a3beca" d="M243.7 304.6l1 7.8l4-3.1l-1-3.3z"/><path color="#8db0c5" d="M213.2 306.2l.8-4.3l3.5 8.5l-.9-1z"/><path color="#e2d9e2" d="M256 316.2l1 0l3.9-1.6l-1-.1z"/><path color="#5d42a4" d="M177.3 303.3l-.2-23.4l2.9 17.4l-.6 5.5z"/><path color="#e2d9e2" d="M334.4 317.9l2.9 .5l9.2-4.9l-2.9-.5zM300.8 317.5l2.9 .4l7.6-3.9l-2.9-.5zM257 316.2l.9 .3l3.9-1.7l-.9-.2z"/><path color="#a3beca" d="M200.5 303.9l1 1.2l2.4-.3l-.8 1.4z"/><path color="#5f62b4" d="M171.6 298.2l.2-13.7l2.3 2.7l-.4 10.5z"/><path color="#bbcad1" d="M234.2 308.7l1 3.9l3.9-1.3l-.9-.2z"/><path color="#e2d9e2" d="M275 317l2.9 .5l5.7-2.9l-2.8-.5z"/><path color="#d1d5da" d="M238 312.2l.9 3l4-2.3l-.9-.1z"/><path color="#93b4c6" d="M151.7 301.9l1.2 4.9l2 4.8l-1.2-4.1z"/><path color="#e2d9e2" d="M257.9 316.5l.9 .4l3.9-2l-.9-.1z"/><path color="#6068b6" d="M159.7 290.7l.7-4.1l2.7 18.4l-.9-1.3z"/><path color="#5f5bb2" d="M191.4 307.3l.5-11.2l2-12.4l0 23.6z"/><path color="#a3beca" d="M201.5 305.1l.9-.9l2.5 1.7l-1-1.1z"/><path color="#6d90c0" d="M180.3 305.7l.4-11.5l1.9 5.8l-.7 4.1z"/><path color="#e2d9e2" d="M258.8 316.9l.9 .1l3.9-1.9l-.9-.2z"/><path color="#93b4c6" d="M199.5 302.2l1 1.7l2.6 2.3l-1.1-3.6z"/><path color="#5f62b4" d="M171.8 284.5l1.7 14.3l2-1.9l-1.4-9.7z"/><path color="#657fbd" d="M198.3 301.3l.5-10.9l3.8 12.7l-1.4-12.9z"/><path color="#6068b6" d="M174.3 294.7l1.4 10.7l1.6-2.1l-1.7-17.5z"/><path color="#aac2cc" d="M236 306.9l1.1 8.9l3.9-2l-1-5.4z"/><path color="#d1d5da" d="M206.1 312l1 3.1l2-2.5l-1-1.6z"/><path color="#e2d9e2" d="M337.3 318.4l2.9 .4l9.2-4.9l-2.9-.4z"/><path color="#93b4c6" d="M226.6 302.7l1 3.3l4.1 3.4l-1.1-6.4z"/><path color="#aac2cc" d="M216 308.1l1 .2l3.2-1.4l-1-2z"/><path color="#769bc1" d="M194.7 296.6l.9 .8l2.7 3.9l-.8 4.6z"/><path color="#e2d9e2" d="M303.7 317.9l2.9 .5l7.5-3.9l-2.8-.5z"/><path color="#80a5c3" d="M203.4 307.7l.6-8.6l2.7 5.5l-.7 5.9z"/><path color="#606eb8" d="M182.3 288.5l1.8 20.9l1.8 1.3l-1.4-10.9z"/><path color="#e2d9e2" d="M277.9 317.5l2.8 .5l5.8-3l-2.9-.4z"/><path color="#6d90c0" d="M184.1 309.4l.3-14.2l1.7-.4l-.2 15.9z"/><path color="#5e48a8" d="M169.6 289.6l.4-9.9l2.8 4.9l-1-1.7z"/><path color="#5e4eab" d="M166.4 286l.7-4.9l2.5 8.5l-.7 3.9z"/><path color="#5f55af" d="M178.9 298.2l.2-15.1l3.1 20.4l-1.3-7.8z"/><path color="#e2d9e2" d="M259.7 317l2.8 .5l3.9-1.9l-2.8-.5z"/><path color="#aac2cc" d="M235.2 312.6l.8-5.7l4 1.5l-.9 2.9z"/><path color="#93b4c6" d="M228.5 306.9l.9-3.4l4-.9l-.8 6.9zM229.4 303.5l1.1 6.2l3.9-.8l-1-6.3z"/><path color="#8db0c5" d="M219.9 313.4l.7-7.9l3.2-4l-.7 12z"/><path color="#6d90c0" d="M208.2 294.9l1 3.1l3.6 10.6l-1-4.5z"/><path color="#80a5c3" d="M209.1 312.6l.5-12.1l2.8 10.9l-1-3.1z"/><path color="#5d42a4" d="M175.7 305.4l.6-7.9l.8-17.6l.2 23.4z"/><path color="#6786be" d="M186.1 294.8l.8-2.1l2.5 9.7l-.7 3.8z"/><path color="#e2d9e2" d="M340.2 318.8l2.9 .5l9.2-4.9l-2.9-.5zM247.4 317.6l.9 .2l4-2l-1-.2zM306.6 318.4l2.9 .5l7.5-3.9l-2.9-.5z"/><path color="#8db0c5" d="M220.6 305.5l1.2 9.2l3.1-2.4l-1.1-10.8z"/><path color="#606eb8" d="M179 296.8l1.3 8.9l1.6-1.6l-1.7-17.3z"/><path color="#e2d9e2" d="M280.7 318l2.9 .5l5.7-3l-2.8-.5z"/><path color="#7ba1c2" d="M204 299.1l1.2 7.7l2.5 .9l-1-3.1z"/><path color="#cbd2d7" d="M227.3 312.6l.9 .2l3.3 1.6l-1-4.7z"/><path color="#5e4eab" d="M167.1 281.1l1.7 15.4l1.2-16.8l-.4 9.9z"/><path color="#e2d9e2" d="M262.5 317.5l2.9 .3l3.9-1.7l-2.9-.5z"/><path color="#cbd2d7" d="M240.8 312.3l.9 1.2l4-3.2l-1 2.1z"/><path color="#d6d7dd" d="M150.1 316.5l.9 .1l1.6-2.9l-1.1-1.9z"/><path color="#657fbd" d="M173.8 300l.5-8.8l2 6.3l-.6 7.9z"/><path color="#d1d5da" d="M204.5 313.4l1 1l1.6 .7l-1-3.1z"/><path color="#dfd9e1" d="M248.3 317.8l1-.7l3.9-1.2l-.9-.1z"/><path color="#5d42a4" d="M177.1 279.9l1.8 18.3l2-2.5l-.9 1.6z"/><path color="#7ba1c2" d="M206.9 301.4l1.2 9.6l2.5 1.9l-1.4-14.9z"/><path color="#6275ba" d="M187.7 289.9l1 2.1l2.7 15.3l-.9-.1z"/><path color="#606eb8" d="M193.4 288.4l1.3 8.2l2.8 9.3l-1.1-6.9z"/><path color="#8db0c5" d="M211.7 307.8l1.1 4.4l2.4 .4l-1.2-10.7z"/><path color="#769bc1" d="M152.9 306.8l.6-4.2l1.4-5.9l0 14.9z"/><path color="#e2d9e2" d="M343.1 319.3l2.3 .4l9.1-4.9l-2.2-.4z"/><path color="#5e4eab" d="M182.6 300l.2-16.7l2.8 15l-.8 2z"/><path color="#5f5bb2" d="M180.2 286.8l1.7 17.3l2-1.6l-1.7-19.2z"/><path color="#cbd2d7" d="M243.6 312.6l.9 1.4l4-.6l-.9-.8z"/><path color="#a3beca" d="M198.5 305.2l1 1.5l2-1.6l-1-1.2z"/><path color="#93b4c6" d="M222.7 312.8l.7-6.3l3.2-3.8l-.7 9.3z"/><path color="#d1d5da" d="M246.4 314.9l1 2.7l3.9-2l-1-4.3z"/><path color="#6d90c0" d="M205.2 306.8l.9 .2l2.1-12.1l-.5 12.8z"/><path color="#6275ba" d="M186.9 292.7l.8-2.8l2.8 17.3l-1.1-4.8z"/><path color="#e2d9e2" d="M309.5 318.9l2.9 .5l7.5-3.9l-2.9-.5zM283.6 318.5l2.9 .5l5.7-3l-2.9-.5z"/><path color="#d6d7dd" d="M244.5 314l1 .2l3.9-2l-.9 1.2z"/><path color="#606eb8" d="M192.6 290.2l.8-1.8l3 10.6l-.6 8.3z"/><path color="#dcd9df" d="M249.3 317.1l.9-.9l3.9-.1l-.9-.2z"/><path color="#80a5c3" d="M212.8 312.2l.6-11.1l2.6 7l-.8 4.5z"/><path color="#e2d9e2" d="M265.4 317.8l2.9 .7l3.8-2l-2.8-.4z"/><path color="#637abb" d="M196.3 290.4l1.6 17.3l2.4-2.6l-1.5-14.7z"/><path color="#d1d5da" d="M233.9 316.6l.9-1.1l3.2-3.3l-.9 3.6z"/><path color="#aac2cc" d="M214.6 310l.8-3l2.6 5.7l-1-4.4z"/><path color="#9ab8c8" d="M238.9 315.2l.8-9.4l4-1.2l-.8 8.3z"/><path color="#c2ced4" d="M241.7 313.5l1-.5l3.9-4.2l-.9 1.5z"/><path color="#381139" d="M167.8 260.7l2.7 34.3l2.1-.8l-.8 1z"/><path color="#9ab8c8" d="M199.5 306.7l.8-2.3l2.1-.2l-.9 .9z"/><path color="#5e4eab" d="M165.3 297l.4-10.1l1.4-5.8l-.7 4.9z"/><path color="#59288d" d="M174.2 295.2l0-19.1l3 18.4l-1.1-3.9z"/><path color="#80a5c3" d="M209.6 300.5l1.2 6.6l2.4-.9l-.8 5.2z"/><path color="#c2ced4" d="M242.7 313l.9-.4l4 0l-1-3.8z"/><path color="#657fbd" d="M188.7 292l1.2 6.3l2-2.2l-.5 11.2z"/><path color="#aac2cc" d="M215.4 307l1.1 4.6l2.3-4.1l-.8 5.2z"/><path color="#b3c6ce" d="M216.5 311.6l.8-3.2l2.6 5l-1.1-5.9z"/><path color="#bbcad1" d="M149.2 316.4l.9 .1l1.4-4.7l-1.3-7.3z"/><path color="#9ab8c8" d="M219.1 306.2l1.1 7.7l2.5-1.1l-.9 1.9z"/><path color="#dcd9df" d="M250.2 316.2l.9 .2l4-.4l-1 .1z"/><path color="#5f62b4" d="M170.3 288.2l1.1 3.9l2.1 6.7l-1.7-14.3z"/><path color="#d1d5da" d="M245.5 314.2l.9 .7l3.9-3.6l-.9 .9z"/><path color="#59288d" d="M174.2 276.1l1.4 9.7l2.8 14.5l-1.2-5.8zM167.8 275.8l1.6 13.1l2.2 9.3l-1.1-3.2z"/><path color="#5c359a" d="M171.4 292.1l.3-13.4l2.5 16.5l-.7 3.6z"/><path color="#6d90c0" d="M182.2 304.3l.7-6.2l1.5-2.9l-.3 14.2z"/><path color="#e2d9e2" d="M312.4 319.4l2.9 .5l7.5-4l-2.9-.4z"/><path color="#dcd9df" d="M251.1 316.4l1 .7l3.9-.9l-.9-.2z"/><path color="#5f62b4" d="M169.4 288.9l.9-.7l1.5-3.7l-.2 13.7z"/><path color="#dfd9e1" d="M252.1 317.1l.9 1.2l4-2.1l-1 0z"/><path color="#e2d9e2" d="M286.5 319l2.9 .4l5.7-2.9l-2.9-.5zM253 318.3l1 .4l3.9-2.2l-.9-.3z"/><path color="#5f5bb2" d="M191.9 296.1l.7-5.9l3.2 17.1l-1.9-23.6z"/><path color="#bbcad1" d="M148.3 316.2l.9 .2l1-11.9l-.8 3z"/><path color="#e2d9e2" d="M268.3 318.5l2.8 .5l3.9-2l-2.9-.5zM254 318.7l.9 .2l3.9-2l-.9-.4z"/><path color="#8db0c5" d="M210.8 307.1l.9 .7l2.3-5.9l-.8 4.3z"/><path color="#a3beca" d="M228.2 312.8l.8-5.6l3.2-1.3l-.7 8.5z"/><path color="#6068b6" d="M158.8 303.8l.3-8.9l1.3-8.3l-.7 4.1z"/><path color="#9ab8c8" d="M239.7 305.8l1.1 6.5l3.9 .1l-1-7.8z"/><path color="#93b4c6" d="M203.2 307.2l.8-3.7l2.1 3.5l-.9-.2z"/><path color="#aac2cc" d="M230.1 314.1l.8-5.7l3.3 .3l-.9 4.6z"/><path color="#e2d9e2" d="M254.9 318.9l.9 .1l3.9-2l-.9-.1z"/><path color="#c2ced4" d="M202.8 311.2l1.1 5.1l1.6-1.9l-1-1z"/><path color="#a3beca" d="M217.3 308.4l1 1.9l2.3-4.8l-.7 7.9z"/><path color="#c2ced4" d="M234.8 315.5l.9-3.7l3.2 3.4l-.9-3z"/><path color="#7ba1c2" d="M200.3 304.4l.7-5l2.4 8.3l-1-3.5z"/><path color="#a3beca" d="M229 307.2l1.1 6.9l3.2-.8l-1.1-7.4z"/><path color="#5e4eab" d="M182.8 283.3l1.7 16.5l1.7-8.2l-.6 6.7z"/><path color="#a3beca" d="M147.3 316l1 .2l1.1-8.7l-1.4-8.6z"/><path color="#80a5c3" d="M213.4 301.1l1.2 8.9l2.4-1.7l-1-.2z"/><path color="#769bc1" d="M188.5 304.5l.7-6.1l1.8 2.8l-1.1-2.9z"/><path color="#9ab8c8" d="M209.6 305.7l1.1 6.9l2.1-.4l-1.1-4.4z"/><path color="#e2d9e2" d="M315.3 319.9l2.9 .5l7.5-4l-2.9-.5z"/><path color="#aac2cc" d="M232.8 309.6l1.1 7l3.2-.8l-1.1-8.9z"/><path color="#cbd2d7" d="M224.9 312.5l1 4.6l2.3-4.3l-.9-.2z"/><path color="#80a5c3" d="M207.1 315.1l.5-12.5l2-2.1l-.5 12.1z"/><path color="#5c359a" d="M157.2 306l-.7-26.6l2.6 15.5l-.3 8.9z"/><path color="#e2d9e2" d="M289.4 319.4l2.9 .5l5.7-2.9l-2.9-.5z"/><path color="#7ba1c2" d="M202.2 305.6l1 1.6l2-.4l-1.2-7.7zM224.2 300.6l1.2 12.6l3.1-6.3l-.9-.9z"/><path color="#e2d9e2" d="M271.1 319l2.9 .5l3.9-2l-2.9-.5z"/><path color="#606eb8" d="M180.9 295.9l1.3 8.4l1.9 5.1l-1.8-20.9z"/><path color="#6786be" d="M178.2 297.2l.8-3.4l1.7 .4l-.4 11.5z"/><path color="#e2d9e2" d="M255.8 319l2.8 .5l3.9-2l-2.8-.5z"/><path color="#4c176b" d="M197.9 307.7l-.4-33.8l3.4 24.5l-.6 6.7z"/><path color="#9ab8c8" d="M218.3 310.3l.8-4.1l2.7 8.5l-1.2-9.2z"/><path color="#381139" d="M168.8 296.5l-1-35.8l4 34.5l-1.8-15.5z"/><path color="#7196c1" d="M185.8 301.8l1.1 4.1l1.6-1.4l-1.3-7.9z"/><path color="#6275ba" d="M195.6 297.4l.7-7l2.5 0l-.5 10.9z"/><path color="#b3c6ce" d="M214.4 311.2l1.1 4.6l1.8-7.4l-.8 3.2z"/><path color="#637abb" d="M189.9 298.3l1.1 2.9l1.6-11l-.7 5.9z"/><path color="#80a5c3" d="M210.7 312.6l.9-1l1.8-10.5l-.6 11.1z"/><path color="#a3beca" d="M151 316.6l.9 .1l.5-19.5l.2 16.5z"/><path color="#aac2cc" d="M171 307.9l1 .4l1.6-1l-.8 2.3zM230.9 308.4l1 1.8l3.3 2.4l-1-3.9z"/><path color="#7ba1c2" d="M201 299.4l1.2 6.2l1.8-6.5l-.6 8.6z"/><path color="#e2d9e2" d="M318.2 320.4l2.9 .5l7.5-4l-2.9-.5z"/><path color="#dcd9df" d="M244.2 319.2l1-2.2l3.1 .8l-.9-.2z"/><path color="#e2d9e2" d="M292.3 319.9l2.8 .5l5.7-2.9l-2.8-.5z"/><path color="#5e4eab" d="M179.1 283.1l1.1 3.7l2-3.5l0 20.2z"/><path color="#e2d9e2" d="M274 319.5l2.9 .5l3.8-2l-2.8-.5z"/><path color="#a3beca" d="M225.9 317.1l.9-3l2.2-6.9l-.8 5.6z"/><path color="#d6d7dd" d="M243.3 316.6l.9 2.6l3.2-1.6l-1-2.7z"/><path color="#6d90c0" d="M206.1 307l.8-5.6l2.3-3.4l-1-3.1z"/><path color="#e2d9e2" d="M258.6 319.5l2.9 .5l3.9-2.2l-2.9-.3z"/><path color="#c2ced4" d="M212.9 315l.9-1.1l1.7 1.9l-1.1-4.6z"/><path color="#aac2cc" d="M231.9 310.2l.9-.6l3.2-2.7l-.8 5.7z"/><path color="#9ab8c8" d="M208.7 308l.9-2.3l2.1 2.1l-.9-.7z"/><path color="#637abb" d="M194.2 291.3l1.4 11.9l2.3 4.5l-1.6-17.3z"/><path color="#aac2cc" d="M213.4 310l1 1.2l2.1 .4l-1.1-4.6z"/><path color="#80a5c3" d="M170.1 307.9l.9 0l1.8 1.7l-1.3-8.9z"/><path color="#657fbd" d="M187.2 296.6l1.3 7.9l1.4-6.2l-1.2-6.3z"/><path color="#5b2f94" d="M160.4 286.6l.9-.2l1.2-9l.6 27.6z"/><path color="#dcd9df" d="M245.2 317l.9 1.7l3.2-1.6l-1 .7z"/><path color="#6275ba" d="M204.5 292.5l1.6 19.5l2-1l-1.2-9.6z"/><path color="#6a8bbf" d="M186.9 305.9l.4-10.6l1.9 3.1l-.7 6.1z"/><path color="#371143" d="M171.2 268.2l2.6 31.8l1.9 5.4l-1.4-10.7z"/><path color="#6068b6" d="M150.2 306.6l-.1-16.9l2.8 17.1l-1.2-4.9z"/><path color="#7ba1c2" d="M223.4 306.5l.8-5.9l3.4 5.4l-1-3.3z"/><path color="#9ab8c8" d="M208.2 312.2l.8-1.6l1.7 2l-1.1-6.9z"/><path color="#80a5c3" d="M150.2 304.5l1.3 7.3l1.1-11l-.7 3z"/><path color="#cbd2d7" d="M223.9 318.1l.8-4.1l2.1 .1l-.9 3z"/><path color="#e2d9e2" d="M321.1 320.9l2.9 .4l7.5-3.9l-2.9-.5z"/><path color="#bbcad1" d="M237.6 312.8l.9-1l3.2 1.7l-.9-1.2z"/><path color="#dcd9df" d="M246.1 318.7l1 .8l3.1-3.3l-.9 .9z"/><path color="#a3beca" d="M212.4 307.6l1 2.4l2-3l-.8 3z"/><path color="#5e4eab" d="M178.1 298.4l.9-1.6l1.2-10l-1.1-3.7z"/><path color="#e2d9e2" d="M295.1 320.4l2.9 .5l5.7-3l-2.9-.4z"/><path color="#bbcad1" d="M206.5 313.1l1 2.5l1.5-5l-.8 1.6z"/><path color="#e2d9e2" d="M276.9 320l2.9 .4l3.8-1.9l-2.9-.5z"/><path color="#657fbd" d="M225.4 313.2l.6-18.5l3.4 8.8l-.9 3.4z"/><path color="#4c176b" d="M197.5 273.9l2 28.3l2.5 .4l-1.1-4.2z"/><path color="#657fbd" d="M226 294.7l1.3 17.9l3.2-2.9l-1.1-6.2z"/><path color="#e2d9e2" d="M261.5 320l2.9 .5l3.9-2l-2.9-.7z"/><path color="#bbcad1" d="M222.8 311.3l1.1 6.8l2-1l-1-4.6z"/><path color="#5b2f94" d="M162.5 277.4l1.1 3.1l2.1 6.4l-.4 10.1z"/><path color="#80a5c3" d="M211.6 311.6l.8-4l2.2 2.4l-1.2-8.9z"/><path color="#6275ba" d="M192.4 290.7l1.2 7.6l2-.9l-.9-.8z"/><path color="#6a8bbf" d="M220.2 313.9l.6-16.7l2.6 9.3l-.7 6.3z"/><path color="#7196c1" d="M183.9 298.4l1.2 5.2l1.8 2.3l-1.1-4.1zM205.5 314.4l.4-15.5l1.7 3.7l-.5 12.5z"/><path color="#572385" d="M176.3 276.8l1.9 20.4l2.1 8.5l-1.3-8.9z"/><path color="#bbcad1" d="M240.4 311.4l1 5.2l3.1-2.6l-.9-1.4z"/><path color="#769bc1" d="M182.9 311.9l.7-4.8l1.5-3.5l-1.2-5.2z"/><path color="#dcd9df" d="M247.1 319.5l.9-.8l3.1-2.3l-.9-.2z"/><path color="#7ba1c2" d="M151.9 303.8l.7-3l1.6-1.9l-.7 3.7z"/><path color="#606eb8" d="M191 301.2l.7-4l1.7-8.8l-.8 1.8z"/><path color="#6068b6" d="M150.1 289.7l1.8 14.1l1.6-1.2l-.6 4.2z"/><path color="#86aac4" d="M209 310.6l.7-7l1.9 8l-.9 1z"/><path color="#80a5c3" d="M207.6 302.6l1.1 5.4l2.1-.9l-1.2-6.6z"/><path color="#e2d9e2" d="M324 321.3l3 .5l7.4-3.9l-2.9-.5z"/><path color="#a3beca" d="M226.8 314.1l.8-5.3l2.5 5.3l-1.1-6.9z"/><path color="#9ab8c8" d="M168.3 306.5l1 1l1.7 .4l-.9 0z"/><path color="#6d90c0" d="M194.1 298.3l1.7 18l1.6-.4l-1.4-13.7z"/><path color="#a3beca" d="M241.4 316.6l.8-7.1l3.3 4.7l-1-.2z"/><path color="#9ab8c8" d="M231.5 316.2l.7-8.7l2.6 8l-.9 1.1z"/><path color="#e2d9e2" d="M298 320.9l2.9 .5l5.7-3l-2.9-.5z"/><path color="#d6d7dd" d="M248.9 317.5l1 2.2l3.1-1.4l-.9-1.2z"/><path color="#7ba1c2" d="M198.7 307l.7-6.7l1.6-.9l-.7 5z"/><path color="#e2d9e2" d="M279.8 320.4l2.8 .5l3.9-1.9l-2.9-.5z"/><path color="#d6d7dd" d="M248 318.7l.9-1.2l3.2-.4l-1-.7z"/><path color="#e2d9e2" d="M264.4 320.5l2.8 .5l3.9-2l-2.8-.5z"/><path color="#d6d7dd" d="M249.9 319.7l.9-2l3.2 1l-1-.4z"/><path color="#9ab8c8" d="M169.3 307.5l.9-.4l1.8 1.2l-1-.4z"/><path color="#59288d" d="M196.6 278.8l1.9 26.4l2-1.3l-1-1.7z"/><path color="#e2d9e2" d="M251.8 320.2l.8 .4l3.2-1.6l-.9-.1z"/><path color="#a3beca" d="M242.2 309.5l1.1 7.1l3.1-1.7l-.9-.7z"/><path color="#6068b6" d="M197.1 289.6l1.6 17.4l1.6-2.6l-.8 2.3z"/><path color="#637abb" d="M203.2 303.7l1.3 9.7l1.6-1.4l-1.6-19.5z"/><path color="#7ba1c2" d="M222 310.6l.8-4.8l2.6 7.4l-1.2-12.6z"/><path color="#381139" d="M165.7 286.9l-.5-24.9l3.6 34.5l-1.7-15.4z"/><path color="#d6d7dd" d="M250.8 317.7l1 2.5l3.1-1.3l-.9-.2z"/><path color="#6275ba" d="M186.5 299.7l.7-3.1l1.5-4.6l-1-2.1zM204 303.5l.5-11l2.4 8.9l-.8 5.6z"/><path color="#606eb8" d="M184.4 295.2l.7-5.5l1.8 3l-.8 2.1z"/><path color="#7196c1" d="M181.5 302.2l1.4 9.7l1-13.5l-.8 1.1z"/><path color="#93b4c6" d="M230.4 306.6l1.1 9.6l2.4 .4l-1.1-7z"/><path color="#e2d9e2" d="M252.6 320.6l2.9 .5l3.1-1.6l-2.8-.5z"/><path color="#606eb8" d="M191.7 297.2l.7-6.5l2.3 5.9l-1.3-8.2z"/><path color="#bbcad1" d="M211.1 311.6l1 2.2l1.7 .1l-.9 1.1z"/><path color="#6275ba" d="M193.6 298.3l.6-7l2.1-.9l-.7 7z"/><path color="#e2d9e2" d="M327 321.8l2.9 .5l7.4-3.9l-2.9-.5z"/><path color="#59288d" d="M173 286.4l1.3 8.3l1.3-8.9l-1.4-9.7z"/><path color="#80a5c3" d="M211.6 303.5l1.3 11.5l1.5-3.8l-1-1.2z"/><path color="#5f5bb2" d="M159.1 294.9l.4-8.8l1.8 .3l-.9 .2z"/><path color="#e2d9e2" d="M300.9 321.4l2.9 .5l5.7-3l-2.9-.5z"/><path color="#6d90c0" d="M172 308.3l.6-4.9l1.5-5.6l-.5 9.5z"/><path color="#93b4c6" d="M217.1 305.7l1 3.6l2.1 4.6l-1.1-7.7z"/><path color="#e2d9e2" d="M282.6 320.9l2.9 .5l3.9-2l-2.9-.4z"/><path color="#6068b6" d="M196 302.2l1.4 13.7l1.3-8.9l-1.6-17.4z"/><path color="#769bc1" d="M235.7 311.8l.7-10.8l3.3 4.8l-.8 9.4z"/><path color="#e2d9e2" d="M267.2 321l2.9 .5l3.9-2l-2.9-.5z"/><path color="#5f62b4" d="M184.3 288.1l1.5 13.7l1.4-5.2l-.7 3.1z"/><path color="#59288d" d="M167.1 294.2l.3-11.8l2 6.5l-1.6-13.1z"/><path color="#606eb8" d="M185.1 289.7l1.4 10l1.2-9.8l-.8 2.8z"/><path color="#7196c1" d="M203.9 316.3l.5-13l1.5-4.4l-.4 15.5z"/><path color="#6a8bbf" d="M201.1 296.4l1.2 8.4l1.7-1.3l-.8 3.7z"/><path color="#6068b6" d="M149.4 307.5l.8-3l1.7-.7l-1.8-14.1z"/><path color="#7196c1" d="M206.8 299.7l1.4 12.5l1.4-6.5l-.9 2.3z"/><path color="#5d42a4" d="M180.7 294.2l.3-12.4l1.8 1.5l-.2 16.7z"/><path color="#5e48a8" d="M189.2 298.4l.3-14.6l2.2 13.4l-.7 4z"/><path color="#3f1251" d="M175.8 269.9l2.3 28.5l1-15.3l-.2 15.1z"/><path color="#d6d7dd" d="M240.9 317.1l.9 1.8l2.4 .3l-.9-2.6z"/><path color="#6068b6" d="M148 298.9l1.4 8.6l.7-17.8l.1 16.9z"/><path color="#606eb8" d="M197.4 315.9l0-23.5l2 7.9l-.7 6.7z"/><path color="#657fbd" d="M181 307.6l.3-12.1l2.3 11.6l-.7 4.8z"/><path color="#7196c1" d="M238.5 311.8l.8-10.9l3.4 12.1l-1 .5z"/><path color="#93b4c6" d="M232.2 307.5l1.1 7.8l2.4-3.5l-.9 3.7z"/><path color="#6786be" d="M200.3 298.9l.8-2.5l2.1 10.8l-1-1.6z"/><path color="#5c359a" d="M169.8 294.6l.2-14.1l1.7-1.8l-.3 13.4z"/><path color="#d6d7dd" d="M241.8 318.9l1-1.3l2.4-.6l-1 2.2z"/><path color="#59288d" d="M171.7 278.7l1.3 7.7l1.2-10.3l0 19.1z"/><path color="#3f1251" d="M176.3 297.5l-.5-27.6l3.1 28.3l-1.8-18.3z"/><path color="#6a8bbf" d="M201.3 297.4l1.5 13.8l1.7 2.2l-1.3-9.7z"/><path color="#8db0c5" d="M227.6 308.8l.9-3.2l2.4 2.8l-.8 5.7z"/><path color="#b3c6ce" d="M222.3 317.8l.7-6.5l1.7 2.7l-.8 4.1z"/><path color="#e2d9e2" d="M255.5 321.1l2.9 .5l3.1-1.6l-2.9-.5z"/><path color="#7196c1" d="M199.4 300.3l.9-1.4l1.9 6.7l-1.2-6.2z"/><path color="#d6d7dd" d="M242.8 317.6l.9 3.1l2.4-2l-.9-1.7z"/><path color="#6275ba" d="M192.7 294.5l1.1 3.9l1.8 4.8l-1.4-11.9z"/><path color="#e2d9e2" d="M329.9 322.3l2.9 .5l7.4-4l-2.9-.4z"/><path color="#86aac4" d="M209.7 303.6l1.1 3.4l1.6 .6l-.8 4z"/><path color="#d1d5da" d="M243.7 320.7l.9-3.5l2.5 2.3l-1-.8z"/><path color="#769bc1" d="M236.4 301l1.2 11.8l3.2-.5l-1.1-6.5z"/><path color="#e2d9e2" d="M303.8 321.9l2.9 .5l5.7-3l-2.9-.5zM285.5 321.4l2.9 .5l3.9-2l-2.9-.5z"/><path color="#5f62b4" d="M196.4 293.9l.7-4.3l2.4 17.1l-1-1.5z"/><path color="#e2d9e2" d="M270.1 321.5l2.9 .4l3.9-1.9l-2.9-.5z"/><path color="#7196c1" d="M239.3 300.9l1.1 10.5l3.2 1.2l-.9 .4z"/><path color="#311339" d="M167.4 265.8l2.4 28.8l1.6-2.5l-1.1-3.9z"/><path color="#657fbd" d="M223.8 305.3l1.1 7.2l2.4 .1l-1.3-17.9z"/><path color="#9ab8c8" d="M159.3 318.2l.9 .1l.8-15.8l-1-.9z"/><path color="#5f5bb2" d="M215.5 315.8l.2-26.5l2.6 21l-1-1.9z"/><path color="#80a5c3" d="M170.2 307.1l.7-3.9l1.7 .2l-.6 4.9z"/><path color="#769bc1" d="M151.9 316.7l.9 .4l.1-27.2l-.5 7.3z"/><path color="#93b4c6" d="M158.4 318l.9 .2l.7-16.6l-1-1.9z"/><path color="#8db0c5" d="M228.5 305.6l1 5.9l2.4-1.3l-1-1.8z"/><path color="#93b4c6" d="M229.5 311.5l.9-4.9l2.4 3l-.9 .6zM167.5 306.2l1.1 3.2l1.6-2.3l-.9 .4z"/><path color="#7196c1" d="M204.9 314.6l.5-13.1l2.1 14.1l-1-2.5z"/><path color="#aac2cc" d="M163.9 319l.9 .2l1-12.5l-.9-.9z"/><path color="#6a8bbf" d="M199.2 314.3l.5-9.9l1.4-8l-.8 2.5z"/><path color="#657fbd" d="M197.4 310.7l.4-14.6l1.9 8.3l-.5 9.9z"/><path color="#80a5c3" d="M201.9 308.2l1 1.4l1.5-6.3l-.5 13zM210.8 307l.8-3.5l1.8 6.5l-1-2.4z"/><path color="#b3c6ce" d="M220.7 320.2l.9-1.8l1.4-7.1l-.7 6.5z"/><path color="#606eb8" d="M195.8 316.3l.1-21l1.5-2.9l0 23.5z"/><path color="#6786be" d="M220.8 297.2l1.2 13.4l2.2-10l-.8 5.9z"/><path color="#e2d9e2" d="M258.4 321.6l2.8 .5l3.2-1.6l-2.9-.5z"/><path color="#5f55af" d="M180 292.5l.7-5.4l2.2 11l-.7 6.2z"/><path color="#431359" d="M163.2 271.3l2 19.1l1.9 3.8l-1.4-8.5z"/><path color="#e2d9e2" d="M332.8 322.8l2.9 .5l7.4-4l-2.9-.5z"/><path color="#657fbd" d="M222.8 305.8l1-.5l2.2-10.6l-.6 18.5z"/><path color="#5d3b9f" d="M181 281.8l1.3 6.7l2.2 11.3l-1.7-16.5z"/><path color="#5e4eab" d="M175.9 285.1l1.5 10.8l1.6-2.1l-.8 3.4z"/><path color="#6a8bbf" d="M218.1 309.3l.9-2.1l1.8-10l-.6 16.7z"/><path color="#93b4c6" d="M224.7 314l.8-6.9l2.1 1.7l-.8 5.3z"/><path color="#531e7c" d="M165.2 290.4l.1-14.1l2.1 6.1l-.3 11.8z"/><path color="#8db0c5" d="M221.8 307.8l1 3.5l2.1 1.2l-1.1-7.2z"/><path color="#e2d9e2" d="M306.7 322.4l3 .5l5.6-3l-2.9-.5zM288.4 321.9l2.9 .5l3.8-2l-2.8-.5z"/><path color="#5f62b4" d="M183.1 299.5l.8-1.1l1.9 3.4l-1.5-13.7z"/><path color="#431359" d="M171.9 295.8l-.3-23.6l2.7 19l-.5 8.8z"/><path color="#6275ba" d="M202.3 304.8l.9-1.1l1.3-11.2l-.5 11z"/><path color="#e2d9e2" d="M249.4 321.3l.9 .5l2.3-1.2l-.8-.4zM273 321.9l2.9 .5l3.9-2l-2.9-.4z"/><path color="#5d42a4" d="M179 293.8l.8-2.2l1.2-9.8l-.3 12.4z"/><path color="#4c176b" d="M195.6 303.2l.2-18.7l1.7-10.6l.4 33.8z"/><path color="#93b4c6" d="M212.1 313.8l.8-6.3l1.7 1.3l-.8 5.1z"/><path color="#6068b6" d="M190.9 296l.7-5.6l2 7.9l-1.2-7.6z"/><path color="#5e4eab" d="M185.1 303.6l.2-17.2l2 8.9l-.4 10.6z"/><path color="#3f1251" d="M151.5 311.8l1.1 1.9l-.8-40.9l.8 28z"/><path color="#d6d7dd" d="M219 319.1l.9-.8l1.7 .1l-.9 1.8z"/><path color="#3f1251" d="M174.3 291.2l.8-1.6l.7-19.7l.5 27.6z"/><path color="#c2ced4" d="M244.6 317.2l1-2.4l2.4 3.9l-.9 .8z"/><path color="#93b4c6" d="M235.2 313.6l.8-5.2l2.5 3.4l-.9 1z"/><path color="#637abb" d="M192.3 294.9l1.8 20.9l1.7 .5l-1.7-18z"/><path color="#d1d5da" d="M246.5 317.4l1 2.7l2.4-.4l-1-2.2z"/><path color="#a3beca" d="M239.9 314.6l1 2.5l2.4-.5l-1.1-7.1z"/><path color="#5e48a8" d="M168.9 302.8l1.2 5.1l1.4-7.2l-1.8-16.1z"/><path color="#6d90c0" d="M207.5 315.6l.5-15.5l1.7 3.5l-.7 7z"/><path color="#606eb8" d="M197.4 292.4l1.8 21.9l1.1-15.4l-.9 1.4z"/><path color="#657fbd" d="M194.1 315.8l.2-16.6l1.6-3.9l-.1 21z"/><path color="#a3beca" d="M238.9 314.1l1 .5l2.3-5.1l-.8 7.1z"/><path color="#769bc1" d="M170.9 303.2l1.3 6.5l1.2-9.3l-.8 3z"/><path color="#93b4c6" d="M228.4 312l1 2.7l2.1 1.5l-1.1-9.6z"/><path color="#e2d9e2" d="M335.7 323.3l2.3 .4l7.4-4l-2.3-.4z"/><path color="#5d42a4" d="M179 285.5l2 22.1l1.9 4.3l-1.4-9.7z"/><path color="#7196c1" d="M153.8 317.2l.9 .2l.3-23.9l-1.2-3.7z"/><path color="#e2d9e2" d="M261.2 322.1l2.9 .5l3.1-1.6l-2.8-.5z"/><path color="#6068b6" d="M200.4 292.9l1.5 15.3l2 8.1l-1.1-5.1z"/><path color="#3f1251" d="M165.7 285.7l1.4 8.5l.7-18.4l-1.3-6.8z"/><path color="#6068b6" d="M191.6 290.4l1.1 4.1l1.5-3.2l-.6 7z"/><path color="#5f5bb2" d="M166.5 289.2l1.8 17.3l1.8 1.4l-1.2-5.1z"/><path color="#606eb8" d="M189.2 296.1l1.2 5.1l1.2-10.8l-.7 5.6z"/><path color="#d1d5da" d="M247.5 320.1l.9-2.8l2.4 .4l-.9 2z"/><path color="#dcd9df" d="M250.3 321.8l2.8-1.2l2.4 .5l-2.9-.5z"/><path color="#e2d9e2" d="M309.7 322.9l2.9 .5l5.6-3l-2.9-.5z"/><path color="#6d90c0" d="M205.9 298.9l.9 .8l1.9 8.3l-1.1-5.4z"/><path color="#5f5bb2" d="M213.8 313.9l.8-5.1l1.1-19.5l-.2 26.5z"/><path color="#531e7c" d="M175.4 277.5l.9-.7l2.7 20l-.9 1.6z"/><path color="#5d42a4" d="M171.5 300.7l1.3 8.9l.4-26l-.5 7z"/><path color="#5b2f94" d="M162.7 291l.9 .6l1.1-12.3l.3 22z"/><path color="#e2d9e2" d="M291.3 322.4l2.9 .5l3.8-2l-2.9-.5z"/><path color="#6d90c0" d="M152.8 317.1l1 .1l0-27.4l-.9 .1z"/><path color="#d1d5da" d="M248.4 317.3l1 4l2.4-1.1l-1-2.5z"/><path color="#6d90c0" d="M192.2 311.1l.9-.9l1.2-11l-.2 16.6z"/><path color="#8db0c5" d="M215.6 311.2l.8-5.2l1.7 3.3l-1-3.6z"/><path color="#e2d9e2" d="M275.9 322.4l2.9 .5l3.8-2l-2.8-.5z"/><path color="#b3c6ce" d="M226.9 315.1l1 3.6l1.5-4l-1-2.7z"/><path color="#93b4c6" d="M164.8 319.2l.9 .1l.7-19.9l-.6 7.3z"/><path color="#aac2cc" d="M167.6 319.6l.9 .2l1-12.8l-1-1.9z"/><path color="#5d42a4" d="M172.8 309.6l.8-2.3l.6-21.9l-1-1.8zM189.5 283.8l1.4 12.2l1.5-5.3l-.7 6.5z"/><path color="#769bc1" d="M172.2 309.7l.5-8.3l1.8 3.3l-1.1-4.3z"/><path color="#c2ced4" d="M245.6 314.8l.9 2.6l2.4 .1l-.9 1.2z"/><path color="#5d42a4" d="M179.8 291.6l1.1 4.3l1.4-7.4l-1.3-6.7z"/><path color="#769bc1" d="M233.3 315.3l.9-6.3l2.2-8l-.7 10.8z"/><path color="#7ba1c2" d="M168.6 309.4l.6-6.9l1.7 .7l-.7 3.9z"/><path color="#769bc1" d="M172.7 301.4l1.2 5.6l1.5-3l-.9 .7z"/><path color="#cbd2d7" d="M240.7 316.3l1.1 5l1.9-.6l-.9-3.1z"/><path color="#606eb8" d="M195.9 295.3l1.5 15.4l1.8 3.6l-1.8-21.9z"/><path color="#93b4c6" d="M209.5 312.3l.8-4l1.8 5.5l-1-2.2z"/><path color="#311339" d="M167.4 282.4l0-16.6l2.9 22.4l-.9 .7z"/><path color="#34113e" d="M153.5 302.6l.7-3.7l-.1-30.3l.8 28.1z"/><path color="#5b2f94" d="M156.5 279.4l1.3 6.2l1.7 .5l-.4 8.8z"/><path color="#93b4c6" d="M212.9 307.5l1 3.7l1.7 0l-1-2.4z"/><path color="#6d90c0" d="M157.4 317.8l1 .2l.6-18.3l-1.6-12.6z"/><path color="#637abb" d="M220.8 296l1.5 21.8l1.6 .3l-1.1-6.8z"/><path color="#5b2f94" d="M163.6 291.6l1.2 3.8l1.7 .4l-1.8-16.5z"/><path color="#cbd2d7" d="M225.3 315.9l1 3.2l1.6-.4l-1-3.6z"/><path color="#e2d9e2" d="M264.1 322.6l2.9 .5l3.1-1.6l-2.9-.5z"/><path color="#7ba1c2" d="M237.8 304.2l1.1 9.9l2.5 2.5l-1-5.2z"/><path color="#cbd2d7" d="M241.8 321.3l.8-4.2l2 .1l-.9 3.5z"/><path color="#7196c1" d="M234.2 309l1 4.6l2.4-.8l-1.2-11.8z"/><path color="#e2d9e2" d="M312.6 323.4l2.9 .4l5.6-2.9l-2.9-.5zM294.2 322.9l2.9 .5l3.8-2l-2.9-.5z"/><path color="#5f55af" d="M215.7 289.3l1.4 16.4l2 .5l-.8 4.1z"/><path color="#6786be" d="M199.7 304.4l.7-6.6l1.9 7l-1.2-8.4z"/><path color="#cbd2d7" d="M239.8 317.8l.9-1.5l2.1 1.3l-1 1.3z"/><path color="#471461" d="M178.2 274.5l1.8 18l2.2 11.8l-1.3-8.4z"/><path color="#e2d9e2" d="M278.8 322.9l2.9 .5l3.8-2l-2.9-.5z"/><path color="#572385" d="M195.6 298.8l.8-4.9l2.1 11.3l-1.9-26.4z"/><path color="#637abb" d="M187.6 296.8l.8-2.8l2 7.2l-1.2-5.1z"/><path color="#5e48a8" d="M173.6 307.3l.5-9.5l1.4-5.5l-1.3-6.9z"/><path color="#dcd9df" d="M253.1 320.6l2.9 .3l2.4 .7l-2.9-.5z"/><path color="#34113e" d="M154.9 296.7l-.8-28.1l2.4 10.8l.7 26.6z"/><path color="#6786be" d="M200.4 297.8l.9-.4l1.9 6.3l-.9 1.1z"/><path color="#8db0c5" d="M227.4 307.5l1 4.5l2-5.4l-.9 4.9z"/><path color="#aac2cc" d="M238.8 312l1 5.8l2 1.1l-.9-1.8z"/><path color="#7196c1" d="M173.9 307l.6-6.1l1.8 1.2l-.9 1.9z"/><path color="#5d3b9f" d="M193.8 298.4l.3-15.2l1.7 1.3l-.2 18.7z"/><path color="#d1d5da" d="M244.6 321l.9-.4l2-.5l-1-2.7z"/><path color="#6275ba" d="M172.6 303.4l.8-3l1.3-7.7l-.6 5.1z"/><path color="#531e7c" d="M165 301.3l-.3-22l2 6.3l-1.4-9.3zM175.5 295.4l.4-10.3l2.3 12.1l-1.9-20.4z"/><path color="#e2d9e2" d="M267 323.1l2.9 .4l3.1-1.6l-2.9-.4z"/><path color="#80a5c3" d="M197.4 305.2l1.1 4.9l1.5-4.2l-1-2.2z"/><path color="#431359" d="M182.9 298.1l-.2-24.8l2.4 16.4l-.7 5.5z"/><path color="#d1d5da" d="M245.5 320.6l1 1.9l1.9-5.2l-.9 2.8z"/><path color="#e2d9e2" d="M315.5 323.8l2.9 .5l5.6-3l-2.9-.4z"/><path color="#dcd9df" d="M256 320.9l2.9 2.4l2.3-1.2l-2.8-.5z"/><path color="#5e48a8" d="M204.7 287.4l1.8 25.7l1.7-.9l-1.4-12.5z"/><path color="#7196c1" d="M190.7 314.2l.4-11.8l2 7.8l-.9 .9zM169.2 302.5l.8-1.8l2.2 9l-1.3-6.5z"/><path color="#e2d9e2" d="M297.1 323.4l2.9 .5l3.8-2l-2.9-.5z"/><path color="#80a5c3" d="M213.9 311.2l.8-6l1.7 .8l-.8 5.2z"/><path color="#93b4c6" d="M225.9 313.4l1 1.7l1.5-3.1l-1-4.5z"/><path color="#5e48a8" d="M203.8 308.5l1.1 6.1l1.6-1.5l-1.8-25.7z"/><path color="#6a8bbf" d="M220.6 299.3l1.2 8.5l2-2.5l-1 .5z"/><path color="#501a74" d="M177.4 295.9l0-19.8l2.4 15.5l-.8 2.2z"/><path color="#e2d9e2" d="M281.7 323.4l2.9 .5l3.8-2l-2.9-.5z"/><path color="#3a1149" d="M162.3 270l2.7 31.3l.3-25l-.1 14.1z"/><path color="#381139" d="M163.6 280.5l.8-2.3l.8-16.2l.5 24.9z"/><path color="#3c113b" d="M166.5 269l1.3 6.8l2.7 19.2l-2.7-34.3z"/><path color="#7196c1" d="M203.3 315.2l.6-9.1l1.5-4.6l-.5 13.1z"/><path color="#3a1149" d="M175.1 289.6l.3-12.1l2.7 20.9l-2.3-28.5z"/><path color="#7ba1c2" d="M166.6 319.5l1 .1l.9-14.5l-1.5-11.1z"/><path color="#6a8bbf" d="M229.4 314.7l.7-14.8l2.1 7.6l-.7 8.7z"/><path color="#6275ba" d="M201.7 295.9l1.6 19.3l1.6-.6l-1.1-6.1z"/><path color="#6a8bbf" d="M165.8 306.7l.6-7.3l2.2 10l-1.1-3.2z"/><path color="#6275ba" d="M173.4 300.4l1.1 4.3l1.3-8.9l-1.1-3.1z"/><path color="#8db0c5" d="M223 311.3l.9-4.3l1.6 .1l-.8 6.9z"/><path color="#6d90c0" d="M208 300.1l1.1 7.2l1.7-.3l-1.1-3.4z"/><path color="#657fbd" d="M178.9 299.5l1.2 5.7l1.2-9.7l-.3 12.1z"/><path color="#93b4c6" d="M207.9 313.4l.9 .8l1.5-5.9l-.8 4z"/><path color="#531e7c" d="M166.5 295.8l.9-.3l.7-19.4l-.9 .1z"/><path color="#6a8bbf" d="M163 318.8l.9 .2l1-13.2l-2.2-22.4z"/><path color="#6d90c0" d="M205.4 301.5l1.2 7.4l1.4-8.8l-.5 15.5z"/><path color="#dcd9df" d="M248.3 320.7l2.9 2.6l1.9-2.7l-2.8 1.2z"/><path color="#637abb" d="M194.3 299.2l1.3 9.5l1.8 2l-1.5-15.4z"/><path color="#606eb8" d="M154.7 317.4l.9 .1l-.7-40.8l.1 16.8z"/><path color="#e2d9e2" d="M258.9 323.3l2.9 .5l2.3-1.2l-2.9-.5z"/><path color="#3f1251" d="M171.6 272.2l1.8 17.4l1.7 0l-.8 1.6z"/><path color="#5f5bb2" d="M209.6 290.9l1.5 20.7l1.8 3.4l-1.3-11.5z"/><path color="#572385" d="M156.8 280.1l1.9 16.7l2.3 9.8l-1.2-5.9z"/><path color="#c2ced4" d="M247.4 317.2l.9 3.5l2 1.1l-.9-.5z"/><path color="#6275ba" d="M219 307.2l.6-12.3l2.4 15.7l-1.2-13.4z"/><path color="#e2d9e2" d="M269.9 323.5l2.9 .5l3.1-1.6l-2.9-.5z"/><path color="#a3beca" d="M224.2 311.5l1.1 4.4l1.6-.8l-1-1.7z"/><path color="#c2ced4" d="M246.5 322.5l.9-5.3l2 4.1l-1-4z"/><path color="#8db0c5" d="M221.6 318.4l.8-6.6l1.5-4.8l-.9 4.3z"/><path color="#7196c1" d="M236 308.4l1 1.7l2.3-9.2l-.8 10.9z"/><path color="#5f55af" d="M214.6 308.8l1 2.4l1.5-5.5l-1.4-16.4z"/><path color="#6a8bbf" d="M193.1 310.2l.7-4.4l1.8 2.9l-1.3-9.5z"/><path color="#cbd2d7" d="M240.1 319.2l1 2.2l1.5-4.3l-.8 4.2z"/><path color="#769bc1" d="M165.7 319.3l.9 .2l.4-25.5l-.6 5.4z"/><path color="#657fbd" d="M216.4 306l.6-8.9l2 10.1l-.9 2.1z"/><path color="#e2d9e2" d="M318.4 324.3l2.9 .5l5.7-3l-3-.5zM300 323.9l2.9 .5l3.8-2l-2.9-.5z"/><path color="#a3beca" d="M237.8 312l1 0l2.1 5.1l-1-2.5z"/><path color="#6275ba" d="M219.6 294.9l1 4.4l2.2 6.5l-.8 4.8z"/><path color="#e2d9e2" d="M284.6 323.9l2.9 .5l3.8-2l-2.9-.5z"/><path color="#5d42a4" d="M187.3 295.3l.5-11.2l1.7-.3l-.3 14.6z"/><path color="#bbcad1" d="M243.6 316.2l1 4.8l1.9-3.6l-.9-2.6z"/><path color="#93b4c6" d="M219.9 318.3l.8-8.3l1.7 1.8l-.8 6.6z"/><path color="#cbd2d7" d="M239.2 318.4l.9 .8l1.7 2.1l-1.1-5z"/><path color="#86aac4" d="M201.7 315.8l.6-9.2l1.6-.5l-.6 9.1z"/><path color="#34113e" d="M170.5 271.2l.7-3l3.1 26.5l-1.3-8.3z"/><path color="#531e7c" d="M164.7 279.3l1.8 16.5l.7-19.6l-.5 9.4z"/><path color="#501a74" d="M167.2 276.2l.9-.1l1.9 4.4l-.2 14.1z"/><path color="#431359" d="M182.7 273.3l1.6 14.8l2.2 11.6l-1.4-10z"/><path color="#606eb8" d="M190.6 294.7l1.6 16.4l1.9 4.7l-1.8-20.9z"/><path color="#6068b6" d="M200 305.9l.4-13l2.4 18.3l-1.5-13.8z"/><path color="#6d90c0" d="M177.3 301.2l1.2 6.5l1.6-2.5l-1.2-5.7z"/><path color="#6786be" d="M199 303.7l1 2.2l1.3-8.5l-.9 .4z"/><path color="#bbcad1" d="M242.6 317.1l1-.9l2-1.4l-1 2.4z"/><path color="#637abb" d="M197.8 296.1l1.2 7.6l1.4-5.9l-.7 6.6z"/><path color="#6a8bbf" d="M231.2 311.2l.8-10.3l2.2 8.1l-.9 6.3z"/><path color="#3f1251" d="M170 280.5l.5-9.3l2.5 15.2l-1.3-7.7z"/><path color="#6a8bbf" d="M230.1 299.9l1.1 11.3l2.1 4.1l-1.1-7.8z"/><path color="#606eb8" d="M160.2 318.3l.9 .2l-.7-43.6l.6 27.6z"/><path color="#e2d9e2" d="M261.8 323.8l2.8 .5l2.4-1.2l-2.9-.5z"/><path color="#5e48a8" d="M174.2 285.4l1.3 6.9l1.9 3.6l-1.5-10.8z"/><path color="#341238" d="M161.3 286.4l-.3-22l2.6 16.1l-1.1-3.1z"/><path color="#5d42a4" d="M186.4 309.2l-.1-23l2.1 7.8l-.8 2.8z"/><path color="#e2d9e2" d="M272.8 324l2.9 .5l3.1-1.6l-2.9-.5z"/><path color="#59288d" d="M183.6 307.1l-.2-25.3l1.9 4.6l-.2 17.2z"/><path color="#311337" d="M166.7 285.6l.5-9.4l2.6 18.4l-2.4-28.8z"/><path color="#5d3b9f" d="M187.8 284.1l1.4 12l1.7-.1l-1.4-12.2z"/><path color="#9ab8c8" d="M206.1 310.2l1.1 3.6l1.6 .4l-.9-.8z"/><path color="#e2d9e2" d="M321.3 324.8l3 .5l5.6-3l-2.9-.5z"/><path color="#cbd2d7" d="M243 320.3l.9-1.5l1.6 1.8l-.9 .4z"/><path color="#3c113b" d="M165.2 262l1.3 7l1.3-8.3l1 35.8z"/><path color="#9ab8c8" d="M223.5 311.2l1.1 6.3l1.7 1.6l-1-3.2z"/><path color="#d6d7dd" d="M238.5 321.9l1 .7l1.6-1.2l-1-2.2zM239.5 322.6l1 1l1.5-4l-.9 1.8z"/><path color="#e2d9e2" d="M302.9 324.4l2.9 .5l3.9-2l-3-.5z"/><path color="#d6d7dd" d="M251.2 323.3l2.8-2.2l2-.2l-2.9-.3z"/><path color="#341238" d="M159.5 286.1l.7-4.7l.8-17l.3 22z"/><path color="#bbcad1" d="M238.2 315.6l1 2.8l1.5-2.1l-.9 1.5z"/><path color="#531e7c" d="M167.4 295.5l.4-9.8l1.4-5.9l-1.1-3.7z"/><path color="#4c176b" d="M165.1 277.6l2.4 28.6l1.8 1.3l-1-1z"/><path color="#e2d9e2" d="M287.5 324.4l2.9 .5l3.8-2l-2.9-.5z"/><path color="#7ba1c2" d="M195.6 304l1 1.3l1.9 4.8l-1.1-4.9z"/><path color="#cbd2d7" d="M243.9 318.8l1 1.4l1.6 2.3l-1-1.9z"/><path color="#7196c1" d="M237 310.1l.8-5.9l2.6 7.2l-1.1-10.5z"/><path color="#c2ced4" d="M242 319.6l1 .7l1.6 .7l-1-4.8z"/><path color="#769bc1" d="M188 312.4l.6-6.1l2.1 7.9l-1.5-11.4z"/><path color="#341238" d="M169.4 265.3l2.5 30.5l1.9 4.2l-2.6-31.8z"/><path color="#93b4c6" d="M175.9 321.1l.9 .1l.8-19.4l-.7 5.7zM176.8 321.2l1 .2l1.1-11.9l-1.3-7.7z"/><path color="#c2ced4" d="M241.1 321.4l.9-1.8l1.6-3.4l-1 .9z"/><path color="#7196c1" d="M203.9 306.1l1.2 6.1l1.5-3.3l-1.2-7.4z"/><path color="#3f1251" d="M152.6 313.7l-.2-16.5l1.4-5.8l-2-18.6z"/><path color="#5f55af" d="M200.3 310.5l.3-20l2.3 19.1l-1-1.4z"/><path color="#5f5bb2" d="M195.6 308.7l.3-17.3l1.9 4.7l-.4 14.6z"/><path color="#6275ba" d="M189.2 302.8l1.5 11.4l1.5-3.1l-1.6-16.4z"/><path color="#5e48a8" d="M202.9 309.6l.9-1.1l.9-21.1l-.3 15.9z"/><path color="#471461" d="M177.5 295.6l1.1 3l1.4-6.1l-1.8-18z"/><path color="#80a5c3" d="M212.2 309.9l.9-3.6l1.6-1.1l-.8 6z"/><path color="#d6d7dd" d="M240.5 323.6l.9 .2l1.6-3.5l-1-.7z"/><path color="#3f1251" d="M169.8 288.6l.7-3.3l1.1-13.1l.3 23.6z"/><path color="#5f5bb2" d="M209.1 307.3l.5-16.4l2 12.6l-.8 3.5z"/><path color="#7196c1" d="M188.6 306.3l1.3 6.9l1.2-10.8l-.4 11.8z"/><path color="#531e7c" d="M173.4 289.6l.3-11.7l1.7-.4l-.3 12.1z"/><path color="#93b4c6" d="M177.8 321.4l.9 .2l.7-19.7l-.5 7.6z"/><path color="#e2d9e2" d="M264.6 324.3l2.9 .4l2.4-1.2l-2.9-.4z"/><path color="#6786be" d="M198.9 312.9l1.1 4.1l1.7-1.2l-1.6-16z"/><path color="#471461" d="M157.8 285.6l.2-11.8l2.2 7.6l-.7 4.7z"/><path color="#6786be" d="M196.2 313.3l.9 .5l1.6-1.7l-1.4-13z"/><path color="#d1d5da" d="M237.6 319.6l.9 2.3l1.6-2.7l-.9-.8z"/><path color="#606eb8" d="M159 299.7l1 1.9l1.3-8.2l-.7 4.4z"/><path color="#769bc1" d="M236.8 304l1 8l2.1 2.6l-1-.5z"/><path color="#431359" d="M190.4 301.2l-.2-27.2l2.5 20.5l-1.1-4.1z"/><path color="#637abb" d="M162 318.7l1 .1l-.3-35.4l-.4 8.7z"/><path color="#769bc1" d="M233.1 308.9l.8-4.9l2.1 4.4l-.8 5.2z"/><path color="#6a8bbf" d="M232 300.9l1.1 8l2.1 4.7l-1-4.6z"/><path color="#80a5c3" d="M202.3 306.6l1.1 6.3l1.7-.7l-1.2-6.1z"/><path color="#e2d9e2" d="M275.7 324.5l2.9 .5l3.1-1.6l-2.9-.5z"/><path color="#6068b6" d="M199.1 302.5l1.2 8l1.6-2.3l-1.5-15.3z"/><path color="#572385" d="M172.7 290.6l.5-7l2.3 11.8l-1.8-17.5z"/><path color="#6068b6" d="M198.5 310.1l.6-7.6l1.3-9.6l-.4 13z"/><path color="#5d3b9f" d="M173.2 283.6l1 1.8l1.7-.3l-.4 10.3z"/><path color="#d6d7dd" d="M254 321.1l2.9 2l2 .2l-2.9-2.4z"/><path color="#657fbd" d="M168.5 319.8l.9 .2l-.3-38.3l.4 25.3z"/><path color="#e2d9e2" d="M324.3 325.3l2.9 .5l5.6-3l-2.9-.5z"/><path color="#bbcad1" d="M185.2 322.7l.9 .2l1.3-9l-1-1.8z"/><path color="#381139" d="M164.4 278.2l1.3 7.5l.8-16.7l-1.3-7z"/><path color="#3f1251" d="M158.2 288.6l1.6 12.1l.1-28.4l.4 24z"/><path color="#93b4c6" d="M194.4 311.5l.9-2l1.8 4.3l-.9-.5z"/><path color="#e2d9e2" d="M305.8 324.9l3 .5l3.8-2l-2.9-.5z"/><path color="#dfd9e1" d="M256.9 323.1l2.9 1.7l2-1l-2.9-.5z"/><path color="#d1d5da" d="M241.4 323.8l.9-.1l1.6-4.9l-.9 1.5z"/><path color="#6786be" d="M197.3 299.1l1.4 13l1.6-1.6l-1.2-8z"/><path color="#e2d9e2" d="M290.4 324.9l2.9 .5l3.8-2l-2.9-.5z"/><path color="#6068b6" d="M210.3 308.3l.5-13.6l2.1 12.8l-.8 6.3z"/><path color="#dcd9df" d="M237 324.1l.9-2l1.6 .5l-1-.7z"/><path color="#5f5bb2" d="M208.3 304.4l1.2 7.9l1.6-.7l-1.5-20.7zM152.4 297.2l.5-7.3l2 4.6l-1.1-3.1z"/><path color="#471461" d="M195.8 284.5l.8-5.7l2.9 23.4l-2-28.3z"/><path color="#5f55af" d="M226.1 290.7l1.3 16.8l2.1 4l-1-5.9z"/><path color="#59288d" d="M178.6 298.6l0-17.9l2.1 6.4l-.7 5.4z"/><path color="#bbcad1" d="M186.1 322.9l1 .1l1.2-10.8l-.9 1.7z"/><path color="#c2ced4" d="M244.9 320.2l.9-1.9l1.6-1.1l-.9 5.3z"/><path color="#7ba1c2" d="M235 310.2l1 1.5l1.8-7.5l-.8 5.9z"/><path color="#431359" d="M174.5 304.7l.9-.7l.3-29.1l.1 20.9z"/><path color="#5f55af" d="M225.5 307.1l.6-16.4l2.4 14.9l-.9 3.2z"/><path color="#d1d5da" d="M242.3 323.7l1 .4l1.6-3.9l-1-1.4zM236 320.8l1 3.3l1.5-2.2l-.9-2.3z"/><path color="#7196c1" d="M200 317l.5-13.4l1.8 3l-.6 9.2z"/><path color="#769bc1" d="M217 305.5l1.1 6.8l1.8 6l-.9 .8z"/><path color="#e2d9e2" d="M267.5 324.7l2.9 .5l2.4-1.2l-2.9-.5z"/><path color="#5f55af" d="M198.7 312.1l.9-1.4l1-20.2l-.3 20z"/><path color="#769bc1" d="M233.9 304l1.1 6.2l2-.1l-1-1.7z"/><path color="#311337" d="M165.3 276.3l1.4 9.3l.7-19.8l0 16.6z"/><path color="#80a5c3" d="M197.1 307.6l1.2 6.6l1.7 2.8l-1.1-4.1z"/><path color="#d6d7dd" d="M249.5 321.4l2.9 3.2l1.6-3.5l-2.8 2.2z"/><path color="#912f50" d="M164.8 295.4l-1.6-45.2l4.2 45.3l-.9 .3z"/><path color="#6068b6" d="M210.8 294.7l1.4 15.2l1.7 1.3l-1-3.7z"/><path color="#769bc1" d="M175 320.9l.9 .2l1-13.6l-1.7-16z"/><path color="#e2d9e2" d="M278.6 325l2.9 .5l3.1-1.6l-2.9-.5z"/><path color="#d1d5da" d="M238.8 320.6l1 3.5l1.6-.3l-.9-.2z"/><path color="#637abb" d="M206.4 297.7l1.5 15.7l1.6-1.1l-1.2-7.9z"/><path color="#bbcad1" d="M236.6 317l1 2.6l1.6-1.2l-1-2.8z"/><path color="#6068b6" d="M166.4 299.4l.6-5.4l2.2 8.5l-.6 6.9z"/><path color="#e2d9e2" d="M259.8 324.8l2.9 .5l1.9-1l-2.8-.5z"/><path color="#dcd9df" d="M239.8 324.1l.9-1.5l1.6 1.1l-.9 .1z"/><path color="#5f62b4" d="M161.1 318.5l.9 .2l.3-26.6l-1.9-17.2z"/><path color="#6275ba" d="M217 297.1l1.3 10.1l1.3-12.3l-.6 12.3z"/><path color="#5e48a8" d="M204.4 303.3l.3-15.9l2.1 12.3l-.9-.8z"/><path color="#93b4c6" d="M237.1 310.6l1.1 5l1.6 2.2l-1-5.8z"/><path color="#531e7c" d="M194.2 279.8l1.8 22.4l1.1-12.6l-.7 4.3z"/><path color="#d1d5da" d="M237.9 322.1l.9-1.5l1.7 3l-1-1z"/><path color="#6275ba" d="M200.1 299.8l1.6 16l1.6-.6l-1.6-19.3z"/><path color="#e2d9e2" d="M327.2 325.8l2.9 .5l5.6-3l-2.9-.5z"/><path color="#4c176b" d="M168.5 296l-.2-19.9l2.2 9.2l-.7 3.3z"/><path color="#431359" d="M175.8 295.8l-.1-20.9l2.9 23.7l-1.1-3z"/><path color="#5c359a" d="M186.1 283.5l1.5 13.3l1.6-.7l-1.4-12z"/><path color="#bbcad1" d="M246.6 316.3l2.9 5.1l1.7 1.9l-2.9-2.6z"/><path color="#6786be" d="M196.6 305.3l.7-6.2l1.8 3.4l-.6 7.6z"/><path color="#6275ba" d="M197.1 313.8l.3-16.9l2.2 13.8l-.9 1.4z"/><path color="#371143" d="M162.1 283.2l.2-13.2l2.9 20.4l-2-19.1z"/><path color="#e2d9e2" d="M308.8 325.4l2.9 .5l3.8-2.1l-2.9-.4z"/><path color="#d6d7dd" d="M194.5 324.3l1 .2l1.5-3.4l-1-1.5z"/><path color="#4c176b" d="M174.1 297.8l.6-5.1l1-15.9l-.2 15.5z"/><path color="#8db0c5" d="M201.8 313.7l.7-4.6l1.7 .1l-.8 3.7z"/><path color="#5f5bb2" d="M219 292.2l1.7 28l1.6-2.4l-1.5-21.8z"/><path color="#e2d9e2" d="M293.3 325.4l2.9 .5l3.8-2l-2.9-.5z"/><path color="#431359" d="M177.4 276.1l.8-1.6l2.7 21.4l-1.1-4.3z"/><path color="#6786be" d="M223 300.2l1.2 11.3l1.7 1.9l-1-2.8z"/><path color="#9ab8c8" d="M204.5 312.7l1 2.2l1.7-1.1l-1.1-3.6z"/><path color="#59288d" d="M181.3 295.5l.9-2l1.2-11.7l.2 25.3z"/><path color="#6d90c0" d="M193.6 312.9l.8-1.4l1.8 1.8l-1.4-11.7z"/><path color="#dcd9df" d="M195.5 324.5l.9 .1l1.5-3.8l-.9 .3z"/><path color="#7196c1" d="M236 311.7l.8-7.7l2.1 10.1l-1.1-9.9z"/><path color="#637abb" d="M203.4 312.9l.8-3.7l1.3-11.5l-.4 14.5z"/><path color="#4c176b" d="M174.7 292.7l1.1 3.1l1.7-.2l-1.8-18.8z"/><path color="#501a74" d="M179.5 278.6l2 23.6l1.6-2.7l-1.9-21.4z"/><path color="#dcd9df" d="M235.4 324.9l.9 .1l1.6-2.9l-.9 2z"/><path color="#531e7c" d="M173.7 277.9l1.8 17.5l.8-18.6l-.9 .7z"/><path color="#59288d" d="M170 300.7l0-17.4l2.7 18.1l-.5 8.3z"/><path color="#d6d7dd" d="M252.4 324.6l2.9 .1l1.6-1.6l-2.9-2z"/><path color="#5f55af" d="M224.9 310.6l1 2.8l1.5-5.9l-1.3-16.8z"/><path color="#606eb8" d="M219.8 295.1l1 .9l2 15.3l-1-3.5z"/><path color="#dcd9df" d="M240.7 322.6l1 .1l1.6 1.4l-1-.4z"/><path color="#5f55af" d="M206.6 308.9l.3-18l2.2 16.4l-1.1-7.2z"/><path color="#e2d9e2" d="M270.4 325.2l2.9 .5l2.4-1.2l-2.9-.5z"/><path color="#4c176b" d="M164.9 305.8l.9 .9l1.7-.5l-2.4-28.6z"/><path color="#cbd2d7" d="M243.3 324.1l.9-3.5l1.6-2.3l-.9 1.9z"/><path color="#471461" d="M158.7 296.8l.3-10.7l1.2-10.1l.8 30.6z"/><path color="#8db0c5" d="M191.7 309.4l1.2 5.5l1.5-3.4l-.8 1.4z"/><path color="#572385" d="M194.1 283.2l1.5 15.6l1-20l-.8 5.7z"/><path color="#5d42a4" d="M183.9 290.1l1.2 6.9l1.2-10.8l.1 23z"/><path color="#93b4c6" d="M218.1 312.3l.9-1.3l1.7-1l-.8 8.3z"/><path color="#e2d9e2" d="M281.5 325.5l2.9 .5l3.1-1.6l-2.9-.5z"/><path color="#5f5bb2" d="M195.9 291.4l1.5 13.8l1.6-1.5l-1.2-7.6zM226.3 319.1l.7-10.8l1.3-15.2l-.4 25.6z"/><path color="#531e7c" d="M160.6 297.8l.7-4.4l.9-14.3l.2 20z"/><path color="#e2d9e2" d="M330.1 326.3l2.3 .4l5.6-3l-2.3-.4zM262.7 325.3l2.9 .5l1.9-1.1l-2.9-.4z"/><path color="#b3c6ce" d="M245.8 318.3l.8-2l1.7 4.4l-.9-3.5z"/><path color="#6068b6" d="M167 294l1.5 11.1l1.5-4.4l-.8 1.8z"/><path color="#6786be" d="M222.4 311.8l.6-11.6l1.9 10.4l-1-3.6z"/><path color="#5d3b9f" d="M156.5 317.7l.9 .1l0-30.7l-2.3-23z"/><path color="#4c176b" d="M184.1 277.3l2.3 31.9l1.2-12.4l-1.5-13.3z"/><path color="#dfd9e1" d="M255.3 324.7l2.9 .9l1.6-.8l-2.9-1.7z"/><path color="#3f1251" d="M188.4 294l.8-3.6l1-16.4l.2 27.2z"/><path color="#637abb" d="M169.4 320l.9 .1l.6-22l-1.8-16.4z"/><path color="#5f5bb2" d="M227.9 318.7l.4-25.6l1.8 6.8l-.7 14.8z"/><path color="#e2d9e2" d="M311.7 325.9l2.9 .5l3.8-2.1l-2.9-.5z"/><path color="#6a8bbf" d="M194.2 309.8l.6-8.2l1.8 3.7l-1-1.3z"/><path color="#e2d9e2" d="M296.2 325.9l2.9 .5l3.8-2l-2.9-.5z"/><path color="#6068b6" d="M191.1 302.4l.6-7.6l2.1 11l-.7 4.4z"/><path color="#7196c1" d="M200.5 303.6l1.3 10.1l1.6-.8l-1.1-6.3z"/><path color="#d1d5da" d="M196.4 324.6l.9 .2l1.5-7.2l-.9 3.2z"/><path color="#5b2f94" d="M174.5 300.9l.9-.9l.9-16.8l0 18.9z"/><path color="#59288d" d="M170 283.3l1.9 18l2 5.7l-1.2-5.6z"/><path color="#5f55af" d="M223.9 307l1 3.6l1.2-19.9l-.6 16.4z"/><path color="#5d3b9f" d="M177.3 286.2l1.6 13.3l2.1 8.1l-2-22.1z"/><path color="#7196c1" d="M198.3 314.2l.7-3.8l1.5-6.8l-.5 13.4z"/><path color="#4c176b" d="M175.5 292.3l.2-15.5l1.7-.7l0 19.8z"/><path color="#657fbd" d="M172.2 320.4l.9 .2l-.1-36.7l-.1 16.3z"/><path color="#8db0c5" d="M192.9 314.9l.8-3.7l1.6-1.7l-.9 2z"/><path color="#93b4c6" d="M235.6 316.7l1 .3l1.6-1.4l-1.1-5z"/><path color="#3f1251" d="M168.1 276.1l1.1 3.7l1.3-8.6l-.5 9.3z"/><path color="#6a8bbf" d="M224.6 317.5l.6-14.7l1.8 5.5l-.7 10.8z"/><path color="#572385" d="M192.8 288.8l1.3 9.5l1.9 3.9l-1.8-22.4z"/><path color="#531e7c" d="M156.3 287.1l.5-7l3 20.6l-1.6-12.1z"/><path color="#7196c1" d="M186.8 304.1l1.2 4.8l1.9 4.3l-1.3-6.9z"/><path color="#6275ba" d="M171.3 320.3l.9 .1l.7-20.2l-1.9-19zM170.3 320.1l1 .2l-.3-39.1l-.1 16.9z"/><path color="#5e4eab" d="M200.6 290.5l1.1 5.4l2.1 12.6l-.9 1.1z"/><path color="#8db0c5" d="M222 317.4l.8-6.8l1.8 6.9l-1.1-6.3z"/><path color="#7196c1" d="M199 310.4l1.3 8.4l1.5-5.1l-1.3-10.1z"/><path color="#6275ba" d="M218.3 307.2l.7-8.6l1.6 .7l-1-4.4z"/><path color="#5d42a4" d="M178.5 307.7l.3-13.7l1.4-6.7l-.1 17.9z"/><path color="#e2d9e2" d="M233.8 325.7l.9 .1l1.6-.8l-.9-.1z"/><path color="#769bc1" d="M178.7 321.6l.9 .1l.5-26l-.7 6.2z"/><path color="#bbcad1" d="M234.3 317.4l1.1 7.5l1.6-.8l-1-3.3z"/><path color="#e2d9e2" d="M273.3 325.7l2.9 .5l2.4-1.2l-2.9-.5z"/><path color="#5c359a" d="M185.3 286.4l.8-2.9l1.7 .6l-.5 11.2z"/><path color="#6d90c0" d="M222.4 303.2l1.1 8l1.8 4.7l-1.1-4.4z"/><path color="#5d42a4" d="M180.1 305.2l.1-17.9l2 6.2l-.9 2z"/><path color="#dfd9e1" d="M250.9 324.3l2.8 .7l1.6-.3l-2.9-.1z"/><path color="#e2d9e2" d="M284.4 326l2.9 .5l3.1-1.6l-2.9-.5z"/><path color="#3c113b" d="M169.7 284.6l1.8 16.1l1.2-10.1l-2.3-25.7z"/><path color="#3f1251" d="M181.2 278.1l1.9 21.4l1.2-11.4l-1.6-14.8zM180.7 287.1l.5-9l1.5-4.8l.2 24.8z"/><path color="#657fbd" d="M194.8 301.6l1.4 11.7l1.1-14.2l-.7 6.2z"/><path color="#431359" d="M156.8 281.5l1.4 7.1l2.1 7.7l-2.2-22.1z"/><path color="#d1d5da" d="M241.7 322.7l.9-1.4l1.6-.7l-.9 3.5zM197.3 324.8l1 .2l1.5-5l-1-2.4z"/><path color="#5f5bb2" d="M217.5 297.3l1.5 21.8l1.7 1.1l-1.7-28z"/><path color="#e2d9e2" d="M265.6 325.8l2.9 .5l1.9-1.1l-2.9-.5z"/><path color="#606eb8" d="M219 298.6l.8-3.5l2 12.7l-1.2-8.5z"/><path color="#dfd9e1" d="M258.2 325.6l2.9-.6l1.6 .3l-2.9-.5z"/><path color="#d6d7dd" d="M198.3 325l.9 .1l1.5-5.8l-.9 .7z"/><path color="#311339" d="M152.6 300.8l-.8-28l1.5-3.6l.9 29.7z"/><path color="#6786be" d="M210.5 301.6l1.4 15.5l1.6-4.7l-1-1.3z"/><path color="#cbd2d7" d="M247.9 319.9l3 4.4l1.5 .3l-2.9-3.2z"/><path color="#7196c1" d="M200.3 318.8l.4-14l1.8 4.3l-.7 4.6z"/><path color="#471461" d="M160.2 276l2.2 23.1l1.4-6.8l-1.5-10.8z"/><path color="#e2d9e2" d="M314.6 326.4l3 .4l3.7-2l-2.9-.5z"/><path color="#dcd9df" d="M238.2 323.9l.9-.1l1.6-1.2l-.9 1.5z"/><path color="#d1d5da" d="M236.3 325l.9-3.3l1.6-1.1l-.9 1.5z"/><path color="#8db0c5" d="M204 318.1l.6-8l1.8 2.4l-.9 2.4zM193.7 311.2l1 2.2l1.6-1.6l-1-2.3z"/><path color="#e2d9e2" d="M299.1 326.4l2.9 .5l3.8-2l-2.9-.5z"/><path color="#b3c6ce" d="M244.2 320.6l.9 1.8l1.5-6.1l-.8 2z"/><path color="#80a5c3" d="M236.1 307.4l1 3.2l1.7 1.4l-1 0z"/><path color="#4c176b" d="M183.2 294.9l.7-4.8l2.5 19.1l-2.3-31.9z"/><path color="#606eb8" d="M212.5 311.1l1 1.3l1.5-3.1l-1.3-13.3z"/><path color="#5f55af" d="M205.1 312.2l.4-14.5l1.4-6.8l-.3 18z"/><path color="#471461" d="M159 286.1l1.6 11.7l1.8 1.3l-2.2-23.1z"/><path color="#501a74" d="M162.4 299.1l-.2-20l1.8 0l-.2 13.2z"/><path color="#5d42a4" d="M157.4 287.1l1.6 12.6l1.6-1.9l-1.6-11.7z"/><path color="#a3beca" d="M190.8 323.7l.9 .1l1.3-11l-1.2-5.2z"/><path color="#381139" d="M167.8 269.2l2 19.4l2.1 7.2l-2.5-30.5z"/><path color="#d1d5da" d="M237.2 321.7l1 2.2l1.6 .2l-1-3.5z"/><path color="#769bc1" d="M184.3 322.5l.9 .2l1.2-10.6l-1.7-18.6z"/><path color="#5d42a4" d="M176.2 298l1.1 3.2l1.6-1.7l-1.6-13.3z"/><path color="#dcd9df" d="M239.1 323.8l1 1.9l1.6-3l-1-.1z"/><path color="#59288d" d="M168.5 305.1l1 1.9l.5-23.7l0 17.4z"/><path color="#5b2f94" d="M155.6 317.5l.9 .2l-1.4-53.6l-.2 12.6z"/><path color="#6275ba" d="M195.3 309.5l1 2.3l1.1-14.9l-.3 16.9z"/><path color="#dfd9e1" d="M253.7 325l2.9 1.4l1.6-.8l-2.9-.9z"/><path color="#b3c6ce" d="M245.1 322.4l2.8-2.5l1.6 1.5l-2.9-5.1z"/><path color="#d1d5da" d="M234.7 325.8l1 .2l1.5-4.3l-.9 3.3z"/><path color="#e2d9e2" d="M276.2 326.2l2.9 .5l2.4-1.2l-2.9-.5z"/><path color="#7196c1" d="M235.3 313.8l.8-6.4l1.7 4.6l-1-8z"/><path color="#471461" d="M193.1 276.1l1.1 3.7l2.2 14.1l-.8 4.9z"/><path color="#852650" d="M161.2 251.3l2 20l2.5 14.4l-1.3-7.5z"/><path color="#637abb" d="M204.9 303.1l1.2 7.1l1.8 3.2l-1.5-15.7z"/><path color="#a3beca" d="M193.6 324.2l.9 .1l1.5-4.7l-1.5-14.4z"/><path color="#6d90c0" d="M203.5 309.9l1 2.8l1.6-2.5l-1.2-7.1z"/><path color="#471461" d="M171.9 301.3l-.3-22.7l2.9 22.3l-.6 6.1z"/><path color="#657fbd" d="M192.1 299.3l1.5 13.6l1.2-11.3l-.6 8.2z"/><path color="#5e48a8" d="M193.8 305.8l.3-16.5l1.8 2.1l-.3 17.3z"/><path color="#e2d9e2" d="M287.3 326.5l2.9 .5l3.1-1.6l-2.9-.5z"/><path color="#a3beca" d="M217.8 316.8l1.1 4.7l1.5-2.2l-1.1-5.8z"/><path color="#86aac4" d="M219.3 313.5l1.1 5.8l1.6-1.9l-1.1-8.2z"/><path color="#cbd2d7" d="M199.2 325.1l1 .2l1.3-8l-.8 2z"/><path color="#80a5c3" d="M187.1 323l.9 .2l.6-25.8l-.3 14.8z"/><path color="#e2d9e2" d="M268.5 326.3l2.9 .4l1.9-1l-2.9-.5z"/><path color="#dfd9e1" d="M261.1 325l2.9 1.6l1.6-.8l-2.9-.5z"/><path color="#3c113b" d="M170.4 264.9l2.3 25.7l1-12.7l-.3 11.7z"/><path color="#6275ba" d="M205.5 314.9l.9-2.4l1.2-14.5l-.4 15.8z"/><path color="#606eb8" d="M197.4 296.9l1.5 16l1.2-13.1l-.5 10.9z"/><path color="#e2d9e2" d="M317.6 326.8l2.9 .5l3.8-2l-3-.5z"/><path color="#bbcad1" d="M232.8 323.3l1 2.4l1.6-.8l-1.1-7.5z"/><path color="#769bc1" d="M232.4 308.1l.9-2.7l1.7 4.8l-1.1-6.2z"/><path color="#93b4c6" d="M233.1 317.4l.8-4.9l1.7 4.2l-1-2.7zM213 315.1l1 .2l1.5-4l-.8 4.6z"/><path color="#6275ba" d="M216.3 312.2l.7-6.7l2 13.6l-1.5-21.8z"/><path color="#e2d9e2" d="M302 326.9l3 .5l3.8-2l-3-.5z"/><path color="#80a5c3" d="M234.6 314l1 2.7l1.5-6.1l-1-3.2z"/><path color="#6d90c0" d="M202.5 309.1l1 .8l1.4-6.8l-.7 6.1z"/><path color="#6a8bbf" d="M233.3 305.4l.9-3.3l1.8 9.6l-1-1.5z"/><path color="#371143" d="M160 301.6l1 .9l.1-29.2l.2 20.1z"/><path color="#769bc1" d="M234.8 307.1l1.2 13.7l1.6-1.2l-1-2.6z"/><path color="#6a8bbf" d="M234.2 302.1l1.1 11.7l1.5-9.8l-.8 7.7z"/><path color="#cbd2d7" d="M201.1 325.5l.9 .1l1.6-3.6l-1.1-5.5z"/><path color="#769bc1" d="M214.7 315.9l.8-4.6l1.5-5.8l-.7 6.7z"/><path color="#3f1251" d="M175.4 304l.9-1.9l.6-22.1l-1.2-5.1z"/><path color="#657fbd" d="M202.4 300.9l1.6 17.2l1.5-3.2l-1-2.2z"/><path color="#531e7c" d="M152.9 289.9l.9-.1l1.1-10.7l0 15.4z"/><path color="#6068b6" d="M210.5 306.3l.6-10.5l2 10.5l-.9 3.6z"/><path color="#bbcad1" d="M242.6 321.3l.8-3.1l1.7 4.2l-.9-1.8z"/><path color="#606eb8" d="M196.3 311.8l.8-4.2l1.8 5.3l-1.5-16z"/><path color="#6068b6" d="M208.8 314.2l.4-18.7l1.6-.8l-.5 13.6z"/><path color="#dfd9e1" d="M256.6 326.4l2.9 .5l1.6-1.9l-2.9 .6z"/><path color="#d1d5da" d="M235.7 326l.9-1.8l1.6-.3l-1-2.2z"/><path color="#5f55af" d="M206.9 290.9l1.4 13.5l1.3-13.5l-.5 16.4z"/><path color="#e2d9e2" d="M279.1 326.7l2.9 .5l2.4-1.2l-2.9-.5z"/><path color="#8db0c5" d="M191.7 323.8l1 .2l.8-21l-.5 9.8z"/><path color="#cbd2d7" d="M202 325.6l1 .2l1.3-9.5l-.7 5.7z"/><path color="#b3c6ce" d="M216.2 319.6l1 .7l1.7 1.2l-1.1-4.7z"/><path color="#7ba1c2" d="M194.7 313.4l.7-6.3l1.7 .5l-.8 4.2z"/><path color="#e2d9e2" d="M264 326.6l2.9 .5l1.6-.8l-2.9-.5z"/><path color="#c2ced4" d="M200.2 325.3l.9 .2l1.4-9l-1 .8z"/><path color="#e2d9e2" d="M290.2 327l2.9 .5l3.1-1.6l-2.9-.5z"/><path color="#3c113b" d="M166.9 299.2l-.9-33.6l2.3 10.5l.2 19.9z"/><path color="#e2d9e2" d="M271.4 326.7l2.9 .5l1.9-1l-2.9-.5z"/><path color="#7ba1c2" d="M212 313.4l1 1.7l1.7 .8l-1.2-9.1z"/><path color="#5c359a" d="M214.7 305.2l.4-18.9l1.9 10.8l-.6 8.9z"/><path color="#dcd9df" d="M236.6 324.2l.9 .2l1.6-.6l-.9 .1z"/><path color="#7ba1c2" d="M195.4 307.1l1.1 4.5l1.8 2.6l-1.2-6.6z"/><path color="#d1d5da" d="M232.1 322.2l1 4.5l1.6-.9l-.9-.1z"/><path color="#572385" d="M188.2 285.7l1.7 17.3l.7-22.4l-.5 10.2z"/><path color="#e2d9e2" d="M320.5 327.3l2.9 .5l3.8-2l-2.9-.5z"/><path color="#6d90c0" d="M220.9 309.2l1.1 8.2l1.5-6.2l-1.1-8z"/><path color="#6068b6" d="M207.2 313.8l.4-15.8l1.6-2.5l-.4 18.7z"/><path color="#e2d9e2" d="M305 327.4l2.9 .5l3.8-2l-2.9-.5z"/><path color="#6068b6" d="M215 309.3l.9-.7l1.3-13.5l-.9 1.8z"/><path color="#7196c1" d="M232.1 316.1l1 1.3l1.5-3.4l-1.1-8.7z"/><path color="#769bc1" d="M220.4 319.3l.7-11.7l1.7 3l-.8 6.8z"/><path color="#606eb8" d="M174 320.8l1 .1l.2-29.4l-1.4-9.4z"/><path color="#3c113b" d="M165.7 291.6l.8-2.4l2.4 13.6l-2.9-37.2z"/><path color="#86aac4" d="M189.9 323.5l.9 .2l1-16.1l-1.2-6.5z"/><path color="#6068b6" d="M216.3 296.9l.9-1.8l1.8 3.5l-.7 8.6z"/><path color="#7196c1" d="M233.5 305.3l1.1 8.7l1.5-6.6l-.8 6.4z"/><path color="#5e48a8" d="M194.1 289.3l1.5 14.7l1.8 1.2l-1.5-13.8z"/><path color="#d1d5da" d="M233.1 326.7l.9-3.9l1.7 3.2l-1-.2z"/><path color="#42123e" d="M190.2 274l.6-8.7l3 33.1l-1.1-3.9z"/><path color="#c2ced4" d="M203 325.8l.9 .2l1.5-6l-1.1-3.7z"/><path color="#769bc1" d="M216.3 306.4l1.2 7.4l1.5-2.8l-.9 1.3z"/><path color="#cbd2d7" d="M237.5 324.4l.9-2.3l1.7 3.6l-1-1.9z"/><path color="#6b1b4d" d="M158.9 272.7l1.8 16l1.4-5.5l-2.4-27.3z"/><path color="#6d90c0" d="M196.5 311.6l.6-7.1l1.9 5.9l-.7 3.8z"/><path color="#852650" d="M161 264.4l.2-13.1l3.2 26.9l-.8 2.3z"/><path color="#471461" d="M171.6 278.6l2.1 22.8l1.7-1.4l-.9 .9z"/><path color="#7ba1c2" d="M191.8 307.6l1.2 5.2l1.7 .6l-1-2.2z"/><path color="#dfd9e1" d="M259.5 326.9l2.9 .5l1.6-.8l-2.9-1.6z"/><path color="#531e7c" d="M153.8 289.8l1.2 3.7l1.3-6.4l-1.4-8z"/><path color="#3c113b" d="M170.5 285.3l-.1-20.4l3 24.7l-1.8-17.4z"/><path color="#d1d5da" d="M249.2 323.5l2.9-.6l1.6 2.1l-2.8-.7z"/><path color="#e2d9e2" d="M282 327.2l2.9 .5l2.4-1.2l-2.9-.5z"/><path color="#431359" d="M192.2 277.5l.9-1.4l2.5 22.7l-1.5-15.6z"/><path color="#e2d9e2" d="M266.9 327.1l2.9 .5l1.6-.9l-2.9-.4z"/><path color="#a3beca" d="M240.1 325.7l.8-10.1l1.7 5.7l-.9 1.4z"/><path color="#e2d9e2" d="M293.1 327.5l2.9 .5l3.1-1.6l-2.9-.5z"/><path color="#963350" d="M163.2 250.2l2.6 31l2 4.5l-.4 9.8z"/><path color="#5f62b4" d="M189.9 313.2l.1-18l1.7-.4l-.6 7.6z"/><path color="#531e7c" d="M189.9 303l.1-18.1l1.9 5l-1.3-9.3z"/><path color="#5f5bb2" d="M228.3 293.1l1.2 11.5l1.7 6.6l-1.1-11.3z"/><path color="#501a74" d="M154.9 279.1l1.4 8l1.9 1.5l-1.4-7.1z"/><path color="#d1d5da" d="M252.1 322.9l2.9 4.3l1.6-.8l-2.9-1.4z"/><path color="#e2d9e2" d="M274.3 327.2l2.9 .5l1.9-1l-2.9-.5z"/><path color="#cbd2d7" d="M231.1 322.5l1-.3l1.7 3.5l-1-2.4z"/><path color="#5b2f94" d="M213.5 312.4l.2-25.4l2.2 21.6l-.9 .7z"/><path color="#769bc1" d="M233.9 312.5l.9-5.4l1.8 9.9l-1-.3z"/><path color="#7ba1c2" d="M218.9 321.5l.7-7.6l1.5-6.3l-.7 11.7z"/><path color="#93b4c6" d="M215.3 320.2l.9-.6l1.6-2.8l-1.1-4.2z"/><path color="#e2d9e2" d="M255 327.2l2.9 .1l1.6-.4l-2.9-.5z"/><path color="#c2ced4" d="M203.9 326l1 .1l1.3-10.9l-.8 4.8z"/><path color="#d1d5da" d="M234 322.8l1 4.2l1.6-2.8l-.9 1.8z"/><path color="#e2d9e2" d="M323.4 327.8l3 .5l3.7-2l-2.9-.5z"/><path color="#5f5bb2" d="M231.1 293.6l1.3 14.5l1.5-4.1l-.8 4.9z"/><path color="#e2d9e2" d="M307.9 327.9l2.9 .5l3.8-2l-2.9-.5z"/><path color="#a3beca" d="M206.2 315.2l1.1 5.5l1.7 1.6l-1-3.1z"/><path color="#6068b6" d="M173.1 320.6l.9 .2l-.2-38.7l-.8 1.8z"/><path color="#311337" d="M154.1 268.6l.9-.9l2.8 17.9l-1.3-6.2z"/><path color="#a54450" d="M159.8 300.7l1.2 5.9l-1.6-59.7l.5 25.4z"/><path color="#6068b6" d="M209.2 295.5l1.3 10.8l1.7 3.6l-1.4-15.2z"/><path color="#5e4eab" d="M199.6 310.7l.5-10.9l1.6-3.9l-1.1-5.4z"/><path color="#5f55af" d="M229.5 304.6l.7-12.1l1.8 8.4l-.8 10.3z"/><path color="#431359" d="M175.7 276.8l1.8 18.8l.7-21.1l-.8 1.6z"/><path color="#9ab8c8" d="M217.2 320.3l.8-3.5l1.6-2.9l-.7 7.6z"/><path color="#6275ba" d="M181.5 322.1l.9 .1l-.2-41.5l.1 22.9z"/><path color="#963350" d="M162.3 281.5l1.5 10.8l-.6-42.1l1.6 45.2z"/><path color="#606eb8" d="M197 321.1l.9-.3l1.4-8.6l-1.4-13.5z"/><path color="#59288d" d="M175.4 300l.8-2l1.1-11.8l-1-3z"/><path color="#c2ced4" d="M204.9 326.1l.9 .2l1.5-5.6l-1.1-5.5z"/><path color="#6275ba" d="M204.2 309.2l.7-6.1l1.5-5.4l-.9 0z"/><path color="#769bc1" d="M233.4 319.6l.9-2.2l1.7 3.4l-1.2-13.7z"/><path color="#dfd9e1" d="M262.4 327.4l2.9 0l1.6-.3l-2.9-.5z"/><path color="#5b2f94" d="M211.9 317.1l.8-7.3l1-22.8l-.2 25.4z"/><path color="#6068b6" d="M213.5 306.8l1.2 9.1l1.6-3.7l-1.4-16.1z"/><path color="#86aac4" d="M192.7 324l.9 .2l.9-19l-1-2.2z"/><path color="#381139" d="M167.8 285.7l0-16.5l1.6-3.9l-.2 14.5z"/><path color="#769bc1" d="M215.5 311.3l.8-4.9l1.8 5.9l-1.1-6.8z"/><path color="#a54450" d="M159.4 246.9l2.9 34.6l2.5 13.9l-1.2-3.8z"/><path color="#5d42a4" d="M186.4 312.1l1 1.8l.7-23.7l-.1 18.7z"/><path color="#5e48a8" d="M192.5 291.4l1.7 18.4l1.4-5.8l-1.5-14.7z"/><path color="#6068b6" d="M211.1 295.8l1.4 15.3l1.2-15.1l-.6 10.3z"/><path color="#d6d7dd" d="M235 327l.9-3.1l1.6 .5l-.9-.2z"/><path color="#e2d9e2" d="M284.9 327.7l3 .5l2.3-1.2l-2.9-.5z"/><path color="#9ab8c8" d="M243.4 318.2l2.9-3.3l1.6 5l-2.8 2.5z"/><path color="#5c359a" d="M215.1 286.3l1.2 10.6l2 10.3l-1.3-10.1z"/><path color="#9ab8c8" d="M246.3 314.9l2.9 8.6l1.7 .8l-3-4.4z"/><path color="#e2d9e2" d="M269.8 327.6l2.9 .5l1.6-.9l-2.9-.5z"/><path color="#42123e" d="M166 265.6l2.9 37.2l.8-18.2l-1.4-8.5z"/><path color="#5f62b4" d="M180.5 321.9l1 .2l.8-18.5l-2.2-27.6z"/><path color="#e2d9e2" d="M296 328l3 .5l3-1.6l-2.9-.5z"/><path color="#c6896c" d="M158.6 234.4l4.1 56.6l2.3 10.3l-2.7-31.3z"/><path color="#e2d9e2" d="M277.2 327.7l2.9 .5l1.9-1l-2.9-.5z"/><path color="#a3beca" d="M214.6 322l.8-5.5l1.8 3.8l-1-.7z"/><path color="#769bc1" d="M214 315.3l.8-3l1.5-5.9l-.8 4.9z"/><path color="#6786be" d="M209.1 308.5l.8-2.5l2 11.1l-1.4-15.5z"/><path color="#e2d9e2" d="M326.4 328.3l2.3 .4l3.7-2l-2.3-.4z"/><path color="#657fbd" d="M190.6 301.1l1.2 6.5l1.9 3.6l-.8 3.7z"/><path color="#711d4f" d="M165.5 257.4l3 38.6l1.3-7.4l-2-19.4z"/><path color="#501a74" d="M174.6 280.9l1.3 9.2l2.6 17.6l-1.2-6.5z"/><path color="#e2d9e2" d="M257.9 327.3l2.9 .9l1.6-.8l-2.9-.5z"/><path color="#371143" d="M173.7 301.4l-.4-26.2l2.9 22.8l-.8 2z"/><path color="#5f5bb2" d="M227 308.3l.9-.5l1.6-3.2l-1.2-11.5z"/><path color="#d1d5da" d="M247.7 327l2.8-1l1.6-3.1l-2.9 .6z"/><path color="#e2d9e2" d="M310.8 328.4l3 .5l3.8-2.1l-3-.4z"/><path color="#80a5c3" d="M230.4 309.9l.9 .6l1.8 6.9l-1-1.3z"/><path color="#657fbd" d="M183.3 322.4l1 .1l.4-29l-1.1-3.4z"/><path color="#3f1251" d="M175.7 274.9l1.2 5.1l1.7 .7l0 17.9z"/><path color="#dcd9df" d="M212.4 327.4l.9 .2l1.6-4.1l-.9 .7z"/><path color="#86aac4" d="M231.3 310.5l1.1 5.1l1.5-3.1l-.8 4.9z"/><path color="#381139" d="M169.2 279.8l.2-14.5l1.8 2.9l-.7 3z"/><path color="#34113e" d="M177.5 272.3l1.5 13.2l2.5 16.7l-2-23.6z"/><path color="#5b2f94" d="M180.2 287.3l.8-2.9l2.2 10.5l-1-1.4z"/><path color="#5c359a" d="M213.1 306.3l.6-10.3l1.4-9.7l-.4 18.9z"/><path color="#501a74" d="M178.6 280.7l.9-2.1l1.7-.5l-.5 9z"/><path color="#42123e" d="M190.8 265.3l1.4 12.2l1.9 5.7l-.3 15.2z"/><path color="#5f55af" d="M184.7 293.5l1.7 18.6l1.6-3.2l-1.2-4.8z"/><path color="#8db0c5" d="M214.2 315.7l1.1 4.5l1.4-7.6l-1-1.5z"/><path color="#5e4eab" d="M205.5 297.7l.9 0l1.9 6.7l-1.4-13.5z"/><path color="#471461" d="M182.2 293.5l1 1.4l.9-17.6l-.7 4.5z"/><path color="#5d3b9f" d="M220.7 310l.4-20.3l1.9 10.5l-.6 11.6z"/><path color="#606eb8" d="M197.1 304.5l.8-5.8l2.4 20.1l-1.3-8.4z"/><path color="#6d90c0" d="M188.9 323.3l1 .2l.7-22.4l-1.2-7.8z"/><path color="#dfd9e1" d="M265.3 327.4l2.9 .7l1.6-.5l-2.9-.5z"/><path color="#606eb8" d="M196 319.6l1 1.5l.9-22.4l-.8 5.8zM197.9 298.7l1.4 13.5l1.4-7.4l-.4 14z"/><path color="#471461" d="M184.9 280.1l1.9 24l1.8 2.2l-.6 6.1z"/><path color="#d1d5da" d="M250.5 326l3 2l1.5-.8l-2.9-4.3z"/><path color="#5f55af" d="M190.1 293.3l1.6 16.1l1.9 3.5l-1.5-13.6z"/><path color="#6786be" d="M193 312.8l.5-9.8l1.9 4.1l-.7 6.3z"/><path color="#e2d9e2" d="M287.9 328.2l2.9 .5l2.3-1.2l-2.9-.5z"/><path color="#6d90c0" d="M194.5 305.2l1.5 14.4l1.1-15.1l-.6 7.1z"/><path color="#5d42a4" d="M188 308.9l.1-18.7l1.9 5l-.1 18z"/><path color="#6786be" d="M232.6 304.1l.9 1.2l1.8 8.5l-1.1-11.7z"/><path color="#e2d9e2" d="M253.5 328l2.8 .5l1.6-1.2l-2.9-.1z"/><path color="#769bc1" d="M214.8 312.3l.9-1.2l1.8 2.7l-1.2-7.4z"/><path color="#e2d9e2" d="M272.7 328.1l2.9 .5l1.6-.9l-2.9-.5z"/><path color="#311337" d="M154.2 298.9l-.9-29.7l1.7-1.5l-.9 .9z"/><path color="#9ab8c8" d="M238.4 322.1l1 .8l1.5-7.3l-.8 10.1z"/><path color="#e2d9e2" d="M299 328.5l2.9 .5l3.1-1.6l-3-.5z"/><path color="#6a8bbf" d="M188 323.2l.9 .1l.5-30l-.8 4.1z"/><path color="#5f5bb2" d="M179.6 321.7l.9 .2l-.4-45.9l0 19.7z"/><path color="#6275ba" d="M206.4 312.5l.7-6l1.6-2.2l-1.1-6.3z"/><path color="#e2d9e2" d="M280.1 328.2l2.9 .5l1.9-1l-2.9-.5z"/><path color="#769bc1" d="M232.4 315.6l1 4l1.4-12.5l-.9 5.4z"/><path color="#d1d5da" d="M231.4 323.2l1 3.7l1.6-4.1l-.9 3.9z"/><path color="#7196c1" d="M210.2 306.3l1.1 6l1.7 2.8l-1-1.7z"/><path color="#5d42a4" d="M215.9 308.6l.9-4.1l1.2-15.2l-.8 5.8z"/><path color="#3c113b" d="M168.3 276.1l1.4 8.5l.7-19.7l.1 20.4z"/><path color="#d1d5da" d="M232.4 326.9l.9-2l1.7 2.1l-1-4.2z"/><path color="#9ab8c8" d="M240.9 315.6l.9 4.8l1.6-2.2l-.8 3.1z"/><path color="#a3beca" d="M205.8 326.3l.9 .1l1.1-18.2l-.5 12.5z"/><path color="#381139" d="M190.3 269.2l2 25.7l1.8 3.4l-1.3-9.5z"/><path color="#dfd9e1" d="M260.8 328.2l2.9 .5l1.6-1.3l-2.9 0z"/><path color="#711d4f" d="M164.1 264.2l2.8 35l1.6-3.2l-3-38.6z"/><path color="#c2ced4" d="M211.5 327.3l.9 .1l1.6-3.2l-1.2-7.5z"/><path color="#381139" d="M154.9 294.5l0-15.4l1.9 2.4l-1.8-15z"/><path color="#5f55af" d="M197.9 320.8l.9-3.2l.8-22.8l-.3 17.4z"/><path color="#711d4f" d="M158 273.8l.9-1.1l.8-16.8l.5 25.5z"/><path color="#e2d9e2" d="M313.8 328.9l2.9 .5l3.8-2.1l-2.9-.5z"/><path color="#cbd2d7" d="M235.9 323.9l.9-.6l1.6-1.2l-.9 2.3z"/><path color="#5f62b4" d="M214.9 296.1l1.4 16.1l1.2-14.9l-.7 7.2z"/><path color="#501a74" d="M169.5 307l-.4-25.3l2.8 19.6l-1.9-18z"/><path color="#572385" d="M175.9 290.1l.7-6.2l2.2 10.1l-.3 13.7z"/><path color="#80a5c3" d="M205.4 320l.8-4.8l1.8 4l-1.3-9.8z"/><path color="#b3c6ce" d="M207.7 326.6l.9 .2l1.5-7.3l-1.2-7.2z"/><path color="#431359" d="M155 293.5l-.1-16.8l1.9 3.4l-.5 7z"/><path color="#6a8bbf" d="M211.3 312.3l.7-7.8l2 10.8l-1-.2z"/><path color="#3c113b" d="M186.3 286.2l.1-19.4l2.8 23.6l-.8 3.6z"/><path color="#6d90c0" d="M213.2 306.4l1.4 15.6l1.6-2.4l-.9 .6z"/><path color="#6a8bbf" d="M231.5 305.8l1.3 17.5l1.5-5.9l-.9 2.2z"/><path color="#a3beca" d="M215.4 316.5l1 2.5l1.6-2.2l-.8 3.5z"/><path color="#6a8bbf" d="M201.9 306.8l.9-2.7l1.8 6l-.6 8z"/><path color="#5f62b4" d="M200.7 304.8l.6-8.6l2.2 13.7l-1-.8z"/><path color="#431359" d="M191.9 289.9l.9-1.1l1.4-9l-1.1-3.7z"/><path color="#5f62b4" d="M222.8 310.6l.6-14.2l1.8 6.4l-.6 14.7z"/><path color="#5e4eab" d="M227.9 307.8l.9-4.2l1.4-11.1l-.7 12.1z"/><path color="#6786be" d="M231.7 306.4l.9-2.3l1.6-2l-.9 3.3z"/><path color="#7ba1c2" d="M204.3 316.3l1.1 3.7l1.3-10.6l-.8 4.6z"/><path color="#5e4eab" d="M209.9 306l.6-12.2l2.2 16l-.8 7.3z"/><path color="#5e48a8" d="M191.7 294.8l.8-3.4l1.6-2.1l-.3 16.5z"/><path color="#59288d" d="M181 284.4l1 1.3l1.9 4.4l-.7 4.8z"/><path color="#e2d9e2" d="M290.8 328.7l2.9 .5l2.3-1.2l-2.9-.5z"/><path color="#a94950" d="M159.9 272.3l-.5-25.4l4.2 44.7l-.9-.6z"/><path color="#471461" d="M183.4 281.8l.7-4.5l2 6.2l-.8 2.9z"/><path color="#a3beca" d="M214 324.2l.9-.7l1.5-4.5l-1-2.5z"/><path color="#e2d9e2" d="M256.3 328.5l2.9 .5l1.6-.8l-2.9-.9z"/><path color="#d1d5da" d="M233.3 324.9l1-.3l1.6-.7l-.9 3.1z"/><path color="#dcd9df" d="M268.2 328.1l2.9-.7l1.6 .7l-2.9-.5z"/><path color="#5c359a" d="M213.7 296l1.3 13.3l1.3-12.4l-1.2-10.6z"/><path color="#e2d9e2" d="M275.6 328.6l2.9 .5l1.6-.9l-2.9-.5z"/><path color="#481341" d="M163.2 294.7l.6-5.9l1.9 2.8l-2.4-27.2z"/><path color="#aac2cc" d="M216.4 319l1 .3l1.6-1l-1-1.5z"/><path color="#6275ba" d="M216.7 312.6l1.1 4.2l1.5-3.3l-1.3-14z"/><path color="#e2d9e2" d="M301.9 329l2.9 .5l3.1-1.6l-2.9-.5z"/><path color="#5d42a4" d="M187.4 313.9l.9-1.7l1.1-12.9l-1.3-9.1z"/><path color="#aac2cc" d="M208.6 326.8l1 .1l1.1-15.6l-.6 8.2z"/><path color="#6068b6" d="M207.6 298l1.1 6.3l1.8 2l-1.3-10.8z"/><path color="#e2d9e2" d="M283 328.7l2.9 .5l2-1l-3-.5z"/><path color="#5f55af" d="M230.5 294l1.2 12.4l1.6-1l-.9 2.7z"/><path color="#d1d5da" d="M246 323.8l2.9 1.1l1.6 1.1l-2.8 1z"/><path color="#3a1149" d="M160.4 274.9l1.9 17.2l1.5-3.3l-.6 5.9z"/><path color="#a3beca" d="M212.8 316.7l1.2 7.5l1.4-7.7l-.8 5.5z"/><path color="#6a8bbf" d="M201.5 317.3l1-.8l1.5-3.7l-1.2-8.7z"/><path color="#9ab8c8" d="M244.7 317l3 10l1.5-3.5l-2.9-8.6z"/><path color="#bbcad1" d="M210.5 327.1l1 .2l1.3-10.6l-.9 .8z"/><path color="#5f62b4" d="M201.3 296.2l1.1 4.7l2.1 11.8l-1-2.8z"/><path color="#6275ba" d="M217.5 313.8l.5-14.3l1.8 3.3l-.8 8.2z"/><path color="#d1d5da" d="M229.8 326.9l1 1.5l1.6-1.5l-1-3.7z"/><path color="#5b2f94" d="M179.7 293.8l1.3 6.8l1-14.9l-1-1.3z"/><path color="#6a8bbf" d="M200.7 319.3l.8-2l1.3-13.2l-.9 2.7z"/><path color="#aac2cc" d="M230.4 318.7l1 4.5l1.7 3.5l-1-4.5z"/><path color="#e2d9e2" d="M316.7 329.4l2.9 .5l3.8-2.1l-2.9-.5z"/><path color="#d6d7dd" d="M248.9 324.9l3 3.9l1.6-.8l-3-2z"/><path color="#5f62b4" d="M182.4 322.2l.9 .2l.3-32.3l-1.4-9.4z"/><path color="#501a74" d="M177.6 301.8l1.3 7.7l1.1-12.6l-1.7-15.2z"/><path color="#5e4eab" d="M230.2 292.5l.9 1.1l2 15.3l-1.1-8z"/><path color="#34113e" d="M176.3 302.1l0-18.9l1.2-10.9l-.6 7.7z"/><path color="#86aac4" d="M229.7 313.4l1.1 4.5l1.6-2.3l-1.1-5.1z"/><path color="#c6896c" d="M158.1 274.2l2.2 22.1l-1.7-61.9l2.1 54.3z"/><path color="#7196c1" d="M209 322.3l.6-11.4l1.7 1.4l-1.1-6z"/><path color="#5d3b9f" d="M221.1 289.7l1.3 13.5l1.8 8.3l-1.2-11.3z"/><path color="#6a8bbf" d="M230.8 317.9l.7-12.1l1.9 13.8l-1-4z"/><path color="#5d3b9f" d="M219 311l.8-8.2l1.3-13.1l-.4 20.3z"/><path color="#7196c1" d="M213 307.4l1.2 8.3l1.5-4.6l-.9 1.2z"/><path color="#6275ba" d="M215.7 311.1l1 1.5l1.3-13.1l-.5 14.3z"/><path color="#dfd9e1" d="M251.9 328.8l2.9-.3l1.5 0l-2.8-.5z"/><path color="#5d42a4" d="M217.2 295.1l.8-5.8l1.8 5.8l-.8 3.5z"/><path color="#dfd9e1" d="M263.7 328.7l2.9-.9l1.6 .3l-2.9-.7z"/><path color="#371143" d="M161 302.5l-.6-27.6l2.8 19.8l-2.1-21.4z"/><path color="#6068b6" d="M208.7 304.3l.7-7.6l1.7-.9l-.6 10.5z"/><path color="#7196c1" d="M207.3 320.7l.5-12.5l1.8 2.7l-.6 11.4z"/><path color="#5f62b4" d="M199.8 320l.9-.7l1.2-12.5l-1.3-10.1z"/><path color="#42123e" d="M186.4 266.8l1.8 18.9l1.9 5.1l-.9-.4z"/><path color="#a94950" d="M161 306.6l-.8-30.6l2.1 5.5l-2.9-34.6z"/><path color="#6068b6" d="M209.4 296.7l1.1 4.9l2 9.5l-1.4-15.3z"/><path color="#5e4eab" d="M189.4 293.3l1.2 7.8l2.3 13.8l-1.2-5.5z"/><path color="#5d42a4" d="M190.7 289.9l1.4 9.4l2.1 10.5l-1.7-18.4z"/><path color="#5f55af" d="M204.6 310.1l.5-15.4l2 11.8l-.7 6z"/><path color="#c6896c" d="M160.3 296.3l-.4-24l2.8 18.7l-4.1-56.6z"/><path color="#59288d" d="M178.8 294l.9-.2l1.3-9.4l-.8 2.9z"/><path color="#b3c6ce" d="M213.3 327.6l1 .2l1.2-14.2l-.6 9.9z"/><path color="#42123e" d="M163.5 266.2l1.6 11.4l3.2 28.9l-1.8-17.3z"/><path color="#5e4eab" d="M210.5 293.8l1.5 19.6l1.5-6.6l-.8 3z"/><path color="#d1d5da" d="M230.8 328.4l.9-3.9l1.6 .4l-.9 2z"/><path color="#aac2cc" d="M209.6 326.9l.9 .2l1.4-9.6l-1.2-6.2z"/><path color="#dcd9df" d="M271.1 327.4l2.9 2l1.6-.8l-2.9-.5z"/><path color="#6068b6" d="M202.5 316.5l1.1 5.5l.8-23.8l-.4 14.6z"/><path color="#e2d9e2" d="M293.7 329.2l2.9 .5l2.4-1.2l-3-.5z"/><path color="#a3beca" d="M243.1 322.7l2.9 1.1l1.7 3.2l-3-10z"/><path color="#501a74" d="M176.9 307.5l.7-5.7l.7-20.1l-.3 11.9z"/><path color="#e2d9e2" d="M278.5 329.1l2.9 .5l1.6-.9l-2.9-.5z"/><path color="#dfd9e1" d="M259.2 329l2.9-.2l1.6-.1l-2.9-.5z"/><path color="#4e1443" d="M155.1 264.1l2.3 23l1.6-1l-.3 10.7z"/><path color="#e2d9e2" d="M304.8 329.5l3 .5l3-1.6l-2.9-.5z"/><path color="#42123e" d="M189.2 290.4l.9 .4l.7-25.5l-.6 8.7z"/><path color="#9ab8c8" d="M241.8 320.4l2.9-3.4l1.6-2.1l-2.9 3.3z"/><path color="#963350" d="M163.8 292.3l.2-13.2l1.8 2.1l-2.6-31z"/><path color="#6786be" d="M193.5 303l1 2.2l2 6.4l-1.1-4.5z"/><path color="#606eb8" d="M218 299.5l1.3 14l1.6-4.3l-1.1-6.4z"/><path color="#711d4f" d="M165.8 281.2l-.3-23.8l2.3 11.8l0 16.5z"/><path color="#e2d9e2" d="M285.9 329.2l2.9 .5l2-1l-2.9-.5z"/><path color="#6068b6" d="M203.6 322l.7-5.7l1.6-2.3l-1.5-15.8z"/><path color="#481341" d="M163.8 288.8l-.3-22.6l3 23l-.8 2.4z"/><path color="#792050" d="M153.8 291.4l1.1 3.1l.1-28l-1.5-9.9z"/><path color="#93b4c6" d="M206.7 326.4l1 .2l1.2-14.3l-1.1-4.1z"/><path color="#481341" d="M163.3 264.4l2.4 27.2l.3-26l.9 33.6z"/><path color="#431359" d="M190.6 280.6l1.3 9.3l1.2-13.8l-.9 1.4z"/><path color="#e2d9e2" d="M319.6 329.9l3 .5l3.8-2.1l-3-.5z"/><path color="#6786be" d="M212 304.5l1 2.9l1.8 4.9l-.8 3z"/><path color="#c78f72" d="M160.7 288.7l-2.1-54.3l3.7 35.6l-.2 13.2z"/><path color="#4c176b" d="M178 293.6l.3-11.9l2.7 18.9l-1.3-6.8z"/><path color="#6a8bbf" d="M230 316.2l1.1 6.3l1.7 .8l-1.3-17.5z"/><path color="#e2d9e2" d="M274 329.4l3 .5l1.5-.8l-2.9-.5z"/><path color="#5b2f94" d="M213.7 287l1.2 9.1l1.9 8.4l-.9 4.1z"/><path color="#dfd9e1" d="M254.8 328.5l2.9 1.3l1.5-.8l-2.9-.5z"/><path color="#8c2a50" d="M159.7 255.9l2.4 27.3l1.1-11.9l-2-20z"/><path color="#80a5c3" d="M228.8 314.3l.9-.9l1.6-2.9l-.9-.6z"/><path color="#5c359a" d="M225.2 302.8l.6-14.1l2.1 19.1l-.9 .5z"/><path color="#bbcad1" d="M234.3 324.6l.9-3.2l1.6 1.9l-.9 .6z"/><path color="#5e4eab" d="M208 319.2l1 3.1l1.2-16l-1.3-11.7z"/><path color="#86aac4" d="M214.9 323.5l.6-9.9l1.9 5.7l-1-.3z"/><path color="#e2d9e2" d="M296.6 329.7l3 .5l2.3-1.2l-2.9-.5z"/><path color="#9ab8c8" d="M229.4 317l1 1.7l1.7 3.5l-1 .3z"/><path color="#7ba1c2" d="M217.4 319.3l.9-1.2l1.4-8.2l-.7 8.4z"/><path color="#572385" d="M176.6 283.9l1.4 9.7l1.7 .2l-.9 .2z"/><path color="#e2d9e2" d="M281.4 329.6l3 .5l1.5-.9l-2.9-.5z"/><path color="#dcd9df" d="M266.6 327.8l3 1l1.5-1.4l-2.9 .7z"/><path color="#572385" d="M175.2 291.5l1.7 16l1.1-13.9l-1.4-9.7z"/><path color="#c2ced4" d="M241.5 322.3l3 5.3l1.5-3.8l-2.9-1.1z"/><path color="#e2d9e2" d="M307.8 330l2.9 .5l3.1-1.6l-3-.5z"/><path color="#86aac4" d="M236.8 323.3l.8-9.5l1.8 9.1l-1-.8z"/><path color="#311339" d="M182 285.7l.3-13l2.8 24.3l-1.2-6.9z"/><path color="#b3c6ce" d="M214.3 327.8l.9 .1l1.4-8.8l-1.1-5.5z"/><path color="#86aac4" d="M239.4 322.9l.7-9.4l1.7 6.9l-.9-4.8z"/><path color="#5d42a4" d="M218 289.3l1 2.9l1.8 3.8l-1-.9z"/><path color="#e2d9e2" d="M288.8 329.7l3 .5l1.9-1l-2.9-.5z"/><path color="#606eb8" d="M206.5 308.7l.8-2.9l1.8 2.7l-1.3-10.2z"/><path color="#dfd9e1" d="M262.1 328.8l3 1.2l1.5-2.2l-2.9 .9z"/><path color="#d1d5da" d="M228.2 326.7l.9-1.7l1.7 3.4l-1-1.5z"/><path color="#aac2cc" d="M228.8 323.9l1 3l1.6-3.7l-1-4.5z"/><path color="#e2d9e2" d="M322.6 330.4l2.3 .4l3.8-2.1l-2.3-.4z"/><path color="#5d42a4" d="M216.8 304.5l.7-7.2l1.5-5.1l-1-2.9z"/><path color="#381139" d="M190 284.9l.3-15.7l2.5 19.6l-.9 1.1z"/><path color="#561546" d="M186.1 290.5l1.9 21.9l1.2-9.6l-2.5-38.5z"/><path color="#5f5bb2" d="M200.6 296.7l1.3 10.1l2.1 11.3l-1.6-17.2z"/><path color="#371143" d="M173.3 275.2l1.3 5.7l2.7 20.3l-1.1-3.2z"/><path color="#aac2cc" d="M215.2 327.9l1 .2l1.2-14.3l-.8 5.3z"/><path color="#6068b6" d="M207.1 306.5l.7-8.2l1.6-1.6l-.7 7.6z"/><path color="#431359" d="M169.1 281.7l1.8 16.4l.7-19.5l.3 22.7z"/><path color="#cbd2d7" d="M244.5 327.6l2.8-2.8l1.6 .1l-2.9-1.1z"/><path color="#d1d5da" d="M227.2 325.5l1 1.2l1.6 .2l-1-3z"/><path color="#dcd9df" d="M250.2 327.8l3 2.3l1.6-1.6l-2.9 .3z"/><path color="#e2d9e2" d="M277 329.9l2.9 .5l1.5-.8l-2.9-.5z"/><path color="#dfd9e1" d="M257.7 329.8l2.9 .3l1.5-1.3l-2.9 .2z"/><path color="#dcd9df" d="M269.6 328.8l2.9 1.4l1.5-.8l-2.9-2z"/><path color="#5d3b9f" d="M219.8 302.8l1.1 6.4l1.5-6l-1.3-13.5z"/><path color="#42123e" d="M190.1 290.8l.5-10.2l1.6-3.1l-1.4-12.2z"/><path color="#d1d5da" d="M229.1 325l1 4l1.6-4.5l-.9 3.9z"/><path color="#341238" d="M178.9 309.5l.5-7.6l.3-30.5l.3 25.5z"/><path color="#86aac4" d="M240.1 313.5l3 9.2l1.6-5.7l-2.9 3.4z"/><path color="#9ab8c8" d="M228.4 317.6l1-.6l1.7 5.5l-1.1-6.3z"/><path color="#34113e" d="M176.3 283.2l1 3l1.7-.7l-1.5-13.2z"/><path color="#5f55af" d="M198.8 317.6l1 2.4l.8-23.3l-1-1.9z"/><path color="#e2d9e2" d="M299.6 330.2l2.9 .5l2.3-1.2l-2.9-.5z"/><path color="#d1d5da" d="M247.3 324.8l2.9 3l1.7 1l-3-3.9z"/><path color="#8c2a50" d="M160.2 281.4l-.5-25.5l1.5-4.6l-.2 13.1z"/><path color="#aac2cc" d="M216.2 328.1l.9 .2l1.4-9.6l-1.1-4.9z"/><path color="#6a8bbf" d="M211.9 317.5l.9-.8l1.8 5.3l-1.4-15.6z"/><path color="#e2d9e2" d="M284.4 330.1l2.9 .5l1.5-.9l-2.9-.5z"/><path color="#a94950" d="M155 267.7l-.3-21.4l3.3 27.5l-.2 11.8z"/><path color="#431359" d="M170.9 298.1l.1-16.9l2.7 20.2l-2.1-22.8z"/><path color="#5e4eab" d="M188.3 312.2l.3-14.8l1.5-4.1l-.7 6z"/><path color="#e2d9e2" d="M310.7 330.5l2.9 .5l3.1-1.6l-2.9-.5z"/><path color="#6068b6" d="M207.8 298.3l1.3 10.2l1.4-6.9l-1.1-4.9z"/><path color="#4c176b" d="M183.8 281.4l1.3 8.3l1.7-1.4l-.4 14.1z"/><path color="#6786be" d="M212.2 305.4l1 1l2.1 13.8l-1.1-4.5z"/><path color="#e2d9e2" d="M228.5 330.2l1 .2l1.6-1l-1-.4z"/><path color="#dcd9df" d="M225.7 329.7l.9 .2l1.6-3.2l-1-1.2z"/><path color="#34113e" d="M176.9 280l.6-7.7l2 6.3l-.9 2.1z"/><path color="#e2d9e2" d="M291.8 330.2l2.9 .5l1.9-1l-2.9-.5z"/><path color="#5f55af" d="M229.6 299.9l.9-5.9l1.9 14.1l-1.3-14.5z"/><path color="#431359" d="M184.6 294.6l.3-14.5l3.1 32.3l-1.9-21.9z"/><path color="#5b2f94" d="M212.7 309.8l.8-3l1.4-10.7l-1.2-9.1z"/><path color="#e2d9e2" d="M272.5 330.2l2.9 .5l1.6-.8l-3-.5z"/><path color="#86aac4" d="M238.7 324.5l2.8-2.2l1.6 .4l-3-9.2z"/><path color="#c2ced4" d="M239.9 323.5l3 5.1l1.6-1l-3-5.3z"/><path color="#dfd9e1" d="M265.1 330l2.9 .5l1.6-1.7l-3-1z"/><path color="#59288d" d="M230.6 288.3l1.5 27.8l1.4-10.8l-.9-1.2z"/><path color="#572385" d="M223 306.8l1.2 10.8l1.5-3.5l-1.6-27.5z"/><path color="#86aac4" d="M215.5 313.6l1.1 5.5l1.7-1l-.9 1.2z"/><path color="#d1d5da" d="M242.9 328.6l2.8-.9l1.6-2.9l-2.8 2.8z"/><path color="#381139" d="M189.2 282.2l1.4 12.5l1.7 .2l-2-25.7z"/><path color="#5f5bb2" d="M207.3 305.8l.7-8.7l1.9 8.9l-.8 2.5z"/><path color="#5f62b4" d="M204.4 298.2l1.5 15.8l1.4-8.2l-.8 2.9z"/><path color="#80a5c3" d="M227.6 322.2l.8-4.6l1.6-1.4l-1-4.6z"/><path color="#5f55af" d="M202.8 304.1l1.2 8.7l1.1-18.1l-.5 15.4z"/><path color="#a3beca" d="M231.7 324.5l.8-5.1l1.8 5.2l-1 .3zM225.9 318.5l1 2l1.5-2.9l-.8 4.6z"/><path color="#dcd9df" d="M227.6 330.1l.9 .1l1.6-1.2l-1-4zM253.2 330.1l2.9-1.2l1.6 .9l-2.9-1.3z"/><path color="#e2d9e2" d="M279.9 330.4l2.9 .5l1.6-.8l-3-.5z"/><path color="#d6d7dd" d="M226.6 329.9l1 .2l1.5-5.1l-.9 1.7z"/><path color="#561546" d="M154.9 276.7l.2-12.6l3.6 32.7l-1.9-16.7z"/><path color="#dfd9e1" d="M229.5 330.4l.9 .2l1.6-2.3l-.9 1.1zM260.6 330.1l2.9 .6l1.6-.7l-3-1.2z"/><path color="#371143" d="M171 281.2l1.9 19l.4-25l.4 26.2z"/><path color="#6786be" d="M209.6 310.9l.9-1.4l1.5-5l-.7 7.8z"/><path color="#9ab8c8" d="M227.9 323l.9 .9l1.6-5.2l-1-1.7z"/><path color="#5d42a4" d="M218 316.8l1 1.5l1-25.6l-.4 21.2z"/><path color="#5e4eab" d="M228.8 303.6l.8-3.7l1.5-6.3l-.9-1.1z"/><path color="#5f5bb2" d="M221.1 307.6l.8-4.6l1.5-6.6l-.6 14.2z"/><path color="#86aac4" d="M237.6 313.8l1.1 10.7l1.4-11l-.7 9.4z"/><path color="#e2d9e2" d="M302.5 330.7l2.9 .5l2.4-1.2l-3-.5z"/><path color="#5f62b4" d="M205.9 314l.8-4.6l1.3-12.3l-.7 8.7z"/><path color="#cbd2d7" d="M224.7 329.6l1 .1l1.5-4.2l-1.1-5.3z"/><path color="#e2d9e2" d="M287.3 330.6l2.9 .5l1.6-.9l-3-.5z"/><path color="#5d3b9f" d="M190 295.2l.7-5.3l1.8 1.5l-.8 3.4z"/><path color="#c2ced4" d="M238.3 327.9l3 1.7l1.6-1l-3-5.1z"/><path color="#5b2f94" d="M225.8 288.7l1.2 8.9l1.8 6l-.9 4.2z"/><path color="#aac2cc" d="M230.1 329l1 .4l1.4-10l-.8 5.1z"/><path color="#e2d9e2" d="M313.6 331l3 .5l3-1.6l-2.9-.5z"/><path color="#aac2cc" d="M226.1 320.2l1.1 5.3l1.6-1.6l-.9-.9z"/><path color="#9ab8c8" d="M226.9 320.5l1 2.5l1.5-6l-1 .6z"/><path color="#dfd9e1" d="M268 330.5l2.9 0l1.6-.3l-2.9-1.4z"/><path color="#e2d9e2" d="M294.7 330.7l2.9 .5l2-1l-3-.5z"/><path color="#6a8bbf" d="M229 311.6l1 4.6l1.5-10.4l-.7 12.1z"/><path color="#e2d9e2" d="M275.4 330.7l2.9 .5l1.6-.8l-2.9-.5z"/><path color="#5e4eab" d="M205.1 294.7l1.4 14l1.3-10.4l-.7 8.2zM199.3 312.2l.3-17.4l1.7 1.4l-.6 8.6z"/><path color="#dcd9df" d="M241.3 329.6l2.8-.1l1.6-1.8l-2.8 .9z"/><path color="#481341" d="M162.7 283.4l2.2 22.4l.2-28.2l-1.6-11.4z"/><path color="#792050" d="M151.8 272.8l2 18.6l-.3-34.8l-.2 12.6z"/><path color="#dfd9e1" d="M230.4 330.6l1 .1l1.6-3l-1 .6z"/><path color="#481341" d="M162.3 292.1l.4-8.7l.8-17.2l.3 22.6z"/><path color="#9ab8c8" d="M236.9 317.9l3 5.6l1.6-1.2l-2.8 2.2z"/><path color="#86aac4" d="M235.2 321.4l.9 1.1l1.5-8.7l-.8 9.5z"/><path color="#dfd9e1" d="M263.5 330.7l2.9 .1l1.6-.3l-2.9-.5z"/><path color="#e2d9e2" d="M282.8 330.9l2.9 .5l1.6-.8l-2.9-.5z"/><path color="#5d42a4" d="M189.4 299.3l.7-6l2 6l-1.4-9.4z"/><path color="#6786be" d="M208.9 312.3l1.2 7.2l1.2-14.6l-.8 4.6z"/><path color="#59288d" d="M230 305.2l.6-16.9l2 15.8l-.9 2.3z"/><path color="#aac2cc" d="M221.9 329.1l.9 .1l1.5-7.6l-1.2-7.7zM220.9 328.9l1 .2l1.2-15.2l-.8 5.4z"/><path color="#a3beca" d="M232.5 319.4l1.1 3.8l1.6-1.8l-.9 3.2zM231.1 329.4l.9-1.1l1.6-5.1l-1.1-3.8z"/><path color="#6275ba" d="M227.9 302.7l1.1 8.9l1.8 6.3l-1.1-4.5z"/><path color="#86aac4" d="M216.6 319.1l.8-5.3l1.7-.6l-.8 4.9z"/><path color="#e2d9e2" d="M305.4 331.2l3 .5l2.3-1.2l-2.9-.5z"/><path color="#dfd9e1" d="M270.9 330.5l2.9 1l1.6-.8l-2.9-.5z"/><path color="#d1d5da" d="M233.8 326.9l2.9-.1l1.6 1.1l-2.8-.3z"/><path color="#e2d9e2" d="M290.2 331.1l2.9 .5l1.6-.9l-2.9-.5z"/><path color="#dcd9df" d="M231.4 330.7l.8 .2l1.6-4l-.8 .8z"/><path color="#5c1749" d="M186.7 264.3l2.5 38.5l1.4-8.1l-1.4-12.5z"/><path color="#cbd2d7" d="M248.6 325.4l3 5.5l1.6-.8l-3-2.3z"/><path color="#e2d9e2" d="M316.6 331.5l2.9 .5l3.1-1.6l-3-.5z"/><path color="#9ab8c8" d="M235.5 327.6l2.8 .3l1.6-4.4l-3-5.6z"/><path color="#5e48a8" d="M188.6 297.4l.8-4.1l2.3 16.1l-1.6-16.1z"/><path color="#e2d9e2" d="M297.6 331.2l3 .5l1.9-1l-2.9-.5z"/><path color="#d1d5da" d="M256.1 328.9l2.9-1.5l1.6 2.7l-2.9-.3z"/><path color="#e2d9e2" d="M278.3 331.2l2.9 .5l1.6-.8l-2.9-.5z"/><path color="#6d90c0" d="M207.8 308.2l1.1 4.1l1.6-2.8l-.9 1.4z"/><path color="#5e4eab" d="M204 312.8l.4-14.6l2.1 10.5l-1.4-14z"/><path color="#cbd2d7" d="M245.7 327.7l2.9-2.3l1.6 2.4l-2.9-3z"/><path color="#7196c1" d="M224.7 309.7l1.2 8.8l1.7 3.7l-1.1-5.6z"/><path color="#6786be" d="M211.3 304.9l.9 .5l2 10.3l-1.2-8.3z"/><path color="#86aac4" d="M236.1 322.5l.8-4.6l1.8 6.6l-1.1-10.7z"/><path color="#dcd9df" d="M251.6 330.9l2.9-1.3l1.6-.7l-2.9 1.2z"/><path color="#aac2cc" d="M233 327.7l.8-.8l1.7 .7l-1.1-7.8z"/><path color="#711d4f" d="M164 279.1l.1-14.9l1.4-6.8l.3 23.8z"/><path color="#d1d5da" d="M236.7 326.8l2.9 2.6l1.7 .2l-3-1.7z"/><path color="#6b1b4d" d="M161.3 293.4l-.2-20.1l1-13.8l.1 19.6z"/><path color="#5e4eab" d="M206.7 309.4l1.3 9.8l.9-24.6l-.9 2.5z"/><path color="#aac2cc" d="M232 328.3l1-.6l1.4-7.9l-.8 3.4z"/><path color="#5d3b9f" d="M188.1 290.2l1.3 9.1l1.3-9.4l-.7 5.3z"/><path color="#572385" d="M224.2 317.6l.2-29.7l1.8 7.8l-.5 18.4z"/><path color="#a3beca" d="M233.6 323.2l.8-3.4l1.7 2.7l-.9-1.1z"/><path color="#e2d9e2" d="M285.7 331.4l3 .3l1.5-.6l-2.9-.5z"/><path color="#dfd9e1" d="M266.4 330.8l2.9 1l1.6-1.3l-2.9 0z"/><path color="#6275ba" d="M226.5 316.6l1.1 5.6l1.4-10.6l-1.1-8.9z"/><path color="#381139" d="M188.5 289.6l.7-7.4l1.1-13l-.3 15.7z"/><path color="#59288d" d="M183.3 286.5l1.3 8.1l1.5-4.1l-1-.8z"/><path color="#d1d5da" d="M259 327.4l2.9 4.2l1.6-.9l-2.9-.6z"/><path color="#9ab8c8" d="M234.4 319.8l1.1 7.8l1.4-9.7l-.8 4.6z"/><path color="#e2d9e2" d="M308.4 331.7l2.9 .5l2.3-1.2l-2.9-.5z"/><path color="#d6d7dd" d="M232.2 330.9l2.9 .5l1.6-4.6l-2.9 .1z"/><path color="#e2d9e2" d="M319.5 332l2.4 .4l3-1.6l-2.3-.4zM293.1 331.6l3 .5l1.5-.9l-2.9-.5z"/><path color="#9ab8c8" d="M222.8 329.2l1 .2l1.1-20.3l-.6 12.5z"/><path color="#5e4eab" d="M208.9 294.6l1.3 11.7l1.8 7.1l-1.5-19.6z"/><path color="#cbd2d7" d="M244.1 329.5l2.9 1.1l1.6-5.2l-2.9 2.3z"/><path color="#6786be" d="M210.1 319.5l.6-8.2l1.5-5.9l-.9-.5z"/><path color="#769bc1" d="M217.1 328.3l1 .1l.8-29.6l-.4 19.9z"/><path color="#e2d9e2" d="M300.6 331.7l2.9 .6l1.9-1.1l-2.9-.5z"/><path color="#5d3b9f" d="M219.6 313.9l.4-21.2l1.9 10.3l-.8 4.6z"/><path color="#d6d7dd" d="M239.6 329.4l2.9-.7l1.6 .8l-2.8 .1z"/><path color="#657fbd" d="M210.5 309.5l.8-4.6l1.7 2.5l-1-2.9z"/><path color="#e2d9e2" d="M281.2 331.7l3 .5l1.5-.8l-2.9-.5z"/><path color="#dfd9e1" d="M261.9 331.6l2.9-.2l1.6-.6l-2.9-.1z"/><path color="#ddd0ce" d="M154.2 223.2l3.9 51l2.6 14.5l-1.8-16z"/><path color="#d6d7dd" d="M273.8 331.5l2.9-2.6l1.6 2.3l-2.9-.5z"/><path color="#531e7c" d="M227 297.6l.7-11.6l1.9 13.9l-.8 3.7z"/><path color="#80a5c3" d="M220 328.7l.9 .2l1.4-9.6l-1.4-17.1z"/><path color="#531e7c" d="M228.6 285.8l1.4 19.4l1.7 1.2l-1.2-12.4z"/><path color="#dfd9e1" d="M269.3 331.8l2.9 .5l1.6-.8l-2.9-1z"/><path color="#e2d9e2" d="M288.7 331.7l2.9 .7l1.5-.8l-2.9-.5z"/><path color="#dcd9df" d="M235.1 331.4l2.9 .5l1.6-2.5l-2.9-2.6z"/><path color="#93b4c6" d="M223.8 329.4l.9 .2l1.4-9.4l-1.2-11.1z"/><path color="#6786be" d="M210.7 311.3l1.2 6.2l1.3-11.1l-1-1z"/><path color="#cbd2d7" d="M247 330.6l2.9-.2l1.7 .5l-3-5.5z"/><path color="#e2d9e2" d="M311.3 332.2l3 .5l2.3-1.2l-3-.5z"/><path color="#d6d7dd" d="M242.5 328.7l2.9 3.2l1.6-1.3l-2.9-1.1z"/><path color="#e2d9e2" d="M296.1 332.1l2.9 .5l1.6-.9l-3-.5z"/><path color="#4c176b" d="M173.8 282.1l1.4 9.4l1.4-7.6l-.7 6.2z"/><path color="#711d4f" d="M162.1 259.5l1.2 4.9l3.6 34.8l-2.8-35z"/><path color="#64194b" d="M178.3 281.7l1.7 15.2l.1-34.1l.9 37.8z"/><path color="#59288d" d="M229 290.7l1.4 19.2l1.7 6.2l-1.5-27.8z"/><path color="#d1d5da" d="M254.5 329.6l2.9 2.3l1.6-4.5l-2.9 1.5z"/><path color="#e2d9e2" d="M303.5 332.3l3 .5l1.9-1.1l-3-.5z"/><path color="#431359" d="M182.3 303.6l-.1-22.9l2.4 13.9l-1.3-8.1z"/><path color="#e2d9e2" d="M284.2 332.2l2.9 .5l1.6-1l-3-.3z"/><path color="#c99578" d="M185.3 236.6l3.2 53l1.5-4.7l-.1 18.1z"/><path color="#6a8bbf" d="M224.9 309.1l1.2 11.1l1.8 2.8l-1-2.5z"/><path color="#dfd9e1" d="M245.4 331.9l3 .7l1.5-2.2l-2.9 .2z"/><path color="#34113e" d="M172.9 300.2l.1-16.3l1.6-3l-1.3-5.7z"/><path color="#d6d7dd" d="M276.7 328.9l3 3.6l1.5-.8l-2.9-.5z"/><path color="#dcd9df" d="M238 331.9l2.9 .5l1.6-3.7l-2.9 .7z"/><path color="#6a8bbf" d="M224.3 321.6l.6-12.5l2 11.4l-1-2z"/><path color="#531e7c" d="M225.7 314.1l.5-18.4l1.5-9.7l-.7 11.6z"/><path color="#e2d9e2" d="M291.6 332.4l2.9 .5l1.6-.8l-3-.5z"/><path color="#711d4f" d="M162.2 279.1l-.1-19.6l2 4.7l-.1 14.9z"/><path color="#431359" d="M183.6 290.1l1.1 3.4l2.1 10.6l-1.9-24z"/><path color="#6a8bbf" d="M222.8 307.7l1.1 8.5l1.5-8.6l-.7 10.6z"/><path color="#dcd9df" d="M264.8 331.4l2.9-.8l1.6 1.2l-2.9-1z"/><path color="#769bc1" d="M219 328.6l1 .1l.9-26.5l-.7 8.7z"/><path color="#e2d9e2" d="M279.7 332.5l2.9 .5l1.6-.8l-3-.5z"/><path color="#5e48a8" d="M218.3 318.1l.8-4.9l1.2-17.8l-.6 14.5z"/><path color="#d1d5da" d="M257.4 331.9l2.9-1.7l1.6 1.4l-2.9-4.2z"/><path color="#cbd2d7" d="M249.9 330.4l2.9-2.9l1.7 2.1l-2.9 1.3z"/><path color="#e2d9e2" d="M314.3 332.7l3 .5l2.2-1.2l-2.9-.5zM299 332.6l3 .5l1.5-.8l-2.9-.6z"/><path color="#7196c1" d="M218.1 328.4l.9 .2l1.2-17.7l-1.3-12.1z"/><path color="#963350" d="M185.1 297l-.9-43.1l2.2 12.9l-.1 19.4z"/><path color="#6a8bbf" d="M223.9 316.2l.8-6.5l1.8 6.9l-1.1-9z"/><path color="#d6d7dd" d="M272.2 332.3l3 .3l1.5-3.7l-2.9 2.6z"/><path color="#7196c1" d="M223.1 313.9l1.2 7.7l1.6-3.1l-1.2-8.8z"/><path color="#dcd9df" d="M240.9 332.4l2.9 .5l1.6-1l-2.9-3.2z"/><path color="#e2d9e2" d="M306.5 332.8l2.9 .1l1.9-.7l-2.9-.5z"/><path color="#531e7c" d="M224.1 286.6l1.6 27.5l1.3-16.5l-1.2-8.9z"/><path color="#5c1749" d="M186.8 288.3l-.1-24l2.5 17.9l-.7 7.4z"/><path color="#e2d9e2" d="M287.1 332.7l2.9 .5l1.6-.8l-2.9-.7z"/><path color="#5e4eab" d="M199.6 294.8l1 1.9l1.8 4.2l-1.1-4.7z"/><path color="#606eb8" d="M217.4 313.8l1.1 4.9l1.3-16.2l-.7 10.7z"/><path color="#711d4f" d="M161.1 273.3l2.1 21.4l.1-30.3l-1.2-4.9z"/><path color="#dcd9df" d="M267.7 330.6l2.9 2.5l1.6-.8l-2.9-.5z"/><path color="#471461" d="M173 283.9l.8-1.8l2.1 8l-1.3-9.2z"/><path color="#6d90c0" d="M222.3 319.3l.8-5.4l1.6-4.2l-.8 6.5z"/><path color="#5c359a" d="M226.7 293l1.2 9.7l1.8 10.7l-.9 .9z"/><path color="#e2d9e2" d="M294.5 332.9l3 .5l1.5-.8l-2.9-.5zM243.8 332.9l2.9 .5l1.7-.8l-3-.7z"/><path color="#6b1b4d" d="M181 300.6l-.9-37.8l2.2 9.9l-.3 13z"/><path color="#dcd9df" d="M260.3 330.2l2.9 .5l1.6 .7l-2.9 .2z"/><path color="#5e48a8" d="M208 297.1l.9-2.5l1.6-.8l-.6 12.2z"/><path color="#e2d9e2" d="M317.3 333.2l2.3 .4l2.3-1.2l-2.4-.4z"/><path color="#5c359a" d="M227.4 292.9l1.4 21.4l1.6-4.4l-1.4-19.2z"/><path color="#cbd2d7" d="M252.8 327.5l3 4l1.6 .4l-2.9-2.3z"/><path color="#5c1749" d="M185.1 289.7l1 .8l.6-26.2l.1 24z"/><path color="#531e7c" d="M221.9 303l1.1 3.8l1.1-20.2l-.7 9.8z"/><path color="#e2d9e2" d="M302 333.1l2.9 .5l1.6-.8l-3-.5z"/><path color="#dcd9df" d="M255.8 331.5l2.9 1.8l1.6-3.1l-2.9 1.7z"/><path color="#c99578" d="M186.4 302.4l.4-14.1l1.7 1.3l-3.2-53z"/><path color="#d6d7dd" d="M275.2 332.6l2.9 .7l1.6-.8l-3-3.6z"/><path color="#dcd9df" d="M282.6 333l2.9-1.3l1.6 1l-2.9-.5z"/><path color="#e2d9e2" d="M309.4 332.9l3 .9l1.9-1.1l-3-.5zM290 333.2l3 .5l1.5-.8l-2.9-.5zM270.6 333.1l3 .1l1.6-.6l-3-.3z"/><path color="#572385" d="M220.9 292.1l.9-3.6l2.4 29.1l-1.2-10.8z"/><path color="#e2d9e2" d="M278.1 333.3l2.9 .5l1.6-.8l-2.9-.5z"/><path color="#5c359a" d="M219 318.3l.7-8.4l1.2-17.8l-.9 .6z"/><path color="#e2d9e2" d="M297.5 333.4l2.9 .5l1.6-.8l-3-.5z"/><path color="#cbd2d7" d="M248.4 332.6l2.8-2.1l1.6-3l-2.9 2.9z"/><path color="#5f55af" d="M218.9 298.8l1.3 12.1l1.9 9.6l-1-4.9z"/><path color="#e2d9e2" d="M304.9 333.6l3 .5l1.5-1.2l-2.9-.1z"/><path color="#dfd9e1" d="M246.7 333.4l3 .5l1.5-3.4l-2.8 2.1z"/><path color="#e2d9e2" d="M312.4 333.8l2.9 .5l2-1.1l-3-.5z"/><path color="#531e7c" d="M223.4 296.4l.7-9.8l1.7 2.1l-.6 14.1z"/><path color="#dcd9df" d="M285.5 331.7l3 2.3l1.5-.8l-2.9-.5z"/><path color="#e2d9e2" d="M293 333.7l2.9 .5l1.6-.8l-3-.5z"/><path color="#59288d" d="M228.3 301.7l.7-11l1.6-2.4l-.6 16.9z"/><path color="#dcd9df" d="M258.7 333.3l2.9-.6l1.6-2l-2.9-.5z"/><path color="#cbd2d7" d="M263.2 330.7l2.9-1.8l1.6 1.7l-2.9 .8z"/><path color="#501a74" d="M227.1 289.1l1.2 12.6l1.7 3.5l-1.4-19.4z"/><path color="#471461" d="M222.1 320.5l.7-12.8l1.9 10.5l-1.8-33.1z"/><path color="#e2d9e2" d="M300.4 333.9l3 .5l1.5-.8l-2.9-.5z"/><path color="#dcd9df" d="M254.2 332.6l2.9 0l1.6 .7l-2.9-1.8z"/><path color="#5f62b4" d="M220.9 302.2l1.4 17.1l1.6-3.1l-1.1-8.5z"/><path color="#cbd2d7" d="M251.2 330.5l3 2.1l1.6-1.1l-3-4z"/><path color="#d6d7dd" d="M273.6 333.2l2.9-2.1l1.6 2.2l-2.9-.7z"/><path color="#5c359a" d="M220 292.7l.9-.6l2.1 14.7l-1.1-3.8z"/><path color="#e2d9e2" d="M288.5 334l2.9 .5l1.6-.8l-3-.5z"/><path color="#501a74" d="M227.7 286l.9-.2l1.9 8.2l-.9 5.9z"/><path color="#e2d9e2" d="M269.1 333.6l2.9 .4l1.6-.8l-3-.1zM315.3 334.3l2.4 .4l1.9-1.1l-2.3-.4z"/><path color="#5f62b4" d="M220.2 310.9l.7-8.7l1.9 5.5l-.7 12.8z"/><path color="#e2d9e2" d="M307.9 334.1l2.9 .5l1.6-.8l-3-.9z"/><path color="#cbd2d7" d="M266.1 328.9l3 4.7l1.5-.5l-2.9-2.5z"/><path color="#dcd9df" d="M281 333.8l3-.7l1.5-1.4l-2.9 1.3z"/><path color="#ddd0ce" d="M155 266.5l1.8 15l1.3-7.3l-3.9-51z"/><path color="#5e4eab" d="M218.5 318.7l.4-19.9l2.2 16.8l-1.3-13.1z"/><path color="#dcd9df" d="M249.7 333.9l2.9 .5l1.6-1.8l-3-2.1z"/><path color="#3f1251" d="M182.2 280.7l1.4 9.4l1.3-10l-.3 14.5z"/><path color="#ad4e51" d="M153.3 269.2l.2-12.6l1.2-10.3l.3 21.4z"/><path color="#5c359a" d="M225.4 307.6l1.1 9l1.4-13.9l-1.2-9.7z"/><path color="#dcd9df" d="M295.9 334.2l3-1.2l1.5 .9l-2.9-.5z"/><path color="#d6d7dd" d="M276.5 331.1l2.9 3.6l1.6-.9l-2.9-.5z"/><path color="#dcd9df" d="M257.1 332.6l2.9 .7l1.6-.6l-2.9 .6z"/><path color="#dfd9e1" d="M303.4 334.4l3-.8l1.5 .5l-3-.5z"/><path color="#e2d9e2" d="M310.8 334.6l3 .5l1.5-.8l-2.9-.5z"/><path color="#dfd9e1" d="M252.6 334.4l2.9 .5l1.6-2.3l-2.9 0z"/><path color="#cbd2d7" d="M261.6 332.7l2.9 .1l1.6-3.9l-2.9 1.8z"/><path color="#6b1b4d" d="M180 296.9l-.3-25.5l2.4 14l-2-22.6z"/><path color="#dcd9df" d="M284 333.1l2.9 0l1.6 .9l-3-2.3z"/><path color="#d1d5da" d="M291.4 334.5l3-3l1.5 2.7l-2.9-.5z"/><path color="#dcd9df" d="M298.9 333l2.9 2.2l1.6-.8l-3-.5z"/><path color="#ca9c80" d="M185.2 256.5l.1-19.9l4.6 66.4l-1.7-17.3z"/><path color="#dcd9df" d="M286.9 333.1l2.9 2.3l1.6-.9l-2.9-.5z"/><path color="#dfd9e1" d="M306.4 333.6l2.9 1.8l1.5-.8l-2.9-.5z"/><path color="#e2d9e2" d="M313.8 335.1l2.3 .4l1.6-.8l-2.4-.4z"/><path color="#d6d7dd" d="M279.4 334.7l3-2.3l1.6 .7l-3 .7z"/><path color="#cbd2d7" d="M264.5 332.8l3 .3l1.6 .5l-3-4.7z"/><path color="#d6d7dd" d="M272 334l2.9-2.1l1.6-.8l-2.9 2.1z"/><path color="#dfd9e1" d="M255.5 334.9l2.9 .5l1.6-2.1l-2.9-.7z"/><path color="#d6d7dd" d="M260 333.3l2.9-.6l1.6 .1l-2.9-.1z"/><path color="#d1d5da" d="M267.5 333.1l2.9-1.8l1.6 2.7l-2.9-.4z"/><path color="#e2d9e2" d="M309.3 335.4l3 .5l1.5-.8l-3-.5z"/><path color="#a54450" d="M179.4 301.9l.7-6.2l-.3-42.6l-.1 18.3z"/><path color="#ded3d4" d="M154.7 246.3l-.5-23.1l4.7 49.5l-.9 1.1z"/><path color="#d6d7dd" d="M274.9 331.9l3 3.6l1.5-.8l-2.9-3.6z"/><path color="#dcd9df" d="M301.8 335.2l3-1.8l1.6 .2l-3 .8z"/><path color="#d6d7dd" d="M262.9 332.7l3 2.9l1.6-2.5l-3-.3z"/><path color="#d1d5da" d="M294.4 331.5l2.9 3l1.6-1.5l-3 1.2z"/><path color="#431359" d="M224.7 318.2l.7-10.6l1.3-14.6l-1.2-8.5z"/><path color="#dcd9df" d="M258.4 335.4l2.9 .5l1.6-3.2l-2.9 .6zM297.3 334.5l3 1.6l1.5-.9l-2.9-2.2z"/><path color="#d6d7dd" d="M282.4 332.4l2.9 2.3l1.6-1.6l-2.9 0z"/><path color="#e2d9e2" d="M312.3 335.9l2.3 .4l1.5-.8l-2.3-.4z"/><path color="#dcd9df" d="M285.3 334.7l3 1.5l1.5-.8l-2.9-2.3z"/><path color="#d1d5da" d="M289.8 335.4l3-2.9l1.6-1l-3 3z"/><path color="#a94950" d="M180.8 252.3l2.5 34.2l1.8 3.2l-1.3-8.3z"/><path color="#501a74" d="M226.2 295.7l.9-6.6l1.5-3.3l-.9 .2z"/><path color="#d1d5da" d="M270.4 331.3l2.9 3.7l1.6-3.1l-2.9 2.1zM277.9 335.5l2.9-3.1l1.6 0l-3 2.3z"/><path color="#531e7c" d="M219.1 313.2l.7-10.7l1.3-13.1l-.8 6z"/><path color="#dcd9df" d="M304.8 333.4l3 2.1l1.5-.1l-2.9-1.8z"/><path color="#d1d5da" d="M265.9 335.6l2.9 .5l1.6-4.8l-2.9 1.8z"/><path color="#dfd9e1" d="M261.3 335.9l3 .6l1.6-.9l-3-2.9z"/><path color="#531e7c" d="M219.7 309.9l.6-14.5l1.5-6.9l-.9 3.6z"/><path color="#4c176b" d="M226.3 286.3l1.1 6.6l1.6-2.2l-.7 11z"/><path color="#dcd9df" d="M300.3 336.1l2.9 .5l1.6-3.2l-3 1.8z"/><path color="#431359" d="M225.5 284.5l1.2 8.5l2.1 21.3l-1.4-21.4z"/><path color="#dfd9e1" d="M307.8 335.5l2.9 1.3l1.6-.9l-3-.5z"/><path color="#a94950" d="M180.1 276l2.2 27.6l1-17.1l-2.5-34.2z"/><path color="#e2d9e2" d="M264.3 336.5l2.9 .5l1.6-.9l-2.9-.5z"/><path color="#34113e" d="M221.1 315.6l1 4.9l.8-35.4l-1.1-4.8z"/><path color="#dfd9e1" d="M295.8 336.4l2.9 .5l1.6-.8l-3-1.6z"/><path color="#341238" d="M221.8 288.5l.7-11l1.9 10.4l-.2 29.7z"/><path color="#d1d5da" d="M292.8 332.5l3 3.9l1.5-1.9l-2.9-3z"/><path color="#9c3950" d="M184.2 253.9l1 2.6l3 29.2l-1.8-18.9z"/><path color="#cbd2d7" d="M273.3 335l3-3.6l1.6 4.1l-3-3.6z"/><path color="#e2d9e2" d="M310.7 336.8l2.3 .4l1.6-.9l-2.3-.4z"/><path color="#d1d5da" d="M268.8 336.1l3-.8l1.5-.3l-2.9-3.7z"/><path color="#dcd9df" d="M283.8 334.5l2.9 2.5l1.6-.8l-3-1.5z"/><path color="#ad4e51" d="M181.5 250.6l2.3 30.8l2.6 21l-3.1-50.6z"/><path color="#dcd9df" d="M303.2 336.6l3 .5l1.6-1.6l-3-2.1z"/><path color="#e2d9e2" d="M298.7 336.9l3 .5l1.5-.8l-2.9-.5z"/><path color="#d1d5da" d="M280.8 332.4l3 2.1l1.5 .2l-2.9-2.3zM288.3 336.2l3-3.7l1.5 0l-3 2.9z"/><path color="#dfd9e1" d="M267.2 337l3 .5l1.6-2.2l-3 .8zM306.2 337.1l3 .5l1.5-.8l-2.9-1.3zM294.2 337.2l3-.1l1.5-.2l-2.9-.5z"/><path color="#cbd2d7" d="M271.8 335.3l2.9 1.9l1.6-5.8l-3 3.6z"/><path color="#e2d9e2" d="M301.7 337.4l2.9 .5l1.6-.8l-3-.5z"/><path color="#d1d5da" d="M291.3 332.5l2.9 4.7l1.6-.8l-3-3.9z"/><path color="#311339" d="M225.2 278.7l1.1 7.6l2 15.4l-1.2-12.6z"/><path color="#e2d9e2" d="M309.2 337.6l2.3 .4l1.5-.8l-2.3-.4z"/><path color="#cbd2d7" d="M276.3 331.4l3 1.2l1.5-.2l-2.9 3.1z"/><path color="#311339" d="M219.8 302.5l1.3 13.1l.7-35.3l-.7 9.1z"/><path color="#dfd9e1" d="M270.2 337.5l2.9 .5l1.6-.8l-2.9-1.9z"/><path color="#311339" d="M224.4 287.9l.8-9.2l1.9 10.4l-.9 6.6z"/><path color="#dfd9e1" d="M297.2 337.1l2.9 .6l1.6-.3l-3-.5z"/><path color="#e2d9e2" d="M304.6 337.9l3 .4l1.6-.7l-3-.5z"/><path color="#cbd2d7" d="M286.7 337l3-4.7l1.6 .2l-3 3.7z"/><path color="#d1b5a1" d="M182.3 272.7l-.8-39.6l2.7 20.8l.9 43.1z"/><path color="#dfd9e1" d="M292.6 338l3 .6l1.6-1.5l-3 .1zM273.1 338l3 .5l1.6-3.3l-3 2z"/><path color="#c2ced4" d="M282.2 331.8l3 4l1.5 1.2l-2.9-2.5z"/><path color="#cbd2d7" d="M274.7 337.2l3-2l1.6-2.6l-3-1.2z"/><path color="#c2ced4" d="M279.3 332.6l2.9-.8l1.6 2.7l-3-2.1z"/><path color="#e2d9e2" d="M307.6 338.3l2.3 .5l1.6-.8l-2.3-.4z"/><path color="#cbd2d7" d="M289.7 332.3l2.9 5.7l1.6-.8l-2.9-4.7z"/><path color="#d6d7dd" d="M300.1 337.7l3-2l1.5 2.2l-2.9-.5z"/><path color="#dfd9e1" d="M295.6 338.6l3 .5l1.5-1.4l-2.9-.6z"/><path color="#ded3d4" d="M153.5 256.6l1.5 9.9l-.8-43.3l.5 23.1z"/><path color="#dcd9df" d="M276.1 338.5l2.9 .5l1.6-4.4l-2.9 .6z"/><path color="#c2ced4" d="M277.7 335.2l2.9-.6l1.6-2.8l-2.9 .8z"/><path color="#dcd9df" d="M291.1 337.3l2.9 .2l1.6 1.1l-3-.6z"/><path color="#bbcad1" d="M285.2 335.8l3-4.4l1.5 .9l-3 4.7z"/><path color="#42123e" d="M222.9 285.1l1.8 33.1l.8-33.7l-1.1-9.5z"/><path color="#d6d7dd" d="M303.1 335.7l3 1.2l1.5 1.4l-3-.4z"/><path color="#cca287" d="M183.3 251.8l3.1 50.6l-1.1-65.8l-.1 19.9z"/><path color="#c2ced4" d="M280.6 334.6l3 2.7l1.6-1.5l-3-4z"/><path color="#dcd9df" d="M306.1 336.9l2.3 2.8l1.5-.9l-2.3-.5z"/><path color="#d1b5a1" d="M180.1 262.8l2 22.6l-.6-52.3l.8 39.6z"/><path color="#dcd9df" d="M279 339l3 .5l1.6-2.2l-3-2.7zM294 337.5l3 2.2l1.6-.6l-3-.5z"/><path color="#bbcad1" d="M288.2 331.4l2.9 5.9l1.5 .7l-2.9-5.7z"/><path color="#341238" d="M220.3 295.4l.8-6l1.4-11.9l-.7 11z"/><path color="#d1d5da" d="M298.6 339.1l3-3l1.5-.4l-3 2z"/><path color="#dfd9e1" d="M282 339.5l2.9 .5l1.6-2.5l-2.9-.2z"/><path color="#bbcad1" d="M283.6 337.3l2.9 .2l1.7-6.1l-3 4.4z"/><path color="#ad4e51" d="M180.1 295.7l0-19.7l.7-23.7l-1 .8z"/><path color="#dcd9df" d="M289.5 338.4l3 1.6l1.5-2.5l-2.9-.2z"/><path color="#b15552" d="M179.7 271.4l.1-18.3l1.7-2.5l.6 34.8z"/><path color="#bbcad1" d="M286.5 337.5l3 .9l1.6-1.1l-2.9-5.9z"/><path color="#dfd9e1" d="M284.9 340l3 .6l1.6-2.2l-3-.9z"/><path color="#dcd9df" d="M304.5 339.7l2.3 .6l1.6-.6l-2.3-2.8z"/><path color="#42123e" d="M224.4 275l1.1 9.5l1.9 8.4l-1.1-6.6z"/><path color="#d1d5da" d="M297 339.7l3-1.3l1.6-2.3l-3 3zM301.6 336.1l2.9 3.6l1.6-2.8l-3-1.2z"/><path color="#dcd9df" d="M292.5 340l3-1.1l1.5 .8l-3-2.2z"/><path color="#dfd9e1" d="M287.9 340.6l3 .5l1.6-1.1l-3-1.6z"/><path color="#dcd9df" d="M295.5 338.9l2.9 2l1.6-2.5l-3 1.3z"/><path color="#d1d5da" d="M300 338.4l3 .1l1.5 1.2l-2.9-3.6z"/><path color="#dfd9e1" d="M290.9 341.1l2.9 .5l1.7-2.7l-3 1.1z"/><path color="#d6d7dd" d="M303 338.5l2.3-.1l1.5 1.9l-2.3-.6z"/><path color="#dcd9df" d="M298.4 340.9l3 .5l1.6-2.9l-3-.1z"/><path color="#dfd9e1" d="M293.8 341.6l3 .5l1.6-1.2l-2.9-2z"/><path color="#e2d9e2" d="M296.8 342.1l3 .5l1.6-1.2l-3-.5z"/><path color="#d6d7dd" d="M301.4 341.4l2.3 .8l1.6-3.8l-2.3 .1z"/><path color="#64194b" d="M222.5 277.5l.8-7.4l1.9 8.6l-.8 9.2z"/><path color="#e2d9e2" d="M299.8 342.6l2.3 .4l1.6-.8l-2.3-.8z"/><path color="#b55b53" d="M179.8 253.1l1-.8l3 29.1l-2.3-30.8z"/><path color="#d4bcac" d="M182.1 285.4l-.6-34.8l1.8 1.2l-1.8-18.7z"/><path color="#64194b" d="M223.3 270.1l1.1 4.9l1.9 11.3l-1.1-7.6zM221.1 289.4l.7-9.1l1.5-10.2l-.8 7.4zM221.8 280.3l1.1 4.8l1.5-10.1l-1.1-4.9z"/><path color="#d6c1b4" d="M181.5 233.1l1.8 18.7l1.9 4.7l-1-2.6z"/></g><g fill="none" stroke="#333" stroke-width=".55"><polyline points="129.6,319.3 307.3,350.5 403.1,298.2 409.9,203.3"/><path d="M142.1 320.5L138.5 322.2"/><path d="M170 325.4L166.4 327.1"/><path d="M198.4 330.3L194.8 332.1"/><path d="M227.1 335.4L223.6 337.1"/><path d="M256.2 340.5L252.8 342.3"/><path d="M285.8 345.7L282.4 347.5"/><path d="M310.7 346.7L316.7 347.7"/><path d="M329.9 336.2L335.9 337.2"/><path d="M348.6 326L354.5 327"/><path d="M366.8 316.1L372.6 317.1"/><path d="M384.4 306.5L390.2 307.4"/><path d="M402.7 282.4L406.4 283.1"/><path d="M403.7 268.6L407.4 269.3"/><path d="M404.7 254.6L408.4 255.3"/><path d="M405.7 240.3L409.4 241"/><path d="M406.7 225.9L410.4 226.6"/><path d="M407.8 211.2L411.5 211.9"/></g><g font-family="'Liberation Sans','DejaVu Sans',sans-serif" font-size="3.6" fill="#333" text-anchor="middle"><text x="137.9" y="328.5">0</text><text x="165.9" y="333.4">10</text><text x="194.2" y="338.3">20</text><text x="223" y="343.4">30</text><text x="252.1" y="348.5">40</text><text x="281.7" y="353.7">50</text><text x="318.2" y="353.5">0</text><text x="337.4" y="343">5</text><text x="356" y="332.8">10</text><text x="374.1" y="322.9">15</text><text x="391.8" y="313.2">20</text><text x="411.6" y="285.1">100</text><text x="412.6" y="271.3">200</text><text x="413.6" y="257.2">300</text><text x="414.6" y="243">400</text><text x="415.6" y="228.6">500</text><text x="416.7" y="213.9">600</text></g><text transform="translate(210.7,346.1) rotate(10.4)" text-anchor="middle" font-family="'Liberation Sans','DejaVu Sans',sans-serif" font-weight="bold" font-style="italic" font-size="7.6" fill="#111">Time (s)</text><text transform="translate(368.5,333.5) rotate(-29.3)" text-anchor="middle" font-family="'Liberation Sans','DejaVu Sans',sans-serif" font-weight="bold" font-size="6.8" fill="#111">Frequency (Hz)</text><text transform="translate(424.2,251.6) rotate(-87)" text-anchor="middle" font-family="'Liberation Sans','DejaVu Sans',sans-serif" font-weight="bold" font-size="6.6" fill="#111">Wavelet Scale</text>
<text x="274.8" y="79.3" text-anchor="middle" font-family="'Liberation Serif','DejaVu Serif',serif" font-size="12" fill="#111">(<tspan font-weight="bold">a</tspan>)</text>
<text x="274.8" y="171.8" text-anchor="middle" font-family="'Liberation Serif','DejaVu Serif',serif" font-size="12" fill="#111">(<tspan font-weight="bold">b</tspan>)</text>
<text x="274.8" y="368.5" text-anchor="middle" font-family="'Liberation Serif','DejaVu Serif',serif" font-size="12" fill="#111">(<tspan font-weight="bold">c</tspan>)</text>
</svg></body></html>
